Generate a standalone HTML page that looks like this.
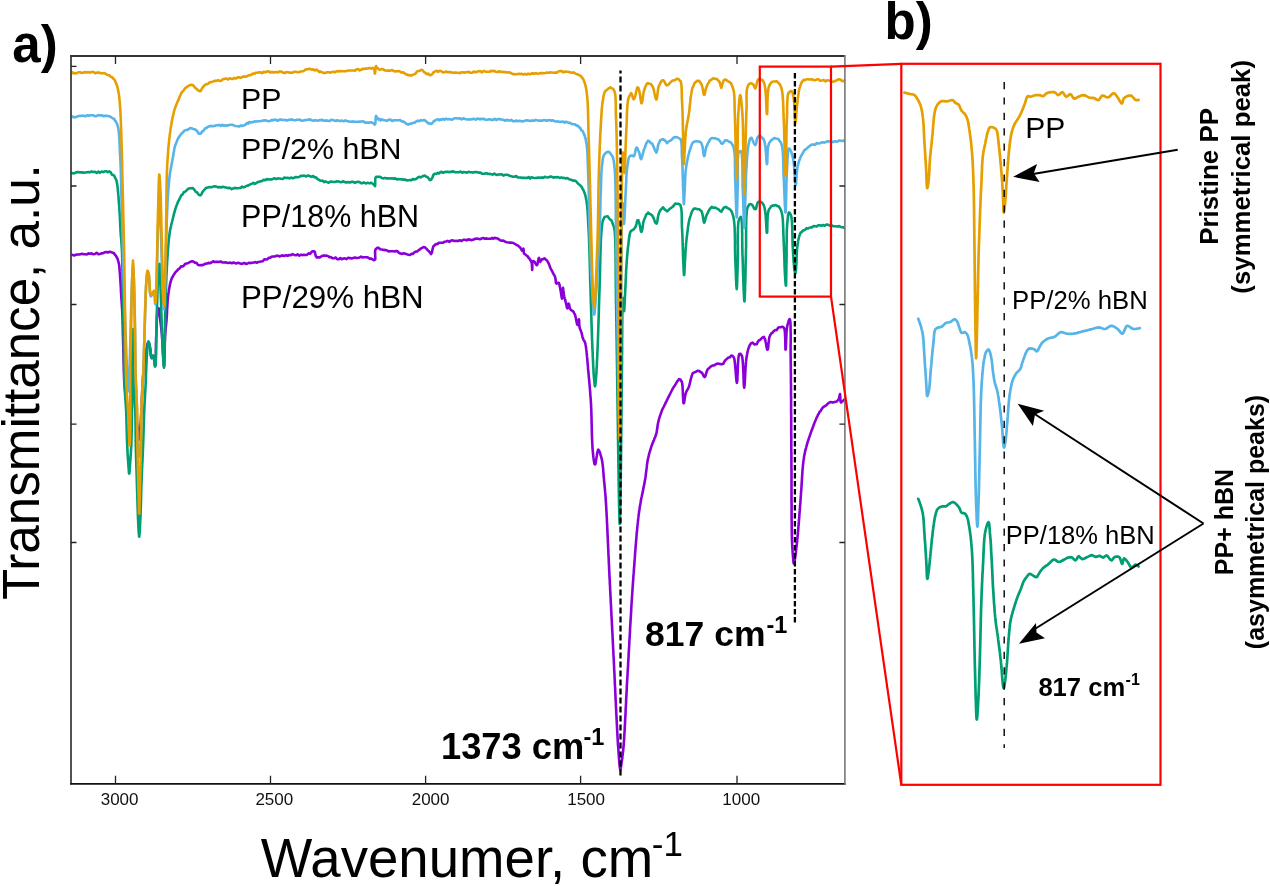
<!DOCTYPE html><html><head><meta charset="utf-8"><title>FTIR spectra</title><style>html,body{margin:0;padding:0;background:#fff;overflow:hidden}svg{display:block}</style></head><body><svg width="1270" height="886" viewBox="0 0 1270 886">
<rect width="1270" height="886" fill="#fff"/>
<defs><clipPath id="ca"><rect x="71.0" y="56.1" width="773.9" height="727.6"/></clipPath></defs>
<g clip-path="url(#ca)" fill="none" stroke-width="2.6" stroke-linejoin="round" stroke-linecap="round">
<path stroke="#8B00D9" d="M72.5 254.9L73.0 255.0 74.3 255.5 76.1 254.6 78.2 254.5 80.2 254.4 82.0 253.7 83.6 254.2 85.2 254.3 86.8 254.5 88.4 253.4 90.0 253.7 91.6 253.3 93.2 254.3 94.9 254.0 96.6 252.8 98.3 254.1 100.0 254.0 101.5 253.4 103.1 253.2 104.7 252.3 106.4 251.9 108.0 252.5 109.5 251.8 110.8 252.1 112.0 252.4 113.6 252.9 114.9 254.6 116.0 255.9 116.8 257.5 117.5 258.7 118.0 260.3 118.5 262.0 118.8 263.4 119.1 264.8 119.3 266.4 119.4 268.0 119.6 269.7 119.7 271.4 119.9 273.2 120.0 275.0 120.1 276.4 120.2 277.8 120.3 279.3 120.4 280.9 120.5 282.4 120.6 284.0 120.7 285.6 120.8 287.2 120.9 288.8 120.9 290.4 121.0 291.9 121.1 293.5 121.2 295.0 121.3 296.5 121.4 298.1 121.5 299.6 121.6 301.1 121.7 302.6 121.8 304.1 121.9 305.6 122.0 307.1 122.1 308.6 122.2 310.0 122.2 311.5 122.3 313.0 122.4 314.5 122.4 316.1 122.5 317.5 122.5 319.0 122.6 320.5 122.6 322.0 122.6 323.5 122.7 325.0 122.7 326.6 122.8 328.3 122.8 330.0 122.8 331.3 122.9 332.7 122.9 334.1 122.9 335.5 123.0 337.0 123.0 338.5 123.1 340.0 123.1 341.5 123.1 343.1 123.2 344.6 123.2 346.2 123.3 347.8 123.3 349.4 123.3 350.9 123.4 352.5 123.4 354.0 123.5 355.6 123.5 357.1 123.6 358.6 123.6 360.0 123.6 361.6 123.7 363.3 123.7 364.9 123.8 366.6 123.8 368.2 123.8 369.8 123.9 371.4 123.9 373.0 124.0 374.6 124.0 376.2 124.1 377.7 124.1 379.3 124.2 380.7 124.3 382.2 124.4 383.6 124.5 385.0 124.7 386.7 124.8 388.3 125.0 389.9 125.2 391.4 125.4 392.9 125.6 394.4 125.8 395.8 126.1 397.3 126.3 398.6 126.5 400.0 126.8 401.9 127.0 403.8 127.3 405.6 127.6 407.3 127.9 408.8 128.3 409.9 129.0 411.6 129.6 411.4 129.8 411.6 130.0 410.7 130.1 409.3 130.2 407.6 130.3 405.7 130.3 403.8 130.3 401.8 130.4 400.0 130.5 398.6 130.5 397.2 130.5 395.7 130.6 394.2 130.6 392.7 130.6 391.1 130.6 389.5 130.7 387.9 130.7 386.3 130.7 384.7 130.7 383.1 130.8 381.6 130.8 380.0 130.8 378.5 130.9 376.9 130.9 375.3 131.0 373.8 131.0 372.2 131.1 370.6 131.1 369.0 131.2 367.5 131.2 365.9 131.3 364.4 131.4 362.9 131.4 361.4 131.5 360.0 131.6 358.4 131.7 356.7 131.8 355.1 131.9 353.5 132.0 351.9 132.1 350.3 132.2 348.8 132.3 347.4 132.4 346.2 132.5 345.0 132.7 342.8 133.0 340.8 133.2 340.4 133.3 340.5 133.4 341.7 133.5 343.5 133.6 345.6 133.7 347.8 133.8 350.0 133.8 351.2 133.9 352.6 133.9 353.9 134.0 355.4 134.0 356.8 134.0 358.4 134.1 359.9 134.1 361.5 134.2 363.2 134.2 364.8 134.2 366.5 134.2 368.2 134.3 369.9 134.3 371.6 134.4 373.3 134.4 375.0 134.4 376.4 134.5 377.9 134.5 379.4 134.5 381.0 134.5 382.6 134.6 384.2 134.6 385.9 134.6 387.6 134.6 389.3 134.7 390.9 134.7 392.6 134.7 394.3 134.8 395.9 134.8 397.6 134.8 399.2 134.9 400.7 134.9 402.2 135.0 403.7 135.0 405.1 135.1 406.4 135.1 407.7 135.2 408.9 135.3 410.0 135.5 412.0 135.7 413.8 135.9 415.5 136.1 417.0 136.4 418.5 136.6 420.0 136.9 421.6 137.1 423.2 137.4 424.8 137.6 426.3 137.9 428.0 138.1 429.6 138.3 431.6 138.5 433.6 138.7 435.5 138.8 437.2 139.0 438.3 139.2 439.4 139.4 438.3 139.5 437.3 139.7 435.8 139.9 433.9 140.0 431.9 140.2 429.9 140.3 428.0 140.4 426.7 140.5 425.3 140.6 424.0 140.7 422.6 140.8 421.1 140.9 419.7 140.9 418.2 141.0 416.6 141.1 415.0 141.2 413.4 141.3 411.7 141.4 410.0 141.5 408.7 141.5 407.3 141.6 405.9 141.7 404.5 141.7 403.0 141.8 401.4 141.9 399.9 141.9 398.3 142.0 396.6 142.1 395.0 142.2 393.4 142.2 391.7 142.3 390.1 142.4 388.5 142.5 386.8 142.5 385.2 142.6 383.7 142.7 382.1 142.8 380.6 142.9 379.1 143.0 377.7 143.1 376.3 143.2 375.0 143.4 373.2 143.5 371.4 143.7 369.7 143.9 368.0 144.1 366.4 144.3 364.8 144.5 363.2 144.7 361.7 144.9 360.2 145.1 358.7 145.3 357.4 145.5 356.0 145.7 354.1 146.0 352.3 146.2 350.5 146.4 348.9 146.7 347.4 147.0 346.0 147.7 343.4 148.4 342.7 148.9 342.8 149.3 344.6 149.8 346.9 150.2 349.0 150.4 350.6 150.6 352.5 150.8 354.5 151.0 356.2 151.3 357.5 151.6 358.1 152.4 357.3 153.2 356.0 153.6 356.8 154.0 358.7 154.3 361.1 154.6 363.5 154.9 365.3 155.1 365.8 155.2 365.9 155.3 365.4 155.4 364.6 155.5 363.7 155.6 362.5 155.7 361.1 155.7 359.5 155.8 357.8 155.8 356.0 155.9 354.1 155.9 352.1 155.9 350.0 156.0 348.0 156.0 345.9 156.0 343.9 156.1 341.9 156.1 340.0 156.2 338.2 156.2 336.5 156.3 335.0 156.4 333.3 156.4 331.6 156.5 329.9 156.5 328.1 156.6 326.4 156.7 324.6 156.7 322.9 156.8 321.3 156.8 319.7 156.9 318.1 157.0 316.7 157.1 315.3 157.2 314.1 157.4 313.0 157.5 312.0 158.1 309.3 158.7 308.4 159.0 308.5 159.2 309.8 159.4 311.6 159.6 313.7 159.8 316.0 160.0 318.0 160.2 319.4 160.3 320.8 160.5 322.3 160.7 323.8 160.9 325.3 161.1 326.9 161.3 328.5 161.4 330.1 161.6 331.7 161.8 333.4 161.9 335.0 162.0 336.4 162.1 337.9 162.2 339.5 162.3 341.1 162.4 342.6 162.5 344.2 162.6 345.8 162.7 347.4 162.8 349.0 162.9 350.5 162.9 352.0 163.0 353.4 163.1 354.7 163.2 356.0 163.3 358.1 163.5 360.3 163.6 362.5 163.7 364.3 163.9 365.5 164.0 365.9 164.1 365.8 164.1 365.4 164.2 364.6 164.2 363.6 164.3 362.4 164.4 360.9 164.4 359.3 164.5 357.6 164.5 355.7 164.6 353.7 164.6 351.7 164.7 349.6 164.7 347.6 164.8 345.5 164.8 343.5 164.9 341.5 165.0 339.7 165.0 338.0 165.1 336.4 165.2 335.0 165.3 333.2 165.5 331.5 165.6 329.9 165.7 328.4 165.9 326.9 166.0 325.4 166.2 323.9 166.3 322.3 166.5 320.7 166.6 319.0 166.7 317.5 166.8 316.0 166.9 314.5 167.0 312.9 167.0 311.3 167.1 309.7 167.2 308.0 167.3 306.4 167.4 304.7 167.5 303.1 167.6 301.5 167.7 299.9 167.9 298.3 168.0 296.8 168.2 295.4 168.4 293.7 168.7 291.9 168.9 290.2 169.2 288.6 169.5 286.9 169.8 285.3 170.1 283.8 170.5 282.3 170.9 280.9 171.4 279.5 172.0 277.8 172.7 276.9 173.4 275.3 174.2 274.3 175.1 272.6 176.1 271.6 177.2 270.5 178.4 269.2 179.7 268.4 181.0 266.4 182.4 266.5 183.7 265.8 185.0 264.0 186.7 263.4 188.4 263.0 190.1 261.9 191.9 261.3 193.4 261.6 194.9 262.8 196.5 262.9 198.1 265.0 199.9 265.3 201.2 265.1 202.5 265.1 203.9 264.5 205.3 263.7 206.8 263.6 208.3 262.9 209.9 263.2 211.5 262.5 213.1 261.3 214.8 262.1 216.2 261.8 217.6 261.9 219.1 262.0 220.6 261.5 222.2 262.4 223.7 262.5 225.3 262.4 227.0 262.7 228.6 263.0 230.2 262.6 231.8 263.3 233.4 262.5 235.0 263.1 236.6 263.4 238.1 262.8 239.6 263.3 241.2 263.7 242.8 263.6 244.4 263.0 246.1 263.9 247.6 263.4 249.2 262.8 250.8 263.1 252.3 262.8 253.8 262.5 255.3 262.1 256.7 262.8 258.1 262.0 259.5 261.8 261.2 261.5 262.8 261.3 264.3 259.3 265.8 259.6 267.2 259.2 268.7 257.9 270.3 257.6 271.9 256.6 273.4 256.5 274.9 256.5 276.4 255.8 278.0 255.7 279.6 256.5 281.2 255.7 282.8 255.4 284.5 255.9 286.1 255.2 287.7 255.7 289.3 255.0 290.9 255.2 292.6 254.1 294.3 254.9 296.0 255.3 297.6 254.3 299.3 255.7 301.0 254.7 302.5 255.1 304.0 254.7 305.4 255.0 306.7 255.0 308.5 253.4 310.2 253.7 311.7 251.8 313.0 251.2 314.1 251.2 314.9 252.1 315.3 254.1 315.8 256.1 316.6 257.4 318.0 257.2 319.8 257.4 321.9 256.1 324.0 255.4 325.3 255.8 326.6 255.6 328.0 256.1 329.4 257.3 330.9 257.1 332.4 258.2 334.0 258.3 335.6 257.5 337.2 259.2 338.9 259.3 340.3 258.0 341.8 259.2 343.3 258.5 344.9 258.4 346.6 259.1 348.2 257.8 349.9 258.1 351.6 258.5 353.3 258.0 354.9 257.5 356.6 258.1 358.1 257.8 359.7 257.4 361.1 256.6 362.4 257.4 363.7 257.2 365.7 257.2 367.7 257.4 369.6 258.6 371.2 258.5 372.6 259.4 373.7 260.1 374.5 260.0 375.0 259.7 375.3 259.2 375.3 257.7 375.2 255.7 375.1 253.5 375.1 251.4 375.4 249.7 376.1 248.9 377.1 247.8 378.5 247.7 380.1 249.2 381.9 249.5 383.7 249.9 385.5 250.1 387.2 250.5 388.6 251.4 390.3 251.3 391.8 251.2 393.3 251.2 395.0 251.5 396.2 250.9 397.6 251.3 399.0 252.9 400.6 253.4 402.1 253.9 403.7 253.2 405.3 253.7 406.9 254.3 408.4 254.7 409.9 255.0 411.3 253.9 412.7 254.0 414.2 252.5 415.7 251.6 417.1 251.4 418.6 250.2 420.0 249.4 421.3 248.2 422.5 247.7 423.7 247.0 424.8 247.2 426.3 248.6 427.7 250.2 428.9 251.2 430.0 252.6 431.0 254.1 431.7 253.1 432.1 251.7 432.4 250.0 432.8 248.1 433.5 246.1 434.7 245.3 435.5 244.2 436.4 244.1 437.5 244.2 438.7 242.8 439.9 242.8 441.3 242.8 442.8 242.8 444.3 241.8 445.9 241.5 447.6 240.9 449.3 241.9 451.1 240.5 452.8 240.4 454.6 241.0 456.4 240.8 458.2 241.0 459.9 240.3 461.6 240.9 463.3 239.7 465.0 239.8 466.6 240.4 468.1 239.4 469.5 239.6 471.2 240.1 472.9 239.8 474.7 239.0 476.4 238.6 478.1 238.8 479.9 239.2 481.6 238.5 483.3 238.0 484.9 238.7 486.5 238.4 488.0 238.8 489.4 238.8 490.8 238.7 492.1 238.0 493.2 238.6 494.3 237.9 496.5 238.2 498.2 238.8 500.0 240.2 501.7 240.8 503.4 240.6 505.1 241.6 506.7 242.2 508.5 242.5 510.2 242.6 512.0 242.8 513.4 243.0 515.0 244.0 516.5 245.0 517.9 245.4 519.1 246.6 520.3 247.7 521.2 249.1 522.0 250.7 522.8 250.2 523.4 248.7 523.7 250.1 523.7 252.1 524.1 253.7 525.4 254.5 526.8 255.7 527.8 256.4 528.7 258.0 529.5 258.6 530.6 260.5 531.5 262.1 531.9 263.9 532.0 266.3 532.1 268.4 532.2 269.9 532.3 268.5 532.3 266.5 532.3 264.2 532.5 262.1 532.9 261.3 533.8 261.1 534.9 262.2 536.0 264.5 536.9 265.2 537.4 264.4 537.8 262.5 538.2 260.3 538.6 258.5 539.0 257.9 539.6 259.7 540.3 261.9 541.0 260.8 542.0 259.3 543.2 259.1 544.4 258.3 545.8 259.6 547.1 260.7 547.8 261.9 548.5 263.1 549.1 264.6 549.8 266.3 550.4 268.0 551.1 269.4 551.8 270.7 552.6 272.2 553.3 273.6 554.0 274.7 554.7 276.0 555.2 277.4 555.6 279.4 555.8 281.5 556.0 283.2 556.5 283.6 557.5 283.0 558.6 282.7 559.4 284.3 559.9 286.9 560.2 288.4 560.5 290.1 560.8 291.8 561.1 293.5 561.3 295.0 561.7 297.6 562.0 298.6 562.1 298.4 562.3 296.9 562.4 294.7 562.6 292.5 562.7 290.3 562.8 288.8 563.0 287.8 563.2 288.9 563.4 290.7 563.7 292.9 564.0 295.0 564.3 296.6 564.7 298.3 565.2 299.9 565.6 301.6 566.0 303.1 566.5 305.4 566.9 307.5 567.4 308.5 567.8 307.1 568.3 304.5 568.7 303.7 569.1 304.2 569.5 306.5 570.1 308.7 571.0 310.0 572.1 310.8 573.1 311.2 574.1 313.1 574.9 314.4 575.5 316.6 575.9 318.3 576.3 320.5 576.7 322.6 577.1 324.2 577.5 325.0 578.0 323.4 578.5 320.7 578.9 319.3 579.1 319.9 579.2 321.5 579.2 323.6 579.4 325.7 579.6 327.5 580.2 329.3 580.9 331.1 581.6 332.9 582.0 334.7 582.4 336.6 582.9 338.3 583.6 340.1 584.3 340.8 585.0 342.4 585.4 343.7 585.6 345.0 585.9 346.5 586.1 348.1 586.3 349.9 586.5 351.1 586.6 352.4 586.8 353.8 586.9 355.2 587.0 356.7 587.2 358.2 587.3 359.8 587.5 361.5 587.6 363.1 587.8 364.8 587.9 366.5 588.0 368.3 588.2 370.0 588.3 371.4 588.4 372.8 588.6 374.2 588.7 375.6 588.8 377.1 589.0 378.5 589.1 380.0 589.3 381.5 589.4 383.0 589.5 384.6 589.7 386.1 589.8 387.7 589.9 389.3 590.1 390.9 590.2 392.5 590.3 394.1 590.4 395.8 590.6 397.4 590.7 399.1 590.8 400.8 590.9 402.5 591.0 403.9 591.1 405.3 591.1 406.8 591.2 408.3 591.3 409.9 591.3 411.5 591.4 413.1 591.4 414.7 591.5 416.4 591.5 418.0 591.6 419.7 591.6 421.4 591.6 423.1 591.7 424.8 591.7 426.5 591.8 428.2 591.8 429.9 591.8 431.5 591.9 433.2 591.9 434.8 592.0 436.4 592.0 438.0 592.1 439.5 592.2 441.0 592.2 442.5 592.3 443.9 592.4 445.3 592.4 446.6 592.5 447.9 592.6 449.1 592.7 450.2 592.8 451.3 593.0 453.3 593.2 455.4 593.4 457.4 593.7 459.4 593.9 461.1 594.2 462.6 594.4 463.8 594.7 464.3 595.0 464.2 595.3 464.4 595.6 463.3 595.9 461.6 596.2 459.6 596.5 457.4 596.9 455.3 597.2 453.2 597.6 451.6 597.9 450.4 598.3 449.7 598.9 450.3 599.5 451.3 600.1 453.2 600.7 455.3 601.3 457.4 601.8 459.4 602.1 460.7 602.3 462.1 602.5 463.6 602.7 465.1 602.9 466.8 603.1 468.4 603.2 470.1 603.3 471.8 603.5 473.4 603.6 475.1 603.7 476.8 603.9 478.4 604.0 480.0 604.2 481.6 604.3 483.1 604.5 484.5 604.6 485.9 604.7 487.3 604.9 488.7 605.0 490.2 605.1 491.7 605.3 493.3 605.4 495.1 605.6 497.0 605.7 499.0 605.8 500.0 605.8 501.1 605.9 502.2 606.0 503.3 606.1 504.5 606.1 505.7 606.2 506.9 606.3 508.2 606.3 509.5 606.4 510.8 606.5 512.2 606.6 513.6 606.6 515.0 606.7 516.4 606.8 517.9 606.9 519.4 606.9 520.9 607.0 522.4 607.1 524.0 607.2 525.5 607.2 527.1 607.3 528.7 607.4 530.3 607.5 531.9 607.5 533.6 607.6 535.2 607.7 536.9 607.8 538.5 607.8 540.2 607.9 541.9 608.0 543.6 608.1 545.3 608.1 547.0 608.2 548.7 608.3 550.4 608.4 552.1 608.4 553.8 608.5 555.5 608.6 557.1 608.7 558.8 608.8 560.5 608.8 562.2 608.9 563.8 609.0 565.5 609.1 567.1 609.1 568.8 609.2 570.4 609.3 572.0 609.4 573.6 609.4 575.1 609.5 576.7 609.6 578.2 609.7 579.7 609.8 581.2 609.8 582.8 609.9 584.3 610.0 585.8 610.1 587.3 610.1 588.8 610.2 590.3 610.3 591.8 610.4 593.4 610.4 594.9 610.5 596.4 610.6 597.9 610.7 599.4 610.7 600.9 610.8 602.5 610.9 604.0 611.0 605.5 611.1 607.0 611.1 608.5 611.2 610.0 611.3 611.5 611.4 613.1 611.4 614.6 611.5 616.1 611.6 617.6 611.7 619.1 611.8 620.6 611.8 622.2 611.9 623.7 612.0 625.2 612.1 626.7 612.1 628.2 612.2 629.7 612.3 631.2 612.4 632.8 612.5 634.3 612.5 635.8 612.6 637.3 612.7 638.8 612.8 640.3 612.8 641.8 612.9 643.4 613.0 644.9 613.1 646.4 613.1 647.9 613.2 649.4 613.3 650.9 613.4 652.5 613.4 654.0 613.5 655.5 613.6 657.0 613.7 658.5 613.8 660.1 613.8 661.6 613.9 663.2 614.0 664.8 614.1 666.4 614.1 668.0 614.2 669.6 614.3 671.2 614.4 672.8 614.5 674.5 614.5 676.1 614.6 677.8 614.7 679.4 614.8 681.1 614.8 682.8 614.9 684.4 615.0 686.1 615.1 687.7 615.2 689.4 615.2 691.0 615.3 692.7 615.4 694.3 615.5 696.0 615.5 697.6 615.6 699.3 615.7 700.9 615.8 702.5 615.9 704.1 615.9 705.7 616.0 707.3 616.1 708.8 616.2 710.4 616.2 711.9 616.3 713.4 616.4 715.0 616.5 716.4 616.5 717.9 616.6 719.4 616.7 720.8 616.8 722.2 616.8 723.6 616.9 724.9 617.0 726.3 617.0 727.6 617.1 728.9 617.2 730.1 617.2 731.4 617.3 732.6 617.4 733.7 617.4 734.9 617.5 736.0 617.6 738.0 617.7 739.9 617.8 741.7 617.9 743.5 618.0 745.3 618.2 747.0 618.3 748.6 618.4 750.2 618.5 751.7 618.6 753.2 618.7 754.6 618.8 756.0 618.9 757.3 619.0 758.6 619.1 759.8 619.2 761.0 619.4 763.3 619.6 765.5 619.8 767.5 620.1 769.0 620.3 769.8 620.6 768.9 620.9 767.2 621.2 765.1 621.5 763.0 621.7 761.8 621.9 760.6 622.1 759.3 622.3 758.0 622.4 756.6 622.6 755.1 622.8 753.5 623.0 751.8 623.2 750.0 623.4 748.0 623.5 747.0 623.6 746.0 623.7 745.0 623.7 743.9 623.8 742.7 623.9 741.6 624.0 740.4 624.1 739.1 624.2 737.9 624.2 736.6 624.3 735.2 624.4 733.9 624.5 732.5 624.6 731.1 624.7 729.6 624.7 728.1 624.8 726.7 624.9 725.1 625.0 723.6 625.1 722.1 625.1 720.5 625.2 718.9 625.3 717.3 625.4 715.7 625.5 714.0 625.6 712.4 625.6 710.7 625.7 709.0 625.8 707.4 625.9 705.7 626.0 704.0 626.1 702.3 626.1 700.6 626.2 698.9 626.3 697.2 626.4 695.4 626.5 693.7 626.6 692.0 626.7 690.3 626.8 688.6 626.8 686.9 626.9 685.2 627.0 683.5 627.1 681.9 627.2 680.2 627.3 678.5 627.4 676.9 627.5 675.5 627.6 674.1 627.6 672.7 627.7 671.2 627.8 669.8 627.9 668.3 628.0 666.9 628.1 665.4 628.1 663.9 628.2 662.4 628.3 660.9 628.4 659.4 628.5 657.9 628.6 656.4 628.6 654.8 628.7 653.3 628.8 651.8 628.9 650.2 629.0 648.7 629.1 647.1 629.2 645.5 629.3 644.0 629.3 642.4 629.4 640.8 629.5 639.2 629.6 637.7 629.7 636.1 629.8 634.5 629.9 632.9 630.0 631.3 630.0 629.8 630.1 628.2 630.2 626.6 630.3 625.0 630.4 623.4 630.5 621.8 630.6 620.2 630.7 618.7 630.8 617.1 630.9 615.5 631.0 613.9 631.1 612.4 631.2 610.8 631.2 609.3 631.3 607.7 631.4 606.1 631.5 604.6 631.6 603.1 631.7 601.5 631.8 600.0 631.9 598.5 632.0 597.0 632.1 595.5 632.2 594.0 632.3 592.5 632.4 591.0 632.5 589.6 632.6 588.1 632.7 586.7 632.8 585.2 632.9 583.8 633.0 582.4 633.1 581.0 633.2 579.6 633.3 578.2 633.4 576.5 633.5 574.9 633.7 573.2 633.8 571.5 633.9 569.8 634.0 568.2 634.2 566.5 634.3 564.8 634.4 563.2 634.5 561.5 634.6 559.9 634.8 558.2 634.9 556.6 635.0 555.0 635.1 553.4 635.2 551.7 635.4 550.1 635.5 548.5 635.6 546.9 635.7 545.3 635.9 543.8 636.0 542.2 636.1 540.6 636.3 539.1 636.4 537.6 636.5 536.0 636.6 534.5 636.8 533.0 636.9 531.5 637.1 530.1 637.2 528.6 637.3 527.1 637.5 525.7 637.6 524.3 637.8 522.9 637.9 521.5 638.1 520.1 638.2 518.8 638.4 517.4 638.5 516.1 638.7 514.8 638.9 513.5 639.0 512.2 639.2 511.0 639.5 509.2 639.7 507.5 640.0 505.8 640.3 504.2 640.6 502.5 640.8 500.9 641.1 499.4 641.4 497.8 641.8 496.3 642.1 494.8 642.4 493.4 642.7 491.9 643.0 490.5 643.3 489.1 643.5 487.7 643.8 486.3 644.1 484.9 644.4 483.6 644.6 482.2 644.9 480.9 645.1 479.5 645.4 477.9 645.6 476.2 645.8 474.6 646.0 473.0 646.2 471.5 646.4 469.9 646.6 468.4 646.8 466.9 646.9 465.4 647.1 464.0 647.3 462.6 647.6 461.1 647.8 459.8 648.1 458.4 648.5 456.7 648.9 455.0 649.3 453.3 649.8 451.7 650.3 450.2 650.7 448.6 651.2 447.1 651.7 445.6 652.2 444.2 652.8 442.7 653.4 441.4 654.0 439.9 654.6 438.2 655.2 437.0 655.7 435.5 656.2 434.0 656.6 432.6 656.8 431.1 657.1 429.6 657.3 428.0 657.5 426.5 657.7 424.9 658.0 423.4 658.3 421.9 658.7 420.3 659.1 418.8 659.6 417.2 660.1 415.6 660.7 414.0 661.2 412.5 661.7 411.1 662.3 409.6 662.9 408.3 663.6 407.0 664.3 405.6 664.9 404.4 665.7 402.6 666.4 401.4 667.0 400.2 667.6 398.7 668.3 397.5 669.0 395.9 669.6 394.8 670.3 393.5 671.0 392.0 671.8 390.5 672.5 389.2 673.4 387.5 674.3 386.2 675.2 385.0 676.2 383.1 677.2 381.3 678.1 380.6 678.9 379.1 679.6 379.2 680.7 379.9 681.6 381.5 681.9 382.1 682.2 383.5 682.4 385.2 682.6 387.1 682.7 389.2 682.8 391.4 682.9 393.6 683.0 395.8 683.1 397.9 683.2 399.7 683.3 401.3 683.4 402.5 683.5 403.3 683.7 402.9 684.0 403.1 684.3 401.6 684.6 399.6 684.9 397.3 685.3 395.2 685.7 393.4 686.4 391.6 687.1 390.2 687.9 389.1 688.7 387.2 689.2 386.0 689.6 384.4 690.0 382.7 690.4 380.9 690.8 379.0 691.3 377.3 691.8 375.6 692.3 374.2 693.0 373.0 693.8 372.6 695.4 372.0 697.4 370.8 699.3 371.0 700.9 372.3 702.0 372.7 703.0 374.8 703.8 376.4 704.6 377.1 705.3 376.5 705.8 374.6 706.4 372.6 707.0 370.7 708.0 369.0 709.2 368.0 710.7 366.6 712.4 365.5 714.1 365.4 715.7 364.4 717.2 363.6 719.1 363.7 720.8 364.3 722.3 364.1 723.4 363.7 724.2 361.9 725.3 360.3 726.6 359.1 728.1 357.7 729.8 357.3 731.3 355.5 732.4 355.7 733.3 356.8 734.0 357.9 734.3 358.8 734.5 360.0 734.7 361.5 734.9 363.2 735.1 365.2 735.3 367.2 735.5 369.3 735.7 371.5 735.8 373.5 736.0 375.5 736.1 377.4 736.3 379.0 736.4 380.4 736.6 381.4 736.7 382.1 736.9 382.8 737.0 382.1 737.2 381.4 737.3 380.5 737.4 379.2 737.4 377.6 737.5 375.8 737.6 373.8 737.7 371.7 737.7 369.6 737.8 367.4 737.9 365.2 738.0 363.1 738.2 361.0 738.3 359.2 738.5 357.5 738.7 356.1 738.9 355.0 739.2 354.1 739.5 354.0 740.5 353.7 741.5 355.3 741.8 355.5 742.1 356.4 742.3 357.6 742.5 359.1 742.7 360.8 742.8 362.7 743.0 364.7 743.1 366.8 743.2 369.0 743.3 371.2 743.4 373.4 743.5 375.5 743.5 377.6 743.6 379.6 743.7 381.4 743.7 383.1 743.8 384.5 743.9 385.7 744.0 386.6 744.1 387.1 744.2 387.7 744.3 387.2 744.4 386.7 744.5 385.9 744.6 384.9 744.7 383.6 744.8 382.2 744.9 380.6 745.0 378.8 745.1 376.9 745.2 375.0 745.3 372.9 745.4 370.9 745.5 368.8 745.6 366.8 745.8 364.9 745.9 363.0 746.1 361.2 746.2 359.6 746.4 358.2 746.6 356.9 747.0 354.9 747.3 353.1 747.7 351.3 748.1 349.7 748.6 348.2 749.1 346.8 749.7 345.3 751.1 343.2 752.7 342.6 754.3 344.4 755.8 344.3 756.8 344.2 757.7 342.1 758.8 340.5 760.4 339.6 762.3 337.7 763.9 336.9 764.6 338.4 765.2 339.8 765.6 341.8 766.1 344.0 766.4 346.2 766.8 348.0 767.1 349.5 767.5 349.7 767.8 349.5 768.1 348.3 768.3 346.8 768.4 344.8 768.6 342.7 768.9 340.6 769.1 338.6 769.5 336.8 770.0 335.7 771.1 333.6 772.5 332.7 774.0 330.8 775.2 330.1 776.7 330.1 778.3 327.5 779.8 327.3 781.1 327.1 782.2 326.8 783.4 327.3 784.2 328.3 784.5 329.3 784.7 330.6 784.9 332.2 785.0 334.1 785.1 336.1 785.2 338.2 785.3 340.3 785.3 342.4 785.3 344.4 785.4 346.1 785.4 347.6 785.4 348.8 785.5 349.5 785.6 349.6 785.7 349.6 785.8 348.9 785.9 347.9 785.9 346.6 786.0 345.0 786.1 343.1 786.1 341.2 786.2 339.1 786.3 337.0 786.4 334.9 786.5 332.9 786.6 330.9 786.8 329.2 787.0 327.7 787.2 326.4 787.6 324.5 788.2 322.5 788.7 320.8 789.3 319.4 789.7 319.1 789.9 319.4 790.0 319.7 790.1 320.2 790.2 320.9 790.3 321.7 790.4 322.7 790.5 323.8 790.5 325.1 790.6 326.4 790.6 327.9 790.6 329.5 790.6 331.2 790.7 333.0 790.7 334.8 790.7 336.7 790.7 338.7 790.7 340.7 790.7 342.7 790.6 344.7 790.6 346.8 790.6 348.9 790.6 351.0 790.6 353.0 790.6 355.0 790.7 357.0 790.7 359.0 790.7 360.9 790.7 362.1 790.7 363.3 790.8 364.5 790.8 365.8 790.8 367.1 790.8 368.4 790.8 369.7 790.8 371.0 790.8 372.3 790.9 373.7 790.9 375.1 790.9 376.5 790.9 377.9 790.9 379.3 790.9 380.7 790.9 382.2 791.0 383.7 791.0 385.1 791.0 386.6 791.0 388.1 791.0 389.6 791.0 391.2 791.0 392.7 791.0 394.2 791.0 395.8 791.1 397.3 791.1 398.9 791.1 400.5 791.1 402.1 791.1 403.6 791.1 405.2 791.1 406.8 791.1 408.4 791.1 410.0 791.1 411.6 791.1 413.2 791.2 414.9 791.2 416.5 791.2 418.1 791.2 419.7 791.2 421.3 791.2 422.9 791.2 424.5 791.2 426.1 791.2 427.7 791.2 429.3 791.2 431.0 791.2 432.5 791.2 434.1 791.3 435.7 791.3 437.3 791.3 438.9 791.3 440.5 791.3 442.0 791.3 443.6 791.3 445.1 791.3 446.7 791.3 448.2 791.3 449.7 791.3 451.2 791.4 452.7 791.4 454.2 791.4 455.7 791.4 457.1 791.4 458.6 791.4 460.0 791.4 461.6 791.4 463.2 791.4 464.8 791.4 466.4 791.4 468.1 791.5 469.7 791.5 471.4 791.5 473.0 791.5 474.7 791.5 476.4 791.5 478.1 791.5 479.7 791.5 481.4 791.5 483.1 791.5 484.8 791.5 486.5 791.5 488.2 791.5 489.9 791.5 491.6 791.5 493.3 791.5 495.0 791.5 496.6 791.5 498.3 791.5 500.0 791.5 501.6 791.6 503.3 791.6 504.9 791.6 506.5 791.6 508.1 791.6 509.7 791.6 511.3 791.6 512.9 791.6 514.4 791.6 515.9 791.6 517.4 791.6 518.9 791.6 520.4 791.7 521.8 791.7 523.2 791.7 524.6 791.7 526.0 791.7 527.3 791.7 528.7 791.7 529.9 791.8 531.2 791.8 532.4 791.8 533.6 791.8 534.8 791.9 535.9 791.9 537.0 791.9 538.1 791.9 539.1 792.0 540.1 792.0 541.0 792.1 543.1 792.2 545.1 792.3 546.9 792.4 548.6 792.5 550.2 792.6 551.7 792.7 553.1 792.8 554.4 792.9 555.7 793.0 557.0 793.2 559.2 793.4 561.4 793.6 563.0 793.8 563.5 794.3 562.4 794.8 559.7 795.0 558.7 795.1 557.7 795.3 556.5 795.5 555.2 795.7 553.8 795.9 552.3 796.0 550.8 796.2 549.2 796.4 547.5 796.6 545.9 796.8 544.1 797.0 542.4 797.2 540.7 797.3 539.0 797.5 537.3 797.6 535.9 797.8 534.6 797.9 533.2 798.0 531.7 798.2 530.3 798.3 528.8 798.4 527.3 798.5 525.8 798.7 524.3 798.8 522.8 798.9 521.2 799.0 519.7 799.2 518.1 799.3 516.5 799.4 515.0 799.5 513.4 799.6 511.8 799.8 510.2 799.9 508.6 800.0 507.0 800.1 505.4 800.3 503.8 800.4 502.3 800.5 500.7 800.6 499.2 800.7 497.7 800.8 496.2 800.9 494.6 801.0 493.0 801.1 491.4 801.3 489.8 801.4 488.1 801.5 486.5 801.6 484.8 801.7 483.2 801.8 481.6 801.9 479.9 802.0 478.3 802.1 476.7 802.2 475.1 802.3 473.6 802.4 472.0 802.5 470.5 802.6 469.1 802.8 467.6 802.9 466.2 803.0 464.9 803.2 463.6 803.3 462.3 803.4 461.1 803.6 460.0 803.9 458.1 804.1 456.5 804.4 454.9 804.7 453.4 805.0 452.0 805.3 450.6 805.7 449.2 806.1 447.8 806.5 446.2 806.9 444.7 807.3 443.3 807.8 441.7 808.3 440.2 808.8 438.6 809.3 437.0 809.9 435.5 810.4 433.9 811.0 432.3 811.5 430.8 812.1 429.3 812.6 428.0 813.2 426.3 813.8 424.8 814.3 423.2 814.9 421.8 815.5 420.4 816.1 419.0 816.7 417.5 817.4 416.4 818.0 414.6 818.7 414.0 819.6 411.8 820.6 411.1 821.6 409.2 822.6 407.7 823.7 406.8 824.8 406.1 826.2 405.3 827.7 403.7 829.3 402.5 830.9 402.1 832.7 402.6 834.7 402.1 836.6 401.6 838.0 400.0 838.8 399.0 839.3 396.9 839.7 395.1 840.0 394.1 840.2 395.2 840.3 397.2 840.4 399.6 840.6 401.6 841.1 402.5 842.3 401.4 843.9 400.1 845.4 398.3 846.0 398.5"/>
<path stroke="#009E73" d="M72.5 173.2L73.0 173.4 74.3 173.3 76.1 172.4 78.2 172.0 80.2 172.4 82.0 172.2 83.6 172.8 85.2 172.5 86.8 172.3 88.4 172.1 90.0 172.2 91.6 171.5 93.3 172.0 95.0 171.7 96.7 172.9 98.4 171.6 100.0 172.8 101.7 171.5 103.3 172.1 104.9 171.3 106.5 171.3 107.9 172.1 109.3 171.4 110.7 172.3 111.9 174.6 113.0 175.0 114.2 175.6 115.1 177.9 116.0 179.4 116.3 180.1 116.6 181.2 116.9 182.4 117.1 183.7 117.3 185.1 117.5 186.6 117.7 188.2 117.9 189.8 118.0 191.5 118.2 193.2 118.3 194.9 118.5 196.7 118.6 198.4 118.7 200.1 118.8 201.8 119.0 203.4 119.1 205.0 119.2 206.5 119.3 208.0 119.4 209.5 119.5 211.1 119.6 212.6 119.7 214.2 119.8 215.7 119.9 217.3 119.9 218.8 120.0 220.3 120.1 221.9 120.2 223.4 120.2 224.9 120.3 226.4 120.4 227.8 120.4 229.2 120.5 230.6 120.6 232.0 120.7 233.6 120.8 235.1 120.9 236.6 121.1 238.0 121.2 239.4 121.3 240.8 121.4 242.2 121.5 243.6 121.6 245.1 121.7 246.6 121.8 248.3 121.9 250.0 122.0 251.3 122.0 252.6 122.1 253.9 122.1 255.3 122.1 256.7 122.2 258.2 122.2 259.6 122.2 261.1 122.3 262.7 122.3 264.2 122.3 265.8 122.4 267.4 122.4 269.0 122.4 270.6 122.4 272.3 122.5 273.9 122.5 275.5 122.5 277.2 122.5 278.8 122.5 280.4 122.6 282.1 122.6 283.7 122.6 285.3 122.6 286.9 122.7 288.5 122.7 290.0 122.7 291.5 122.8 293.1 122.8 294.6 122.8 296.1 122.9 297.6 122.9 299.1 122.9 300.7 122.9 302.2 123.0 303.7 123.0 305.2 123.0 306.7 123.1 308.2 123.1 309.7 123.1 311.2 123.2 312.8 123.2 314.3 123.2 315.8 123.3 317.4 123.3 318.9 123.3 320.5 123.3 322.0 123.4 323.6 123.4 325.2 123.4 326.8 123.5 328.4 123.5 330.0 123.5 331.4 123.6 332.9 123.6 334.4 123.6 336.0 123.6 337.6 123.7 339.1 123.7 340.8 123.7 342.4 123.7 344.0 123.8 345.7 123.8 347.3 123.8 349.0 123.8 350.7 123.9 352.3 123.9 354.0 123.9 355.7 123.9 357.3 124.0 358.9 124.0 360.6 124.0 362.2 124.0 363.7 124.1 365.3 124.1 366.8 124.1 368.3 124.1 369.8 124.2 371.2 124.2 372.6 124.2 374.0 124.3 375.3 124.3 376.5 124.3 377.7 124.4 378.9 124.4 380.0 124.5 381.9 124.5 383.6 124.6 385.1 124.7 386.6 124.7 388.0 124.8 389.4 124.9 390.8 124.9 392.1 125.0 393.5 125.1 395.0 125.2 396.5 125.3 397.9 125.4 399.3 125.5 400.7 125.6 402.1 125.7 403.5 125.8 405.0 125.9 406.6 126.0 408.2 126.1 410.0 126.2 411.2 126.2 412.5 126.3 413.9 126.3 415.3 126.4 416.8 126.4 418.3 126.5 419.9 126.5 421.5 126.5 423.1 126.6 424.7 126.6 426.4 126.7 428.0 126.7 429.7 126.8 431.3 126.8 433.0 126.8 434.6 126.9 436.2 126.9 437.8 127.0 439.3 127.0 440.8 127.1 442.3 127.1 443.7 127.2 445.0 127.3 446.7 127.4 448.5 127.5 450.2 127.5 451.8 127.6 453.5 127.7 455.1 127.8 456.6 127.9 458.1 128.0 459.6 128.1 461.0 128.2 462.4 128.3 463.7 128.4 465.0 128.5 466.9 128.7 468.9 128.8 470.8 128.9 472.5 129.1 473.6 129.2 473.3 129.3 473.6 129.5 472.5 129.6 470.8 129.7 468.9 129.9 466.9 130.0 465.0 130.1 463.7 130.2 462.4 130.3 461.0 130.4 459.6 130.5 458.1 130.6 456.6 130.7 455.1 130.8 453.5 130.9 451.8 131.0 450.2 131.1 448.5 131.2 446.7 131.3 445.0 131.4 443.7 131.4 442.3 131.4 440.9 131.5 439.5 131.5 438.0 131.6 436.5 131.6 435.0 131.6 433.4 131.7 431.9 131.7 430.3 131.7 428.7 131.7 427.1 131.8 425.6 131.8 424.0 131.8 422.4 131.8 420.8 131.9 419.2 131.9 417.6 131.9 416.0 131.9 414.5 131.9 413.0 132.0 411.5 132.0 410.0 132.0 408.5 132.1 406.9 132.1 405.4 132.1 403.9 132.2 402.4 132.2 400.9 132.2 399.4 132.3 397.9 132.3 396.5 132.3 395.0 132.3 393.5 132.4 392.1 132.4 390.6 132.4 389.1 132.5 387.6 132.5 386.1 132.5 384.6 132.5 383.1 132.6 381.5 132.6 380.0 132.6 378.5 132.6 377.0 132.7 375.5 132.7 373.9 132.7 372.3 132.7 370.7 132.7 369.1 132.8 367.5 132.8 365.9 132.8 364.2 132.8 362.6 132.8 361.0 132.8 359.4 132.9 357.8 132.9 356.3 132.9 354.7 132.9 353.2 132.9 351.8 132.9 350.3 133.0 348.9 133.0 347.6 133.0 346.3 133.0 345.0 133.0 343.0 133.0 340.9 133.1 338.7 133.1 336.6 133.1 334.6 133.1 332.8 133.1 331.3 133.2 330.1 133.2 329.3 133.2 329.0 133.2 329.3 133.3 330.1 133.3 331.3 133.3 332.9 133.3 334.7 133.4 336.7 133.4 338.8 133.4 341.0 133.5 343.1 133.5 345.0 133.5 346.3 133.5 347.6 133.6 349.1 133.6 350.5 133.6 352.0 133.6 353.5 133.7 355.0 133.7 356.6 133.7 358.2 133.7 359.8 133.8 361.4 133.8 363.0 133.8 364.6 133.8 366.2 133.9 367.7 133.9 369.2 133.9 370.7 133.9 372.2 134.0 373.6 134.0 375.0 134.0 376.7 134.1 378.3 134.1 380.0 134.2 381.5 134.2 383.1 134.3 384.7 134.3 386.2 134.3 387.7 134.4 389.2 134.4 390.7 134.5 392.1 134.5 393.6 134.6 395.0 134.7 396.6 134.7 398.0 134.8 399.5 134.9 400.9 135.0 402.2 135.0 403.7 135.1 405.1 135.2 406.6 135.2 408.3 135.3 410.0 135.3 411.2 135.4 412.5 135.4 413.8 135.4 415.2 135.4 416.6 135.5 418.1 135.5 419.6 135.5 421.1 135.5 422.6 135.5 424.2 135.6 425.8 135.6 427.4 135.6 429.0 135.6 430.6 135.6 432.2 135.6 433.9 135.7 435.5 135.7 437.1 135.7 438.7 135.7 440.3 135.7 441.9 135.8 443.5 135.8 445.0 135.8 446.5 135.9 448.0 135.9 449.5 135.9 451.1 136.0 452.6 136.0 454.1 136.1 455.6 136.1 457.1 136.1 458.6 136.2 460.1 136.2 461.6 136.3 463.1 136.3 464.6 136.4 466.1 136.4 467.7 136.5 469.2 136.5 470.7 136.6 472.2 136.6 473.8 136.7 475.3 136.7 476.9 136.8 478.4 136.8 480.0 136.8 481.5 136.9 483.0 136.9 484.6 137.0 486.2 137.0 487.8 137.1 489.4 137.1 491.0 137.2 492.7 137.2 494.3 137.3 496.0 137.3 497.6 137.4 499.3 137.4 500.9 137.5 502.6 137.5 504.2 137.6 505.8 137.6 507.3 137.7 508.9 137.7 510.4 137.8 511.9 137.8 513.4 137.9 514.8 137.9 516.2 138.0 517.5 138.0 518.8 138.1 520.0 138.2 522.1 138.3 524.3 138.4 526.5 138.5 528.7 138.6 530.7 138.7 532.5 138.9 534.1 139.0 535.3 139.1 536.1 139.2 536.8 139.3 536.1 139.4 535.3 139.5 534.1 139.7 532.5 139.8 530.7 139.9 528.7 140.0 526.5 140.1 524.3 140.2 522.1 140.3 520.0 140.4 518.8 140.4 517.5 140.5 516.2 140.5 514.8 140.6 513.4 140.6 511.9 140.7 510.4 140.7 508.9 140.8 507.3 140.8 505.8 140.9 504.2 140.9 502.6 141.0 500.9 141.0 499.3 141.1 497.6 141.1 496.0 141.1 494.3 141.2 492.7 141.2 491.0 141.3 489.4 141.3 487.8 141.4 486.2 141.4 484.6 141.5 483.0 141.5 481.5 141.6 480.0 141.7 478.4 141.7 476.9 141.8 475.3 141.8 473.8 141.9 472.2 142.0 470.7 142.0 469.2 142.1 467.7 142.2 466.1 142.2 464.6 142.3 463.1 142.4 461.6 142.5 460.1 142.5 458.6 142.6 457.1 142.7 455.6 142.7 454.1 142.8 452.6 142.9 451.1 142.9 449.5 143.0 448.0 143.0 446.5 143.1 445.0 143.2 443.5 143.2 441.9 143.3 440.4 143.3 438.8 143.4 437.3 143.4 435.7 143.5 434.2 143.5 432.6 143.6 431.0 143.6 429.5 143.7 427.9 143.7 426.4 143.8 424.8 143.8 423.3 143.9 421.7 143.9 420.2 144.0 418.7 144.0 417.2 144.1 415.7 144.1 414.3 144.2 412.8 144.2 411.4 144.3 410.0 144.4 408.3 144.5 406.7 144.5 405.0 144.6 403.4 144.7 401.8 144.8 400.2 144.9 398.6 145.0 397.1 145.0 395.5 145.1 394.0 145.2 392.5 145.3 391.0 145.4 389.5 145.5 388.0 145.5 386.5 145.6 385.0 145.7 383.4 145.7 381.8 145.8 380.2 145.9 378.6 145.9 377.0 146.0 375.5 146.0 373.9 146.1 372.4 146.1 370.9 146.2 369.4 146.3 367.9 146.3 366.4 146.4 365.0 146.5 363.4 146.6 361.8 146.6 360.2 146.7 358.6 146.8 357.1 146.9 355.6 147.0 354.1 147.1 352.7 147.2 351.3 147.3 350.0 147.5 347.8 147.7 345.5 147.9 343.4 148.1 341.9 148.4 341.3 148.8 342.0 149.3 343.7 149.8 345.9 150.2 348.0 150.5 349.7 150.7 351.8 150.8 354.0 151.0 355.9 151.3 357.3 151.6 357.9 152.4 356.6 153.2 355.3 153.6 356.2 153.9 357.8 154.2 360.0 154.4 362.3 154.7 364.4 154.9 366.0 155.1 366.6 155.2 366.3 155.3 366.2 155.4 365.8 155.4 365.1 155.5 364.4 155.6 363.4 155.7 362.4 155.7 361.2 155.8 359.9 155.8 358.5 155.9 357.0 155.9 355.3 156.0 353.6 156.0 351.9 156.0 350.0 156.1 348.1 156.1 346.2 156.1 344.2 156.2 342.2 156.2 340.2 156.2 338.1 156.3 336.1 156.3 334.0 156.3 332.0 156.4 330.0 156.4 328.0 156.4 326.1 156.5 324.2 156.5 322.3 156.6 320.6 156.6 318.9 156.7 317.3 156.7 315.8 156.8 314.2 156.8 312.6 156.9 310.9 156.9 309.3 157.0 307.6 157.0 305.9 157.1 304.3 157.1 302.6 157.2 300.9 157.2 299.3 157.3 297.6 157.4 296.0 157.4 294.3 157.5 292.7 157.5 291.1 157.6 289.6 157.6 288.1 157.7 286.6 157.8 285.1 157.8 283.7 157.9 282.3 157.9 280.9 158.0 279.6 158.1 278.4 158.2 277.2 158.2 276.1 158.3 275.0 158.5 272.8 158.6 270.6 158.8 268.5 159.0 266.6 159.2 265.1 159.3 264.1 159.5 263.8 159.6 263.9 159.7 264.4 159.7 265.1 159.8 266.1 159.9 267.4 160.0 268.9 160.0 270.5 160.1 272.2 160.1 274.1 160.2 276.1 160.2 278.1 160.3 280.2 160.4 282.2 160.4 284.2 160.5 286.2 160.5 288.0 160.6 289.8 160.7 291.2 160.7 292.7 160.8 294.1 160.8 295.6 160.9 297.2 160.9 298.7 161.0 300.3 161.0 301.9 161.1 303.5 161.1 305.1 161.2 306.7 161.2 308.3 161.3 309.9 161.3 311.5 161.4 313.2 161.4 314.8 161.5 316.4 161.5 318.0 161.6 319.6 161.6 321.1 161.7 322.7 161.7 324.2 161.8 325.8 161.8 327.2 161.9 328.7 162.0 330.4 162.0 332.0 162.1 333.7 162.2 335.4 162.2 337.1 162.3 338.8 162.4 340.5 162.4 342.2 162.5 343.8 162.6 345.4 162.6 347.0 162.7 348.6 162.8 350.1 162.8 351.6 162.9 353.0 163.0 354.3 163.1 355.6 163.1 356.8 163.2 358.0 163.3 360.1 163.5 362.2 163.6 364.2 163.7 365.9 163.9 367.0 164.0 367.8 164.0 367.3 164.1 367.0 164.1 366.6 164.2 366.0 164.2 365.2 164.3 364.3 164.3 363.3 164.3 362.2 164.4 360.9 164.4 359.5 164.5 358.0 164.5 356.4 164.5 354.8 164.6 353.0 164.6 351.2 164.6 349.4 164.7 347.5 164.7 345.5 164.7 343.5 164.7 341.5 164.8 339.5 164.8 337.5 164.8 335.4 164.9 333.4 164.9 331.4 164.9 329.5 165.0 327.5 165.0 325.7 165.0 323.8 165.1 322.1 165.1 320.4 165.1 318.8 165.2 317.2 165.2 315.8 165.2 314.1 165.3 312.4 165.3 310.7 165.4 309.1 165.4 307.4 165.5 305.7 165.5 304.1 165.6 302.5 165.6 300.8 165.7 299.2 165.7 297.6 165.8 296.1 165.8 294.5 165.8 293.0 165.9 291.4 165.9 289.9 166.0 288.4 166.0 287.0 166.1 285.5 166.1 284.1 166.2 282.7 166.2 281.3 166.3 280.0 166.4 278.3 166.4 276.5 166.5 274.9 166.6 273.2 166.7 271.6 166.8 270.0 166.8 268.5 166.9 267.0 167.0 265.5 167.1 264.1 167.1 262.7 167.2 261.3 167.3 260.0 167.4 258.3 167.5 256.8 167.6 255.4 167.7 253.9 167.8 252.5 167.9 251.0 168.0 249.4 168.1 248.0 168.2 246.4 168.4 244.9 168.5 243.2 168.7 241.6 168.8 239.9 169.0 238.2 169.2 236.6 169.4 235.0 169.6 233.4 169.8 232.0 170.1 230.3 170.4 228.6 170.8 227.1 171.1 225.5 171.5 224.0 171.9 222.4 172.3 220.8 172.7 219.3 173.0 217.8 173.4 216.2 173.8 214.6 174.2 213.0 174.7 211.5 175.1 209.9 175.5 208.5 176.0 207.1 176.6 205.5 177.2 204.0 177.8 202.2 178.4 201.0 179.1 199.9 179.8 198.3 180.7 196.5 181.6 194.9 182.6 194.5 183.8 192.2 185.0 191.7 186.5 190.5 188.0 188.8 189.4 188.4 190.8 188.3 192.6 188.1 194.2 189.5 195.8 191.9 197.2 192.5 198.6 194.6 199.9 195.2 200.8 195.1 201.7 193.7 202.5 192.1 203.5 190.7 204.8 189.4 206.1 187.7 207.7 187.6 209.4 187.0 211.3 187.3 213.2 186.6 215.0 186.2 216.6 186.7 218.0 187.4 219.8 187.1 221.1 187.5 222.7 186.8 224.4 187.2 226.1 187.6 228.0 188.1 229.8 187.8 231.6 189.2 233.2 188.4 234.7 187.9 236.3 188.1 237.8 188.2 239.2 188.0 240.6 188.0 242.1 186.5 243.6 187.4 245.2 186.8 246.8 185.7 248.5 185.4 250.2 184.4 252.0 183.6 253.4 182.9 254.7 183.9 256.1 183.3 257.6 182.1 259.0 181.9 260.5 181.2 262.1 181.1 263.7 179.7 265.3 180.3 266.9 179.1 268.3 179.5 269.8 179.3 271.4 179.5 272.9 179.0 274.5 178.2 276.2 179.1 277.8 178.3 279.4 178.5 281.1 178.8 282.8 179.0 284.4 177.6 286.1 178.0 287.7 177.7 289.3 178.4 290.9 177.6 292.6 178.2 294.2 177.8 295.9 177.0 297.6 177.3 299.2 176.9 300.9 175.9 302.5 175.9 304.2 175.5 305.8 176.5 307.3 175.8 308.8 175.6 310.2 176.3 311.6 176.9 313.2 176.0 314.6 177.4 316.0 177.4 317.3 178.9 318.6 179.6 319.9 180.4 321.2 180.8 322.6 180.6 324.0 182.1 325.6 181.3 327.1 182.1 328.7 182.7 330.3 181.6 331.9 181.8 333.6 182.0 335.3 181.9 337.1 181.3 338.9 181.5 340.3 182.2 341.8 182.0 343.3 181.3 344.9 182.1 346.6 182.4 348.2 182.1 349.9 182.6 351.6 181.8 353.3 181.9 354.9 182.8 356.6 182.0 358.1 181.9 359.6 182.1 361.1 183.3 362.4 183.3 363.7 182.4 365.7 183.4 367.7 182.7 369.6 183.4 371.3 182.7 372.7 183.8 373.7 184.5 374.5 185.3 375.0 186.2 375.2 185.3 375.2 183.8 375.2 181.7 375.2 179.6 375.5 177.8 376.1 176.8 377.2 176.8 378.5 176.9 380.1 176.7 381.8 178.0 383.6 178.4 385.0 177.9 386.5 178.5 388.2 178.2 389.9 178.5 391.7 178.3 393.4 178.6 395.2 178.4 396.9 179.4 398.5 179.1 400.0 179.3 401.8 179.4 403.4 179.6 405.0 179.5 406.6 180.4 408.2 180.3 409.9 180.1 411.3 180.1 412.8 179.1 414.4 179.4 416.0 179.0 417.6 177.7 419.2 176.8 420.7 177.4 422.2 176.5 423.6 175.8 424.8 175.5 426.6 176.9 428.2 177.7 429.7 179.9 431.0 179.9 431.9 178.5 432.6 177.2 433.3 175.0 434.7 173.7 435.5 173.8 436.5 173.9 437.6 172.9 438.8 173.5 440.2 172.2 441.6 171.8 443.1 172.8 444.7 172.0 446.4 171.8 448.1 171.9 449.8 172.2 451.6 171.6 453.4 171.4 455.2 172.2 457.0 172.3 458.8 172.2 460.5 171.6 462.2 172.7 463.9 172.1 465.5 172.2 467.0 172.8 468.6 171.7 470.1 172.2 471.6 172.2 473.1 172.6 474.6 172.0 476.1 172.1 477.6 172.2 479.1 172.8 480.5 172.6 482.0 173.6 483.5 173.7 485.0 173.6 486.5 173.2 488.0 174.0 489.5 173.8 491.1 174.2 492.7 174.6 494.3 173.5 495.7 174.6 497.2 175.0 498.7 174.4 500.3 174.5 501.8 174.2 503.4 175.6 505.0 174.8 506.6 174.7 508.2 175.0 509.8 175.9 511.4 176.3 513.0 176.8 514.6 176.7 516.2 176.0 517.8 177.4 519.4 177.5 521.0 177.6 522.6 177.9 524.1 177.9 525.7 177.8 527.2 178.1 528.6 177.0 530.1 178.6 531.5 177.2 533.2 177.8 534.9 178.0 536.6 177.9 538.2 177.6 539.9 177.8 541.5 177.4 543.1 177.8 544.7 176.8 546.2 177.2 547.8 177.5 549.3 177.1 550.7 176.4 552.2 177.0 553.6 177.7 555.0 177.1 556.3 177.4 558.0 177.0 559.7 178.0 561.3 177.4 562.9 178.0 564.4 177.9 565.9 178.4 567.3 178.0 568.7 179.1 570.0 179.5 571.8 180.0 573.4 180.7 574.9 180.6 576.3 181.4 577.7 183.3 578.8 184.2 579.9 185.0 580.9 186.2 581.8 187.0 582.6 188.9 583.4 190.0 584.1 191.7 584.6 193.1 585.1 194.6 585.5 196.2 585.9 198.0 586.3 199.9 586.5 201.1 586.7 202.3 586.9 203.6 587.0 204.9 587.2 206.3 587.3 207.7 587.4 209.2 587.6 210.8 587.7 212.3 587.8 214.0 587.9 215.6 588.0 217.3 588.0 219.0 588.1 220.8 588.2 222.5 588.3 224.3 588.4 226.1 588.5 228.0 588.6 229.8 588.7 231.1 588.7 232.3 588.8 233.6 588.9 235.0 588.9 236.3 589.0 237.7 589.0 239.1 589.1 240.5 589.1 241.9 589.2 243.4 589.2 244.8 589.3 246.3 589.3 247.8 589.4 249.3 589.4 250.8 589.5 252.4 589.5 253.9 589.6 255.5 589.6 257.0 589.6 258.6 589.7 260.2 589.7 261.8 589.8 263.3 589.8 264.9 589.8 266.5 589.9 268.1 589.9 269.7 590.0 271.3 590.0 272.9 590.1 274.5 590.1 276.1 590.1 277.6 590.2 279.2 590.2 280.8 590.3 282.3 590.3 283.9 590.4 285.4 590.4 287.0 590.5 288.5 590.5 290.0 590.5 291.5 590.6 293.0 590.6 294.6 590.7 296.1 590.7 297.7 590.8 299.2 590.8 300.8 590.9 302.4 590.9 304.0 591.0 305.5 591.0 307.1 591.1 308.7 591.1 310.3 591.2 311.9 591.2 313.5 591.3 315.1 591.3 316.7 591.4 318.3 591.4 319.8 591.5 321.4 591.5 323.0 591.6 324.5 591.6 326.1 591.7 327.6 591.7 329.2 591.8 330.7 591.8 332.2 591.9 333.7 591.9 335.1 592.0 336.6 592.0 338.0 592.1 339.4 592.1 340.8 592.2 342.2 592.2 343.6 592.3 344.9 592.3 346.2 592.4 347.5 592.4 348.8 592.5 350.0 592.6 351.8 592.7 353.7 592.7 355.5 592.8 357.2 592.9 359.0 593.0 360.7 593.1 362.4 593.1 364.1 593.2 365.7 593.3 367.3 593.4 368.8 593.5 370.3 593.5 371.7 593.6 373.1 593.7 374.4 593.8 375.7 593.9 376.9 594.0 378.0 594.2 380.2 594.4 382.5 594.6 384.4 594.8 385.8 595.0 386.3 595.2 385.8 595.4 384.4 595.6 382.5 595.8 380.2 596.0 378.0 596.1 376.9 596.2 375.7 596.3 374.4 596.4 373.1 596.5 371.7 596.5 370.3 596.6 368.8 596.7 367.3 596.8 365.7 596.9 364.1 596.9 362.4 597.0 360.7 597.1 359.0 597.2 357.2 597.3 355.5 597.3 353.7 597.4 351.8 597.5 350.0 597.6 348.8 597.6 347.5 597.7 346.2 597.7 344.9 597.8 343.6 597.8 342.2 597.9 340.8 597.9 339.4 598.0 338.0 598.0 336.6 598.1 335.1 598.1 333.7 598.2 332.2 598.2 330.7 598.3 329.2 598.3 327.6 598.4 326.1 598.4 324.5 598.5 323.0 598.5 321.4 598.6 319.8 598.6 318.3 598.7 316.7 598.7 315.1 598.8 313.5 598.8 311.9 598.9 310.3 598.9 308.7 598.9 307.1 599.0 305.5 599.0 304.0 599.1 302.4 599.1 300.8 599.2 299.2 599.2 297.7 599.3 296.1 599.3 294.6 599.4 293.0 599.4 291.5 599.5 290.0 599.6 288.5 599.6 286.9 599.6 285.4 599.7 283.8 599.7 282.1 599.8 280.5 599.8 278.9 599.9 277.2 599.9 275.5 599.9 273.8 600.0 272.1 600.0 270.4 600.1 268.7 600.1 267.0 600.1 265.3 600.2 263.6 600.2 261.9 600.3 260.2 600.3 258.5 600.3 256.8 600.4 255.2 600.4 253.6 600.5 251.9 600.5 250.3 600.6 248.8 600.6 247.2 600.7 245.7 600.7 244.3 600.8 242.8 600.8 241.4 600.9 240.0 601.0 238.7 601.0 237.4 601.1 236.2 601.2 235.0 601.3 233.8 601.3 232.7 601.4 231.7 601.5 230.7 601.6 229.8 601.8 227.7 602.0 225.9 602.2 224.2 602.4 222.7 602.7 221.4 603.0 220.2 603.5 219.1 604.8 216.7 606.4 216.5 607.7 216.2 609.1 218.4 610.3 219.7 611.2 220.2 611.9 221.5 612.5 223.2 613.1 224.8 613.7 226.2 614.1 227.7 614.5 229.8 614.6 230.5 614.7 231.2 614.8 232.0 614.8 232.9 614.9 233.8 615.0 234.8 615.0 235.9 615.1 237.0 615.2 238.2 615.2 239.4 615.3 240.7 615.3 242.0 615.3 243.4 615.4 244.8 615.4 246.2 615.5 247.7 615.5 249.2 615.5 250.8 615.5 252.4 615.6 254.0 615.6 255.7 615.6 257.3 615.6 259.0 615.6 260.8 615.7 262.5 615.7 264.3 615.7 266.0 615.7 267.8 615.7 269.6 615.7 271.5 615.7 273.3 615.7 275.1 615.8 276.9 615.8 278.8 615.8 280.6 615.8 282.4 615.8 284.2 615.8 286.0 615.8 287.8 615.9 289.6 615.9 291.4 615.9 293.2 615.9 294.9 615.9 296.6 616.0 298.3 616.0 300.0 616.0 301.4 616.0 302.8 616.1 304.2 616.1 305.6 616.1 307.0 616.1 308.4 616.2 309.9 616.2 311.3 616.2 312.7 616.2 314.2 616.3 315.6 616.3 317.1 616.3 318.6 616.3 320.1 616.4 321.5 616.4 323.0 616.4 324.5 616.4 326.0 616.5 327.5 616.5 329.0 616.5 330.5 616.5 332.0 616.5 333.5 616.6 335.1 616.6 336.6 616.6 338.1 616.6 339.6 616.7 341.2 616.7 342.7 616.7 344.3 616.7 345.8 616.7 347.3 616.8 348.9 616.8 350.4 616.8 352.0 616.8 353.6 616.9 355.1 616.9 356.7 616.9 358.2 616.9 359.8 616.9 361.3 617.0 362.9 617.0 364.5 617.0 366.0 617.0 367.6 617.1 369.1 617.1 370.7 617.1 372.2 617.1 373.8 617.1 375.4 617.2 376.9 617.2 378.5 617.2 380.0 617.2 381.6 617.3 383.1 617.3 384.7 617.3 386.2 617.3 387.8 617.3 389.3 617.4 390.8 617.4 392.4 617.4 393.9 617.4 395.4 617.5 397.0 617.5 398.5 617.5 400.0 617.5 401.5 617.5 403.1 617.6 404.6 617.6 406.2 617.6 407.8 617.6 409.3 617.7 411.0 617.7 412.6 617.7 414.2 617.7 415.8 617.8 417.5 617.8 419.1 617.8 420.8 617.8 422.4 617.8 424.1 617.9 425.8 617.9 427.4 617.9 429.1 617.9 430.8 618.0 432.5 618.0 434.2 618.0 435.9 618.0 437.6 618.0 439.2 618.1 440.9 618.1 442.6 618.1 444.3 618.1 446.0 618.2 447.6 618.2 449.3 618.2 451.0 618.2 452.6 618.3 454.3 618.3 455.9 618.3 457.6 618.3 459.2 618.3 460.8 618.4 462.4 618.4 464.0 618.4 465.6 618.4 467.1 618.5 468.7 618.5 470.2 618.5 471.7 618.5 473.2 618.6 474.7 618.6 476.2 618.6 477.7 618.6 479.1 618.6 480.5 618.7 481.9 618.7 483.3 618.7 484.7 618.7 486.0 618.8 487.3 618.8 488.6 618.8 489.8 618.8 491.1 618.8 492.3 618.9 493.5 618.9 494.6 618.9 495.8 618.9 496.9 619.0 497.9 619.0 499.0 619.0 500.0 619.0 502.0 619.1 504.1 619.1 506.2 619.2 508.3 619.2 510.3 619.3 512.3 619.3 514.2 619.4 516.0 619.4 517.7 619.4 519.2 619.5 520.6 619.5 521.8 619.6 522.7 619.6 523.4 619.7 523.8 619.7 523.9 619.7 523.8 619.8 523.4 619.8 522.6 619.9 521.6 619.9 520.4 620.0 519.0 620.0 517.4 620.1 515.7 620.1 513.8 620.1 511.9 620.2 509.9 620.2 507.9 620.3 505.9 620.3 503.8 620.4 501.9 620.4 500.0 620.4 498.8 620.4 497.6 620.5 496.4 620.5 495.1 620.5 493.9 620.5 492.5 620.6 491.2 620.6 489.9 620.6 488.5 620.6 487.1 620.6 485.7 620.7 484.3 620.7 482.8 620.7 481.3 620.7 479.9 620.8 478.4 620.8 476.8 620.8 475.3 620.8 473.8 620.8 472.2 620.8 470.7 620.9 469.1 620.9 467.5 620.9 465.9 620.9 464.3 620.9 462.7 621.0 461.1 621.0 459.5 621.0 457.9 621.0 456.2 621.0 454.6 621.1 453.0 621.1 451.4 621.1 449.7 621.1 448.1 621.1 446.5 621.1 444.8 621.2 443.2 621.2 441.6 621.2 440.0 621.2 438.6 621.2 437.2 621.2 435.7 621.3 434.3 621.3 432.8 621.3 431.4 621.3 429.9 621.3 428.4 621.3 426.9 621.4 425.4 621.4 423.9 621.4 422.4 621.4 420.8 621.4 419.3 621.4 417.8 621.5 416.2 621.5 414.7 621.5 413.1 621.5 411.6 621.5 410.0 621.5 408.4 621.5 406.9 621.6 405.3 621.6 403.7 621.6 402.1 621.6 400.6 621.6 399.0 621.6 397.4 621.7 395.9 621.7 394.3 621.7 392.7 621.7 391.2 621.7 389.6 621.7 388.1 621.7 386.5 621.8 385.0 621.8 383.4 621.8 381.9 621.8 380.4 621.8 378.8 621.8 377.3 621.8 375.8 621.9 374.3 621.9 372.8 621.9 371.4 621.9 369.9 621.9 368.5 621.9 367.0 621.9 365.6 622.0 364.2 622.0 362.8 622.0 361.4 622.0 360.0 622.0 358.3 622.0 356.6 622.0 354.9 622.1 353.2 622.1 351.4 622.1 349.6 622.1 347.9 622.1 346.1 622.1 344.3 622.1 342.5 622.1 340.7 622.1 339.0 622.2 337.2 622.2 335.5 622.2 333.7 622.2 332.0 622.2 330.3 622.2 328.6 622.2 326.9 622.2 325.3 622.2 323.7 622.3 322.1 622.3 320.6 622.3 319.1 622.3 317.6 622.3 316.2 622.3 314.8 622.4 313.5 622.4 312.2 622.4 311.0 622.4 309.9 622.5 308.8 622.5 307.7 622.5 306.7 622.6 305.8 622.6 305.0 622.7 302.5 622.9 300.2 623.1 298.6 623.2 298.0 623.3 298.9 623.5 300.9 623.6 303.0 623.7 304.8 623.8 307.1 623.9 309.2 624.0 310.9 624.1 311.0 624.2 311.1 624.3 310.0 624.4 308.3 624.5 306.3 624.6 304.1 624.7 302.0 624.8 300.0 624.9 298.6 624.9 297.1 625.0 295.6 625.1 294.1 625.2 292.5 625.2 290.9 625.3 289.4 625.4 287.8 625.5 286.2 625.5 284.6 625.6 283.0 625.7 281.5 625.7 280.0 625.8 278.6 625.9 277.1 625.9 275.6 626.0 274.1 626.1 272.6 626.1 271.1 626.2 269.6 626.3 268.1 626.4 266.5 626.5 265.0 626.6 263.4 626.7 261.8 626.8 260.2 627.0 258.6 627.1 256.9 627.2 255.2 627.4 253.6 627.5 251.9 627.7 250.3 627.8 248.7 628.0 247.2 628.2 245.7 628.4 244.2 628.6 242.5 628.8 240.7 629.0 239.0 629.2 237.3 629.5 235.6 629.8 234.1 630.1 232.7 630.6 231.5 631.1 231.0 632.4 230.1 633.8 229.3 635.1 227.6 635.8 226.2 636.4 224.1 636.9 221.9 637.3 220.2 637.8 220.2 638.4 220.3 639.0 222.1 639.5 224.0 639.9 225.7 640.3 227.8 640.6 229.8 641.0 231.4 641.4 231.9 641.7 231.8 642.0 230.6 642.3 229.0 642.6 227.2 642.9 225.1 643.2 223.1 643.6 221.3 644.1 219.9 644.8 218.1 645.5 216.5 646.3 214.4 647.2 213.9 648.1 212.6 649.4 213.8 650.9 214.4 652.2 215.5 653.0 216.9 653.8 218.6 654.5 220.6 655.1 222.2 655.7 223.1 656.3 223.6 656.8 223.3 657.1 222.2 657.4 220.5 657.7 218.5 658.1 216.4 658.5 214.5 659.0 213.1 659.9 211.0 660.9 209.5 661.9 208.6 663.0 207.3 664.3 209.1 665.7 210.1 667.1 211.4 668.4 210.2 669.7 208.8 671.1 207.9 672.4 207.0 673.8 205.5 675.3 203.6 676.6 203.7 678.5 203.9 680.1 204.6 680.5 205.4 680.8 206.5 681.1 207.6 681.3 208.9 681.5 210.3 681.6 211.9 681.7 213.5 681.7 215.2 681.8 217.0 681.8 218.9 681.8 220.7 681.8 222.6 681.9 224.4 681.9 226.2 682.0 227.9 682.1 229.3 682.2 230.8 682.2 232.3 682.3 233.9 682.4 235.5 682.4 237.1 682.5 238.8 682.6 240.5 682.6 242.1 682.7 243.8 682.7 245.5 682.8 247.2 682.8 248.8 682.9 250.5 682.9 252.1 683.0 253.7 683.0 255.2 683.1 256.7 683.1 258.1 683.2 259.5 683.2 260.8 683.3 262.0 683.4 264.1 683.5 266.4 683.6 268.6 683.7 270.7 683.8 272.5 683.9 274.0 684.0 275.0 684.1 275.1 684.2 274.9 684.3 273.9 684.4 272.4 684.5 270.5 684.6 268.4 684.7 266.2 684.8 264.0 684.9 262.0 685.0 260.6 685.1 259.2 685.2 257.8 685.3 256.2 685.3 254.7 685.4 253.1 685.5 251.5 685.6 249.9 685.7 248.3 685.9 246.7 686.0 245.1 686.1 243.5 686.3 241.9 686.4 240.3 686.6 238.8 686.8 237.2 687.0 235.6 687.2 233.9 687.4 232.2 687.6 230.5 687.8 228.9 688.0 227.2 688.3 225.6 688.5 224.0 688.8 222.5 689.1 221.0 689.4 219.6 689.7 218.3 690.1 217.1 690.7 215.4 691.2 213.7 691.8 211.9 692.5 210.7 693.3 209.3 694.2 208.6 695.8 208.6 697.6 209.3 699.4 209.3 700.9 210.8 701.6 211.3 702.2 213.1 702.6 215.1 703.0 217.2 703.3 219.2 703.6 220.9 703.9 222.2 704.2 222.6 704.7 221.8 705.2 220.0 705.7 217.7 706.4 215.7 707.1 214.1 707.9 212.6 708.7 210.7 709.7 209.2 710.7 208.0 711.8 206.9 713.4 207.8 715.2 207.5 717.0 208.6 718.5 209.3 720.0 210.9 721.3 211.7 722.1 210.4 722.9 209.0 724.0 207.4 725.7 206.9 727.7 208.1 729.4 209.0 730.3 209.7 731.1 210.7 731.7 211.8 732.3 213.3 732.9 215.1 733.4 217.1 733.6 218.1 733.8 219.2 734.0 220.3 734.1 221.6 734.3 222.9 734.4 224.3 734.5 225.7 734.6 227.2 734.7 228.7 734.7 230.3 734.8 232.0 734.8 233.6 734.9 235.3 734.9 237.0 734.9 238.7 735.0 240.5 735.0 242.2 735.0 244.0 735.0 245.7 735.0 247.4 735.0 249.1 735.1 250.8 735.1 252.4 735.1 254.0 735.2 255.6 735.2 257.1 735.2 258.6 735.3 260.0 735.4 261.8 735.5 263.7 735.5 265.7 735.6 267.8 735.7 269.9 735.8 272.0 735.9 274.1 735.9 276.1 736.0 278.1 736.1 280.0 736.2 281.8 736.3 283.4 736.3 284.8 736.4 286.0 736.5 287.0 736.6 287.8 736.6 288.2 736.7 289.1 736.8 288.2 736.8 287.8 736.9 287.0 737.0 286.0 737.0 284.8 737.1 283.3 737.2 281.7 737.2 279.9 737.3 278.1 737.3 276.1 737.4 274.0 737.5 271.9 737.5 269.8 737.6 267.7 737.6 265.7 737.7 263.7 737.7 261.8 737.8 260.0 737.8 258.5 737.9 257.0 737.9 255.4 737.9 253.7 737.9 252.0 737.9 250.2 737.9 248.4 737.9 246.6 737.9 244.7 737.8 242.9 737.8 241.0 737.8 239.2 737.8 237.3 737.8 235.6 737.8 233.8 737.9 232.1 737.9 230.4 737.9 228.9 738.0 227.4 738.1 226.0 738.2 224.6 738.3 223.4 738.4 222.3 738.5 221.3 738.7 220.5 738.9 219.8 739.8 218.1 740.8 216.8 741.0 217.0 741.2 217.7 741.3 218.3 741.5 219.1 741.6 220.1 741.7 221.2 741.8 222.5 741.9 223.9 742.0 225.4 742.0 227.1 742.1 228.8 742.1 230.7 742.2 232.6 742.2 234.5 742.2 236.5 742.2 238.5 742.2 240.5 742.3 242.4 742.3 244.4 742.3 246.4 742.3 248.2 742.4 250.1 742.4 251.8 742.4 253.5 742.5 255.0 742.6 256.6 742.6 258.2 742.7 259.8 742.7 261.4 742.8 263.1 742.8 264.7 742.9 266.4 742.9 268.0 743.0 269.7 743.0 271.3 743.1 273.0 743.1 274.6 743.2 276.2 743.2 277.7 743.3 279.3 743.3 280.8 743.4 282.3 743.4 283.7 743.5 285.1 743.5 286.4 743.6 287.7 743.6 288.9 743.7 290.0 743.8 292.2 743.9 294.4 744.0 296.6 744.1 298.5 744.2 300.1 744.3 301.1 744.4 301.4 744.5 301.3 744.6 300.6 744.6 299.5 744.7 298.2 744.8 296.6 744.9 294.8 744.9 292.8 745.0 290.8 745.1 288.8 745.1 286.9 745.2 285.0 745.2 283.7 745.3 282.4 745.3 281.1 745.4 279.7 745.4 278.3 745.4 276.9 745.4 275.4 745.5 273.9 745.5 272.4 745.5 270.9 745.6 269.3 745.6 267.8 745.6 266.2 745.6 264.6 745.7 263.0 745.7 261.3 745.7 259.7 745.8 258.1 745.8 256.5 745.9 254.8 745.9 253.2 745.9 251.6 746.0 250.0 746.0 248.5 746.1 246.9 746.1 245.3 746.1 243.6 746.1 241.8 746.1 240.1 746.1 238.3 746.1 236.4 746.1 234.6 746.1 232.7 746.1 230.9 746.1 229.0 746.1 227.2 746.1 225.3 746.2 223.6 746.2 221.8 746.2 220.1 746.3 218.5 746.4 216.9 746.5 215.3 746.6 213.9 746.7 212.5 746.8 211.3 747.0 210.1 747.2 209.1 747.4 208.1 747.6 207.3 747.9 206.7 749.3 204.5 750.9 204.1 752.0 204.6 753.2 206.7 754.3 208.8 755.3 209.1 755.9 209.0 756.4 207.1 756.9 205.1 757.4 203.3 758.2 202.0 759.6 201.6 761.2 202.0 762.6 203.4 763.4 204.6 764.0 206.1 764.5 207.7 764.9 209.6 765.1 210.8 765.3 212.3 765.5 214.0 765.7 215.9 765.8 218.0 766.0 220.1 766.1 222.2 766.2 224.3 766.3 226.2 766.4 228.1 766.5 229.7 766.6 231.1 766.7 232.1 766.9 232.8 767.0 232.8 767.1 232.8 767.2 232.1 767.2 231.0 767.3 229.6 767.3 227.9 767.3 226.1 767.4 224.0 767.4 221.9 767.5 219.8 767.6 217.7 767.7 215.6 768.0 213.8 768.2 212.1 768.6 210.7 769.0 209.3 770.1 208.0 771.5 206.0 772.9 205.6 774.3 205.4 775.8 205.0 777.4 206.1 778.7 206.2 779.7 207.9 780.4 209.1 781.1 210.5 781.7 212.5 781.9 213.5 782.2 214.6 782.4 215.8 782.5 217.1 782.7 218.5 782.8 220.0 782.9 221.5 783.0 223.1 783.1 224.8 783.1 226.4 783.2 228.2 783.3 229.9 783.3 231.6 783.4 233.4 783.4 235.1 783.5 236.8 783.6 238.5 783.6 240.2 783.7 241.8 783.8 243.3 783.8 244.8 783.9 246.4 784.0 248.0 784.0 249.6 784.1 251.2 784.2 252.8 784.2 254.5 784.3 256.1 784.3 257.8 784.4 259.4 784.4 261.0 784.5 262.6 784.5 264.2 784.6 265.7 784.6 267.2 784.7 268.7 784.8 270.1 784.8 271.4 784.9 272.7 784.9 273.9 785.0 275.0 785.1 277.0 785.3 279.1 785.4 281.1 785.5 282.9 785.7 284.4 785.8 285.3 785.9 285.6 786.0 285.5 786.0 285.1 786.1 284.3 786.1 283.3 786.1 282.0 786.2 280.6 786.2 279.0 786.2 277.2 786.3 275.4 786.3 273.4 786.3 271.5 786.4 269.4 786.4 267.4 786.4 265.4 786.4 263.5 786.5 261.7 786.5 260.0 786.5 258.5 786.6 257.0 786.6 255.5 786.6 253.9 786.6 252.2 786.6 250.6 786.6 248.9 786.6 247.2 786.6 245.5 786.6 243.8 786.7 242.1 786.7 240.4 786.7 238.7 786.7 237.1 786.7 235.4 786.8 233.8 786.8 232.3 786.8 230.8 786.9 229.3 787.0 227.9 787.0 226.6 787.1 225.4 787.2 224.2 787.4 222.0 787.6 219.7 787.8 217.6 788.0 215.6 788.3 214.0 788.6 213.0 789.0 212.4 790.0 213.2 791.0 215.6 791.2 216.2 791.4 217.1 791.6 218.2 791.7 219.4 791.9 220.8 792.0 222.2 792.1 223.8 792.1 225.4 792.2 227.1 792.3 228.8 792.3 230.6 792.3 232.4 792.4 234.2 792.4 236.1 792.5 237.9 792.5 239.7 792.5 241.4 792.6 243.1 792.6 244.7 792.7 246.3 792.8 247.7 792.9 249.5 793.0 251.3 793.1 253.1 793.2 254.9 793.4 256.8 793.5 258.6 793.6 260.3 793.7 262.0 793.8 263.6 794.0 265.2 794.1 266.6 794.2 267.9 794.4 269.0 794.5 270.0 795.0 272.4 795.4 273.3 795.6 272.9 795.8 271.5 796.0 269.4 796.1 267.2 796.3 265.0 796.4 263.7 796.5 262.2 796.5 260.7 796.5 259.1 796.6 257.5 796.6 255.8 796.7 254.1 796.8 252.5 796.9 250.8 797.0 249.2 797.2 247.7 797.4 246.1 797.6 244.5 797.9 242.9 798.1 241.2 798.4 239.6 798.8 238.1 799.1 236.6 799.6 235.3 800.1 233.8 800.7 232.6 801.9 231.8 803.3 230.3 804.9 229.9 806.6 228.1 807.8 228.6 809.2 227.9 810.6 227.4 812.1 227.4 813.6 226.0 815.2 226.3 816.7 226.6 818.3 225.2 819.9 225.2 821.5 225.8 823.1 225.0 824.8 225.7 826.4 224.6 828.1 224.8 829.8 225.6 831.4 225.2 833.0 226.1 834.8 226.2 836.9 226.5 839.1 226.1 841.2 227.2 843.1 227.2 844.6 228.1 845.6 228.2 846.0 228.2"/>
<path stroke="#56B4E9" d="M72.5 116.5L73.0 117.1 74.3 117.0 76.1 117.2 78.1 116.0 80.2 115.9 82.0 115.7 83.7 115.7 85.4 116.3 87.1 115.3 88.7 115.8 90.4 115.2 92.0 115.3 93.7 115.5 95.3 116.2 96.8 115.9 98.4 115.1 100.0 115.5 101.6 115.2 103.3 116.1 104.9 115.9 106.5 115.8 107.9 116.0 109.8 116.4 111.5 117.5 113.0 118.4 114.0 118.7 115.0 120.6 115.9 121.5 116.7 123.3 117.4 125.0 117.7 126.0 118.0 127.2 118.3 128.4 118.5 129.7 118.7 131.1 118.8 132.6 119.0 134.1 119.1 135.7 119.2 137.3 119.4 139.0 119.4 140.7 119.5 142.4 119.6 144.2 119.7 146.0 119.8 147.7 119.8 149.5 119.9 151.3 120.0 153.1 120.1 154.8 120.2 156.2 120.3 157.5 120.3 158.9 120.4 160.4 120.5 161.8 120.5 163.2 120.6 164.7 120.6 166.2 120.7 167.7 120.7 169.2 120.8 170.7 120.8 172.2 120.9 173.7 120.9 175.3 120.9 176.8 121.0 178.4 121.0 179.9 121.0 181.5 121.1 183.0 121.1 184.6 121.2 186.1 121.2 187.7 121.2 189.3 121.3 190.8 121.3 192.4 121.3 193.9 121.4 195.4 121.4 197.0 121.5 198.5 121.5 200.0 121.5 201.5 121.6 203.0 121.6 204.5 121.7 206.0 121.7 207.5 121.8 209.0 121.8 210.5 121.9 212.0 121.9 213.5 121.9 215.0 122.0 216.5 122.0 218.0 122.1 219.5 122.1 221.0 122.2 222.5 122.2 224.0 122.2 225.5 122.3 227.0 122.3 228.5 122.4 230.0 122.4 231.5 122.5 233.0 122.5 234.5 122.5 236.0 122.6 237.5 122.6 239.0 122.7 240.5 122.7 242.0 122.8 243.5 122.8 245.0 122.8 246.5 122.9 248.0 122.9 249.5 123.0 251.0 123.0 252.5 123.0 254.0 123.1 255.6 123.1 257.1 123.2 258.6 123.2 260.1 123.2 261.6 123.3 263.1 123.3 264.6 123.3 266.2 123.4 267.7 123.4 269.2 123.5 270.7 123.5 272.2 123.5 273.7 123.6 275.2 123.6 276.7 123.7 278.2 123.7 279.7 123.7 281.2 123.8 282.7 123.8 284.1 123.9 285.6 123.9 287.1 124.0 288.5 124.0 290.0 124.1 291.6 124.1 293.2 124.2 294.8 124.2 296.3 124.3 297.9 124.3 299.5 124.4 301.1 124.4 302.7 124.5 304.2 124.6 305.8 124.6 307.4 124.7 308.9 124.7 310.5 124.8 312.1 124.9 313.6 124.9 315.1 125.0 316.7 125.0 318.2 125.1 319.7 125.2 321.2 125.2 322.7 125.3 324.2 125.3 325.7 125.4 327.1 125.4 328.6 125.5 330.0 125.6 331.6 125.6 333.2 125.7 334.8 125.7 336.4 125.8 337.9 125.8 339.5 125.9 341.1 126.0 342.6 126.0 344.1 126.1 345.6 126.1 347.2 126.2 348.6 126.2 350.1 126.3 351.6 126.3 353.0 126.4 354.5 126.4 355.9 126.5 357.3 126.5 358.6 126.6 360.0 126.7 361.7 126.7 363.4 126.8 365.0 126.9 366.6 126.9 368.3 127.0 369.8 127.1 371.4 127.1 372.9 127.2 374.4 127.3 375.9 127.4 377.3 127.4 378.7 127.5 380.0 127.6 381.9 127.7 384.0 127.8 386.1 128.0 388.0 128.1 389.6 128.2 390.6 128.3 391.2 128.4 390.6 128.5 389.6 128.7 388.0 128.8 386.1 128.9 384.0 129.0 381.9 129.1 380.0 129.2 378.7 129.2 377.3 129.3 375.9 129.3 374.4 129.4 372.9 129.5 371.4 129.5 369.8 129.6 368.3 129.6 366.6 129.7 365.0 129.7 363.4 129.7 361.7 129.8 360.0 129.8 358.6 129.9 357.2 129.9 355.8 130.0 354.4 130.0 352.9 130.0 351.4 130.1 349.9 130.1 348.4 130.2 346.9 130.2 345.4 130.2 343.8 130.3 342.3 130.3 340.7 130.4 339.2 130.4 337.6 130.4 336.1 130.5 334.6 130.5 333.0 130.6 331.5 130.6 330.0 130.6 328.5 130.7 327.0 130.7 325.5 130.8 323.9 130.8 322.4 130.8 320.9 130.9 319.3 130.9 317.8 131.0 316.2 131.0 314.7 131.0 313.2 131.1 311.7 131.1 310.2 131.1 308.7 131.2 307.2 131.2 305.7 131.3 304.2 131.3 302.8 131.4 301.4 131.4 300.0 131.5 298.3 131.5 296.6 131.6 294.9 131.6 293.2 131.7 291.5 131.7 289.9 131.8 288.3 131.8 286.6 131.9 285.1 131.9 283.6 132.0 282.1 132.1 280.7 132.1 279.3 132.2 278.0 132.3 275.9 132.5 273.6 132.6 271.5 132.7 269.7 132.9 268.5 133.0 267.6 133.1 268.5 133.3 269.7 133.4 271.5 133.6 273.6 133.7 275.9 133.8 278.0 133.9 279.3 133.9 280.7 134.0 282.1 134.0 283.6 134.1 285.1 134.1 286.6 134.1 288.3 134.2 289.9 134.2 291.5 134.3 293.2 134.3 294.9 134.3 296.6 134.4 298.3 134.4 300.0 134.4 301.4 134.5 302.8 134.5 304.2 134.5 305.6 134.6 307.0 134.6 308.5 134.6 309.9 134.7 311.4 134.7 312.8 134.7 314.3 134.7 315.8 134.8 317.3 134.8 318.9 134.8 320.4 134.9 322.0 134.9 323.5 134.9 325.1 134.9 326.7 135.0 328.4 135.0 330.0 135.0 331.4 135.0 332.8 135.1 334.2 135.1 335.7 135.1 337.2 135.1 338.7 135.1 340.3 135.1 341.8 135.2 343.4 135.2 345.0 135.2 346.6 135.2 348.2 135.2 349.8 135.2 351.4 135.3 353.1 135.3 354.7 135.3 356.3 135.3 357.9 135.3 359.4 135.3 361.0 135.4 362.5 135.4 364.1 135.4 365.5 135.4 367.0 135.4 368.4 135.5 369.8 135.5 371.2 135.5 372.5 135.6 373.8 135.6 375.0 135.7 376.8 135.7 378.5 135.8 380.2 135.9 381.8 135.9 383.4 136.0 384.9 136.1 386.4 136.2 387.9 136.2 389.3 136.3 390.7 136.4 392.2 136.4 393.6 136.5 395.0 136.6 396.6 136.6 398.1 136.7 399.5 136.7 400.9 136.8 402.3 136.8 403.7 136.9 405.2 136.9 406.7 137.0 408.3 137.0 410.0 137.0 411.3 137.1 412.6 137.1 414.1 137.1 415.6 137.1 417.1 137.2 418.7 137.2 420.3 137.2 421.9 137.2 423.6 137.2 425.2 137.3 426.8 137.3 428.5 137.3 430.1 137.4 431.7 137.4 433.2 137.4 434.7 137.5 436.1 137.5 437.5 137.5 438.8 137.6 440.0 137.7 441.8 137.8 443.5 137.9 445.2 138.0 446.7 138.1 448.2 138.2 449.6 138.4 450.8 138.5 452.0 138.8 454.6 139.2 456.4 139.6 454.6 139.9 452.0 140.0 450.8 140.2 449.6 140.3 448.2 140.4 446.7 140.5 445.2 140.6 443.5 140.7 441.8 140.8 440.0 140.9 438.8 140.9 437.5 140.9 436.2 141.0 434.8 141.0 433.3 141.0 431.8 141.1 430.3 141.1 428.7 141.1 427.1 141.1 425.5 141.1 423.8 141.2 422.2 141.2 420.6 141.2 419.0 141.2 417.4 141.3 415.8 141.3 414.3 141.3 412.8 141.4 411.4 141.4 410.0 141.5 408.3 141.5 406.7 141.6 405.0 141.6 403.5 141.7 401.9 141.8 400.3 141.9 398.8 141.9 397.3 142.0 395.8 142.1 394.3 142.1 392.9 142.2 391.4 142.3 390.0 142.4 388.4 142.5 387.0 142.6 385.5 142.7 384.1 142.8 382.8 142.8 381.3 142.9 379.9 143.0 378.4 143.1 376.7 143.2 375.0 143.3 373.8 143.3 372.5 143.4 371.1 143.4 369.8 143.5 368.3 143.5 366.9 143.6 365.4 143.6 363.8 143.7 362.3 143.7 360.7 143.8 359.1 143.8 357.5 143.8 355.9 143.9 354.3 143.9 352.6 144.0 351.0 144.0 349.4 144.1 347.8 144.1 346.2 144.2 344.6 144.2 343.0 144.3 341.5 144.3 340.0 144.3 338.4 144.4 336.9 144.4 335.3 144.5 333.8 144.5 332.2 144.6 330.6 144.6 329.1 144.7 327.5 144.7 326.0 144.8 324.4 144.8 322.9 144.9 321.3 144.9 319.8 145.0 318.3 145.0 316.8 145.1 315.3 145.1 313.8 145.1 312.3 145.2 310.9 145.2 309.4 145.3 308.0 145.4 306.4 145.4 304.7 145.5 303.1 145.5 301.4 145.6 299.8 145.6 298.2 145.7 296.6 145.7 295.0 145.8 293.4 145.8 291.9 145.9 290.4 146.0 288.9 146.0 287.5 146.1 286.1 146.2 284.8 146.3 283.5 146.5 281.4 146.6 279.2 146.8 277.1 147.0 275.1 147.2 273.5 147.5 272.4 147.7 272.4 148.2 273.1 148.8 275.5 149.0 276.6 149.1 278.1 149.2 279.8 149.4 281.8 149.5 283.9 149.6 286.0 149.7 288.1 149.8 290.1 149.9 291.9 150.1 293.5 150.3 294.8 150.5 295.4 150.8 296.4 151.4 295.8 152.0 294.9 153.0 292.9 154.0 291.9 154.3 292.6 154.6 294.1 154.7 296.1 154.9 298.3 155.0 300.6 155.1 302.6 155.2 304.0 155.3 303.9 155.4 304.2 155.6 303.4 155.7 302.1 155.8 300.4 155.9 298.5 156.0 296.4 156.1 294.2 156.2 292.0 156.2 291.0 156.3 290.0 156.3 288.9 156.4 287.8 156.4 286.6 156.5 285.3 156.5 284.0 156.6 282.7 156.6 281.3 156.6 279.8 156.7 278.3 156.7 276.8 156.8 275.2 156.8 273.6 156.9 272.0 156.9 270.3 157.0 268.7 157.0 267.0 157.0 265.2 157.1 263.5 157.1 261.8 157.2 260.0 157.2 258.3 157.3 256.5 157.3 254.7 157.3 253.0 157.4 251.2 157.4 249.5 157.5 247.7 157.5 246.0 157.5 244.3 157.6 242.6 157.6 241.0 157.7 239.3 157.7 237.7 157.8 236.1 157.8 234.6 157.8 233.1 157.9 231.6 157.9 230.2 158.0 228.8 158.0 227.5 158.1 226.2 158.1 225.0 158.2 223.1 158.2 221.1 158.3 219.0 158.4 216.9 158.4 214.9 158.5 212.8 158.6 210.7 158.6 208.8 158.7 206.9 158.8 205.1 158.8 203.4 158.9 201.9 159.0 200.6 159.0 199.4 159.1 198.5 159.2 197.8 159.2 197.3 159.3 196.8 159.4 197.4 159.5 198.2 159.6 199.3 159.7 200.7 159.8 202.4 159.9 204.4 160.0 206.4 160.1 208.6 160.2 210.8 160.3 212.9 160.4 215.0 160.5 216.2 160.5 217.4 160.6 218.7 160.6 220.0 160.6 221.4 160.7 222.8 160.7 224.3 160.8 225.7 160.8 227.2 160.9 228.8 160.9 230.3 161.0 231.9 161.0 233.5 161.0 235.1 161.1 236.7 161.1 238.3 161.2 239.9 161.2 241.6 161.2 243.2 161.3 244.8 161.3 246.4 161.4 248.0 161.4 249.6 161.4 251.2 161.5 252.7 161.5 254.2 161.6 255.7 161.6 257.2 161.7 258.6 161.7 260.0 161.8 261.7 161.8 263.3 161.9 264.9 161.9 266.6 162.0 268.2 162.0 269.8 162.0 271.4 162.1 273.0 162.1 274.6 162.2 276.2 162.2 277.7 162.3 279.3 162.3 280.8 162.4 282.3 162.5 283.7 162.5 285.2 162.6 286.6 162.6 288.0 162.7 289.4 162.7 290.7 162.8 292.0 162.9 293.9 163.0 295.9 163.1 297.9 163.2 300.0 163.3 302.0 163.4 303.9 163.5 305.5 163.6 307.0 163.7 308.1 163.8 308.8 163.9 309.5 164.0 308.7 164.1 307.9 164.2 306.7 164.3 305.1 164.4 303.3 164.5 301.3 164.6 299.2 164.7 297.1 164.8 295.0 164.8 293.9 164.9 292.7 164.9 291.5 165.0 290.3 165.0 288.9 165.1 287.6 165.1 286.2 165.2 284.8 165.2 283.3 165.2 281.8 165.3 280.3 165.3 278.7 165.4 277.1 165.4 275.5 165.4 273.9 165.5 272.3 165.5 270.7 165.5 269.0 165.6 267.4 165.6 265.8 165.7 264.1 165.7 262.5 165.7 260.9 165.8 259.2 165.8 257.6 165.8 256.1 165.9 254.5 165.9 253.0 166.0 251.5 166.0 250.0 166.0 248.4 166.1 246.8 166.1 245.2 166.2 243.6 166.2 242.0 166.3 240.4 166.3 238.7 166.3 237.1 166.4 235.5 166.4 233.9 166.5 232.3 166.5 230.7 166.6 229.1 166.6 227.5 166.6 226.0 166.7 224.4 166.7 222.9 166.8 221.4 166.8 219.9 166.9 218.4 166.9 216.9 167.0 215.5 167.0 214.1 167.1 212.7 167.1 211.3 167.2 210.0 167.3 208.2 167.4 206.5 167.4 204.8 167.5 203.1 167.6 201.4 167.7 199.8 167.8 198.2 167.9 196.7 168.0 195.2 168.1 193.7 168.2 192.2 168.3 190.8 168.4 189.4 168.5 188.0 168.6 186.2 168.8 184.5 168.9 182.9 169.1 181.3 169.2 179.7 169.4 178.1 169.6 176.5 169.8 174.8 170.0 173.3 170.3 171.8 170.5 170.2 170.8 168.6 171.1 166.9 171.4 165.3 171.7 163.7 172.0 162.1 172.3 160.5 172.6 159.0 172.9 157.5 173.2 155.8 173.5 154.1 173.7 152.5 174.0 150.9 174.3 149.3 174.6 147.7 175.0 146.2 175.5 144.7 176.1 143.2 176.7 141.7 177.4 140.0 178.2 138.3 178.9 136.9 179.8 136.0 180.6 134.7 181.8 133.2 183.0 132.4 184.3 130.6 185.7 130.1 187.1 130.0 188.7 129.2 190.2 128.0 191.6 128.2 193.1 128.9 194.5 129.3 195.8 129.8 197.2 131.2 198.6 133.5 199.9 133.8 201.1 133.3 202.3 131.2 203.5 130.9 204.8 128.7 206.1 128.0 207.7 127.1 209.3 126.2 211.1 125.9 213.0 126.3 215.0 125.8 216.4 125.3 217.8 125.3 219.3 124.9 220.8 126.0 222.4 124.8 224.0 125.8 225.6 125.2 227.2 125.7 228.8 125.0 230.6 124.8 232.4 124.7 234.2 125.7 236.0 126.0 237.7 126.2 239.3 126.6 240.8 125.4 242.1 126.0 243.8 125.4 245.2 124.8 247.1 122.9 248.1 123.7 249.2 122.0 250.5 122.6 251.8 122.0 253.2 122.1 254.7 121.3 256.3 121.5 257.9 121.2 259.6 121.2 261.3 121.0 263.1 120.5 264.8 120.3 266.6 120.6 268.4 121.3 270.2 120.9 271.9 119.8 273.3 120.4 274.7 119.6 276.1 119.8 277.6 120.8 279.1 119.8 280.6 119.4 282.1 120.0 283.7 120.0 285.2 119.9 286.8 120.6 288.4 119.9 290.0 119.7 291.6 119.4 293.2 120.0 294.8 120.3 296.4 119.9 298.0 119.8 299.6 119.6 301.2 120.5 302.8 120.7 304.3 120.1 305.8 120.3 307.3 119.8 308.8 119.6 310.2 119.4 311.6 120.3 313.2 120.7 314.8 120.4 316.4 120.4 317.9 120.7 319.5 120.1 321.0 120.1 322.4 119.9 323.9 120.8 325.4 120.6 326.8 120.4 328.3 120.8 329.7 121.1 331.2 119.8 332.7 120.1 334.2 120.5 335.8 121.0 337.3 120.3 338.9 120.7 340.4 121.1 341.9 120.6 343.6 121.3 345.3 120.4 347.1 121.0 348.9 121.4 350.7 121.8 352.6 121.4 354.4 121.7 356.3 121.8 358.1 121.8 359.9 121.6 361.6 121.5 363.3 121.3 364.9 122.6 366.5 122.6 367.9 122.5 369.2 122.8 370.4 122.3 371.5 122.2 372.4 123.0 373.1 123.0 373.7 123.5 374.5 124.6 375.0 124.3 375.3 123.5 375.5 121.4 375.6 118.9 375.7 116.8 376.1 115.9 377.0 117.5 378.6 119.7 379.5 118.8 380.6 120.4 381.9 119.3 383.4 120.2 385.0 120.2 386.7 120.9 388.5 119.8 390.3 119.6 392.1 121.0 393.9 120.2 395.6 120.3 397.2 120.3 398.7 120.3 400.0 120.1 401.9 121.4 403.6 121.6 405.1 122.7 406.7 124.1 408.2 124.5 409.9 123.7 411.4 123.6 413.0 122.8 414.6 122.8 416.2 121.4 417.8 120.6 419.3 121.2 420.9 120.2 422.3 120.6 423.9 120.0 425.5 120.7 427.0 122.3 428.5 123.4 429.8 123.3 431.0 124.0 432.2 123.3 433.1 122.0 434.7 120.5 435.4 120.5 436.2 119.7 437.2 119.5 438.2 119.3 439.3 120.3 440.5 119.2 441.8 119.7 443.2 118.8 444.6 119.8 446.1 118.5 447.7 119.5 449.3 119.1 451.0 119.6 452.7 119.5 454.4 118.2 456.2 118.2 457.9 118.5 459.7 118.2 461.6 119.4 463.4 118.3 465.2 119.1 467.0 119.5 468.8 119.2 470.6 119.6 472.3 119.1 474.0 118.8 475.7 119.7 477.3 118.5 478.9 119.1 480.4 118.9 481.9 119.1 483.5 118.7 485.2 119.7 486.8 119.8 488.4 119.4 489.9 119.2 491.5 119.9 493.1 120.0 494.6 118.8 496.2 120.1 497.7 119.0 499.2 119.1 500.8 119.4 502.3 119.7 503.8 120.0 505.3 120.8 506.9 119.7 508.4 120.5 509.9 120.4 511.4 119.9 513.0 121.3 514.5 121.3 516.0 120.5 517.6 121.3 519.1 120.7 520.7 121.1 522.3 121.5 523.9 121.1 525.5 120.6 527.2 120.2 528.8 120.8 530.5 120.9 532.2 120.4 533.9 120.8 535.5 119.9 537.2 120.3 538.8 120.6 540.5 120.5 542.1 120.8 543.7 120.1 545.3 120.2 546.8 120.8 548.3 120.2 549.7 120.0 551.2 120.7 552.5 120.3 553.8 120.8 555.1 121.4 556.3 121.5 558.1 121.4 559.9 121.9 561.5 121.9 563.1 121.5 564.6 122.6 566.0 121.7 567.4 122.2 568.7 123.0 570.0 122.7 571.7 123.9 573.4 124.3 574.9 124.2 576.3 125.7 577.7 125.5 579.0 127.1 580.3 128.1 581.4 130.3 582.5 130.9 583.4 132.7 584.1 134.3 584.7 135.6 585.1 137.1 585.6 138.7 585.9 140.4 586.3 142.4 586.5 143.5 586.7 144.7 586.8 146.0 586.9 147.3 587.1 148.6 587.2 150.0 587.3 151.5 587.4 153.0 587.5 154.6 587.5 156.1 587.6 157.8 587.7 159.4 587.7 161.1 587.8 162.8 587.8 164.5 587.9 166.2 587.9 168.0 588.0 169.7 588.1 171.5 588.1 173.2 588.2 175.0 588.3 176.3 588.3 177.7 588.4 179.1 588.4 180.5 588.5 181.9 588.5 183.3 588.5 184.8 588.6 186.3 588.6 187.8 588.7 189.3 588.7 190.8 588.7 192.3 588.8 193.8 588.8 195.4 588.8 197.0 588.9 198.5 588.9 200.1 588.9 201.7 589.0 203.2 589.0 204.8 589.0 206.4 589.1 208.0 589.1 209.6 589.1 211.2 589.2 212.8 589.2 214.4 589.2 215.9 589.3 217.5 589.3 219.1 589.3 220.6 589.4 222.2 589.4 223.7 589.5 225.3 589.5 226.8 589.6 228.3 589.6 229.8 589.6 231.4 589.7 232.9 589.8 234.5 589.8 236.1 589.9 237.7 589.9 239.3 590.0 240.9 590.0 242.5 590.1 244.1 590.1 245.7 590.2 247.3 590.2 248.9 590.3 250.5 590.3 252.1 590.4 253.7 590.5 255.3 590.5 256.8 590.6 258.4 590.6 260.0 590.7 261.5 590.7 263.0 590.8 264.6 590.9 266.1 590.9 267.6 591.0 269.0 591.1 270.5 591.1 271.9 591.2 273.3 591.2 274.7 591.3 276.1 591.4 277.4 591.4 278.7 591.5 280.0 591.6 281.8 591.7 283.5 591.8 285.3 591.9 287.0 592.0 288.7 592.1 290.4 592.2 292.0 592.3 293.6 592.4 295.2 592.5 296.7 592.6 298.2 592.7 299.7 592.8 301.0 592.9 302.4 593.0 303.6 593.1 304.9 593.2 306.0 593.4 308.3 593.6 310.6 593.8 312.5 594.0 314.0 594.2 314.6 594.4 314.0 594.6 312.5 594.8 310.6 595.0 308.3 595.2 306.0 595.3 304.9 595.4 303.6 595.5 302.4 595.6 301.0 595.7 299.7 595.8 298.2 595.9 296.7 596.0 295.2 596.1 293.6 596.2 292.0 596.4 290.4 596.5 288.7 596.6 287.0 596.7 285.3 596.8 283.5 596.9 281.8 597.0 280.0 597.1 278.7 597.2 277.4 597.2 276.0 597.3 274.6 597.4 273.2 597.5 271.8 597.6 270.3 597.7 268.8 597.8 267.3 597.9 265.7 597.9 264.2 598.0 262.6 598.1 261.0 598.2 259.4 598.3 257.8 598.4 256.2 598.5 254.6 598.6 253.0 598.7 251.3 598.7 249.7 598.8 248.1 598.9 246.5 599.0 244.9 599.1 243.3 599.2 241.7 599.2 240.2 599.3 238.6 599.4 237.1 599.4 235.6 599.5 234.1 599.6 232.6 599.6 231.2 599.7 229.8 599.8 228.1 599.8 226.5 599.9 224.8 599.9 223.2 600.0 221.6 600.0 220.0 600.1 218.4 600.1 216.9 600.1 215.3 600.2 213.8 600.2 212.2 600.2 210.7 600.3 209.2 600.3 207.7 600.4 206.1 600.4 204.6 600.4 203.1 600.5 201.7 600.5 200.2 600.5 198.7 600.6 197.2 600.6 195.7 600.7 194.2 600.8 192.6 600.8 191.0 600.9 189.3 600.9 187.6 601.0 186.0 601.0 184.3 601.1 182.6 601.1 180.9 601.2 179.3 601.2 177.6 601.3 176.0 601.3 174.4 601.4 172.9 601.5 171.3 601.6 169.9 601.7 168.5 601.8 167.1 601.9 165.8 602.1 164.6 602.2 163.5 602.5 161.5 602.7 159.6 603.0 157.8 603.4 156.3 603.9 155.1 604.5 154.2 606.3 152.5 608.3 151.7 609.7 152.5 611.1 154.5 612.2 155.8 612.8 157.0 613.2 158.3 613.5 159.7 613.8 161.3 614.0 163.1 614.3 165.1 614.5 167.3 614.6 168.2 614.7 169.2 614.8 170.3 614.9 171.3 614.9 172.5 615.0 173.6 615.1 174.8 615.1 176.1 615.2 177.4 615.2 178.7 615.3 180.1 615.3 181.5 615.4 182.9 615.4 184.4 615.5 185.9 615.5 187.4 615.5 188.9 615.5 190.5 615.6 192.1 615.6 193.7 615.6 195.3 615.6 197.0 615.6 198.6 615.7 200.3 615.7 202.0 615.7 203.7 615.7 205.4 615.7 207.2 615.7 208.9 615.8 210.7 615.8 212.4 615.8 214.2 615.8 215.9 615.8 217.7 615.8 219.4 615.9 221.2 615.9 222.9 615.9 224.6 615.9 226.4 616.0 228.1 616.0 229.8 616.0 231.1 616.1 232.5 616.1 233.9 616.1 235.3 616.1 236.6 616.2 238.0 616.2 239.5 616.2 240.9 616.2 242.3 616.2 243.8 616.3 245.2 616.3 246.7 616.3 248.1 616.3 249.6 616.4 251.1 616.4 252.6 616.4 254.1 616.4 255.6 616.5 257.1 616.5 258.6 616.5 260.1 616.5 261.7 616.5 263.2 616.6 264.7 616.6 266.3 616.6 267.8 616.6 269.4 616.7 270.9 616.7 272.5 616.7 274.1 616.7 275.6 616.7 277.2 616.8 278.8 616.8 280.3 616.8 281.9 616.8 283.5 616.9 285.1 616.9 286.6 616.9 288.2 616.9 289.8 616.9 291.4 617.0 293.0 617.0 294.5 617.0 296.1 617.0 297.7 617.0 299.3 617.1 300.9 617.1 302.4 617.1 304.0 617.1 305.6 617.2 307.1 617.2 308.7 617.2 310.2 617.2 311.8 617.2 313.3 617.3 314.9 617.3 316.4 617.3 318.0 617.3 319.5 617.4 321.0 617.4 322.5 617.4 324.0 617.4 325.5 617.5 327.0 617.5 328.5 617.5 330.0 617.5 331.6 617.6 333.1 617.6 334.7 617.6 336.3 617.6 337.9 617.7 339.6 617.7 341.2 617.7 342.9 617.7 344.6 617.8 346.2 617.8 347.9 617.8 349.6 617.8 351.4 617.9 353.1 617.9 354.8 617.9 356.5 617.9 358.3 618.0 360.0 618.0 361.7 618.0 363.5 618.0 365.2 618.1 366.9 618.1 368.6 618.1 370.4 618.2 372.1 618.2 373.8 618.2 375.5 618.2 377.2 618.3 378.9 618.3 380.5 618.3 382.2 618.3 383.8 618.4 385.5 618.4 387.1 618.4 388.7 618.4 390.3 618.5 391.8 618.5 393.4 618.5 394.9 618.6 396.4 618.6 397.9 618.6 399.3 618.6 400.7 618.7 402.1 618.7 403.5 618.7 404.8 618.7 406.2 618.8 407.4 618.8 408.7 618.8 409.9 618.9 411.1 618.9 412.2 618.9 413.3 618.9 414.4 619.0 415.4 619.0 416.4 619.0 417.4 619.0 418.3 619.1 419.2 619.1 420.0 619.2 422.2 619.2 424.3 619.3 426.4 619.4 428.2 619.5 429.7 619.5 430.9 619.6 431.7 619.7 431.4 619.8 431.7 619.9 430.9 619.9 429.7 620.0 428.2 620.1 426.4 620.2 424.3 620.2 422.2 620.3 420.0 620.3 419.2 620.3 418.3 620.4 417.4 620.4 416.4 620.4 415.4 620.4 414.4 620.4 413.3 620.5 412.2 620.5 411.0 620.5 409.8 620.5 408.5 620.5 407.3 620.5 406.0 620.5 404.6 620.6 403.3 620.6 401.9 620.6 400.4 620.6 399.0 620.6 397.5 620.6 396.0 620.6 394.5 620.6 392.9 620.6 391.4 620.6 389.8 620.7 388.2 620.7 386.5 620.7 384.9 620.7 383.2 620.7 381.6 620.7 379.9 620.7 378.2 620.7 376.5 620.7 374.8 620.7 373.1 620.7 371.4 620.7 369.6 620.7 367.9 620.7 366.2 620.7 364.4 620.8 362.7 620.8 361.0 620.8 359.2 620.8 357.5 620.8 355.8 620.8 354.1 620.8 352.4 620.8 350.7 620.8 349.0 620.8 347.3 620.8 345.7 620.8 344.0 620.8 342.4 620.8 340.8 620.8 339.2 620.9 337.6 620.9 336.0 620.9 334.5 620.9 333.0 620.9 331.5 620.9 330.0 620.9 328.4 620.9 326.9 620.9 325.3 620.9 323.7 621.0 322.2 621.0 320.6 621.0 319.0 621.0 317.4 621.0 315.8 621.0 314.2 621.0 312.6 621.0 311.0 621.0 309.4 621.0 307.8 621.1 306.2 621.1 304.6 621.1 303.0 621.1 301.4 621.1 299.8 621.1 298.2 621.1 296.6 621.1 295.0 621.1 293.4 621.2 291.8 621.2 290.2 621.2 288.7 621.2 287.1 621.2 285.5 621.2 284.0 621.2 282.4 621.2 280.9 621.2 279.3 621.2 277.8 621.3 276.3 621.3 274.8 621.3 273.3 621.3 271.8 621.3 270.4 621.3 268.9 621.3 267.5 621.3 266.0 621.4 264.6 621.4 263.2 621.4 261.8 621.4 260.4 621.4 259.1 621.4 257.7 621.4 256.4 621.4 255.1 621.5 253.8 621.5 252.5 621.5 251.2 621.5 250.0 621.5 248.2 621.5 246.4 621.6 244.6 621.6 242.8 621.6 241.1 621.6 239.3 621.6 237.6 621.7 235.9 621.7 234.2 621.7 232.5 621.7 230.9 621.7 229.3 621.7 227.7 621.8 226.2 621.8 224.6 621.8 223.2 621.8 221.7 621.9 220.3 621.9 219.0 621.9 217.7 622.0 216.4 622.0 215.3 622.0 214.1 622.1 213.0 622.1 212.0 622.2 209.9 622.3 207.9 622.4 206.0 622.5 204.4 622.6 203.4 622.7 203.4 622.8 203.4 622.9 204.6 623.0 206.3 623.1 208.2 623.2 210.2 623.3 212.0 623.4 213.6 623.5 215.4 623.6 217.4 623.6 219.4 623.7 221.2 623.8 222.6 623.9 223.6 624.0 223.8 624.1 223.7 624.2 222.7 624.3 221.4 624.4 219.6 624.5 217.7 624.6 215.7 624.7 213.8 624.8 212.0 624.9 210.5 624.9 209.0 625.0 207.5 625.1 206.0 625.1 204.4 625.2 202.8 625.3 201.1 625.3 199.5 625.4 197.7 625.5 196.0 625.6 194.2 625.7 192.8 625.7 191.4 625.8 189.9 625.9 188.3 626.0 186.7 626.0 185.1 626.1 183.4 626.2 181.8 626.3 180.1 626.3 178.4 626.4 176.8 626.5 175.2 626.6 173.6 626.8 172.0 626.9 170.6 627.0 169.1 627.2 167.8 627.3 166.6 627.5 165.4 627.8 163.3 628.1 161.3 628.4 159.5 628.8 157.9 629.3 157.0 630.0 155.8 631.9 155.5 633.8 156.3 634.6 154.8 635.1 152.7 635.5 150.4 636.0 148.6 636.5 147.6 637.3 148.0 638.2 150.2 639.0 152.0 639.6 153.9 640.0 156.2 640.5 158.1 641.0 159.2 641.5 158.6 641.9 157.1 642.4 155.3 643.0 153.2 643.5 151.1 644.1 149.3 644.7 147.9 645.3 146.1 645.9 144.4 646.6 142.7 647.3 142.3 648.1 140.6 649.4 141.3 650.9 143.3 652.2 143.5 653.0 145.4 653.7 147.0 654.4 148.7 655.1 150.5 655.7 151.3 656.3 152.6 656.8 151.7 657.2 150.1 657.6 148.2 657.9 146.1 658.4 144.1 659.0 143.0 660.2 140.2 661.6 139.6 663.0 139.2 664.4 140.1 665.7 141.1 667.1 143.2 668.4 141.6 669.8 140.9 671.1 140.3 672.4 138.8 673.8 137.4 675.2 137.4 676.9 137.0 678.6 138.0 680.1 139.0 680.6 139.0 681.0 140.3 681.3 141.6 681.5 143.0 681.6 144.6 681.7 146.3 681.8 148.1 681.8 150.0 681.8 151.9 681.8 153.8 681.9 155.7 682.0 157.5 682.1 158.9 682.2 160.3 682.2 161.8 682.3 163.4 682.4 164.9 682.5 166.6 682.5 168.2 682.6 169.9 682.6 171.6 682.7 173.2 682.7 174.9 682.8 176.6 682.8 178.3 682.9 179.9 682.9 181.5 683.0 183.0 683.0 184.6 683.0 186.0 683.1 187.4 683.1 188.7 683.2 190.0 683.3 191.9 683.4 193.9 683.4 195.9 683.5 197.9 683.6 199.7 683.7 201.2 683.7 202.4 683.8 203.2 683.9 204.2 684.0 203.2 684.1 202.4 684.2 201.1 684.2 199.5 684.3 197.7 684.4 195.7 684.5 193.7 684.6 191.8 684.7 190.0 684.8 188.6 684.8 187.2 684.9 185.7 685.0 184.1 685.0 182.6 685.1 181.0 685.1 179.4 685.2 177.7 685.3 176.1 685.4 174.5 685.5 172.9 685.6 171.4 685.8 169.8 686.0 168.3 686.2 166.6 686.5 165.0 686.8 163.3 687.1 161.6 687.4 159.9 687.7 158.2 688.1 156.6 688.5 155.0 688.9 153.5 689.3 152.0 689.7 150.7 690.1 149.4 690.7 147.7 691.2 146.0 691.8 144.5 692.5 143.0 693.3 142.0 694.2 142.0 695.8 141.0 697.6 141.5 699.4 141.6 700.9 142.5 701.6 143.9 702.1 145.2 702.6 147.1 702.9 149.2 703.2 151.3 703.4 153.2 703.7 154.7 703.9 155.9 704.2 156.1 704.6 155.7 704.9 154.4 705.1 152.6 705.5 150.5 705.9 148.4 706.4 146.7 707.1 145.3 707.9 143.2 708.7 142.2 709.7 139.9 710.7 138.8 711.8 138.0 713.4 138.2 715.2 138.2 716.9 139.1 718.5 139.5 720.1 141.4 721.4 143.5 722.6 143.8 723.5 142.7 724.3 141.3 725.3 140.2 727.3 140.5 729.4 142.0 730.5 142.0 731.6 143.5 732.6 144.9 733.4 146.7 733.7 147.6 733.9 148.6 734.1 149.7 734.3 150.9 734.5 152.2 734.6 153.6 734.7 155.1 734.8 156.6 734.9 158.1 734.9 159.7 734.9 161.4 735.0 163.1 735.0 164.8 735.0 166.5 735.0 168.3 735.0 170.0 735.0 171.7 735.0 173.4 735.1 175.1 735.1 176.8 735.1 178.4 735.2 180.0 735.3 181.6 735.3 183.3 735.4 185.0 735.5 186.9 735.5 188.9 735.6 190.9 735.7 192.9 735.7 195.0 735.8 197.0 735.9 199.1 735.9 201.1 736.0 203.1 736.1 205.0 736.1 206.8 736.2 208.5 736.2 210.2 736.3 211.6 736.4 213.0 736.4 214.2 736.5 215.2 736.5 216.0 736.6 216.6 736.6 217.0 736.7 217.5 736.8 217.0 736.8 216.5 736.9 215.9 736.9 215.0 737.0 213.9 737.0 212.6 737.1 211.2 737.1 209.6 737.2 207.9 737.2 206.0 737.3 204.1 737.3 202.2 737.4 200.1 737.4 198.1 737.5 196.1 737.5 194.1 737.6 192.1 737.6 190.2 737.7 188.3 737.7 186.6 737.8 185.0 737.8 183.4 737.9 181.7 737.9 179.9 737.9 178.1 737.9 176.3 737.8 174.4 737.8 172.4 737.8 170.5 737.8 168.6 737.8 166.8 737.8 164.9 737.8 163.2 737.8 161.5 737.8 159.8 737.9 158.3 738.0 156.9 738.1 155.6 738.2 154.5 738.4 153.5 738.6 152.7 738.9 151.7 739.8 151.6 740.8 151.0 741.0 151.0 741.3 151.4 741.5 152.0 741.6 152.8 741.8 153.7 741.9 154.8 742.0 156.1 742.1 157.5 742.2 159.0 742.3 160.6 742.3 162.3 742.4 164.0 742.4 165.9 742.4 167.8 742.5 169.7 742.5 171.6 742.5 173.6 742.5 175.6 742.5 177.6 742.6 179.5 742.6 181.4 742.6 183.3 742.6 185.1 742.7 186.8 742.7 188.4 742.8 190.0 742.9 191.6 742.9 193.3 743.0 195.1 743.1 196.9 743.1 198.8 743.2 200.8 743.3 202.8 743.3 204.8 743.4 206.8 743.5 208.8 743.5 210.8 743.6 212.8 743.6 214.7 743.7 216.5 743.7 218.2 743.8 219.9 743.9 221.4 743.9 222.8 744.0 224.1 744.0 225.2 744.1 226.1 744.1 226.9 744.2 227.4 744.2 227.8 744.3 227.6 744.4 227.7 744.4 227.3 744.5 226.5 744.5 225.5 744.6 224.2 744.7 222.8 744.7 221.2 744.8 219.4 744.8 217.5 744.9 215.6 744.9 213.6 745.0 211.5 745.0 209.4 745.1 207.4 745.1 205.4 745.2 203.5 745.2 201.7 745.3 200.0 745.4 198.5 745.4 197.0 745.4 195.5 745.5 194.0 745.5 192.5 745.6 190.9 745.6 189.4 745.7 187.9 745.7 186.3 745.7 184.7 745.8 183.2 745.8 181.6 745.9 180.1 745.9 178.6 746.0 177.1 746.0 175.6 746.1 174.1 746.2 172.6 746.2 171.1 746.3 169.7 746.4 168.3 746.5 166.6 746.6 164.9 746.7 163.2 746.8 161.5 746.9 159.8 747.0 158.1 747.2 156.4 747.3 154.8 747.4 153.2 747.6 151.6 747.7 150.2 747.9 148.7 748.1 147.4 748.3 146.2 748.5 145.0 748.9 143.0 749.3 141.1 749.8 139.4 750.3 138.5 750.9 137.8 751.7 138.0 752.6 140.3 753.6 142.6 754.5 144.3 755.3 145.1 755.8 144.5 756.3 142.8 756.6 140.8 757.0 138.8 757.5 137.4 758.2 136.8 759.6 135.4 761.2 136.9 762.6 138.0 763.4 139.1 764.0 140.2 764.5 141.7 764.9 143.6 765.1 144.9 765.4 146.5 765.6 148.3 765.7 150.3 765.9 152.4 766.1 154.6 766.2 156.7 766.3 158.6 766.4 160.4 766.6 161.9 766.7 163.1 766.8 163.8 767.0 164.2 767.1 163.8 767.2 163.1 767.3 161.9 767.3 160.3 767.4 158.5 767.4 156.5 767.5 154.4 767.6 152.2 767.7 150.1 767.9 148.1 768.2 146.3 768.6 144.8 769.0 143.3 770.1 141.8 771.4 140.1 772.9 139.1 774.3 138.0 775.8 138.5 777.3 138.7 778.7 139.4 779.6 141.1 780.4 141.7 781.1 143.2 781.7 145.0 781.9 145.9 782.2 147.0 782.4 148.1 782.5 149.4 782.7 150.7 782.8 152.1 782.9 153.6 783.0 155.2 783.1 156.8 783.1 158.5 783.2 160.1 783.2 161.9 783.3 163.6 783.3 165.4 783.4 167.1 783.4 168.9 783.4 170.6 783.5 172.4 783.5 174.1 783.6 175.7 783.7 177.3 783.8 178.9 783.9 180.5 784.0 182.3 784.0 184.2 784.1 186.2 784.2 188.1 784.3 190.2 784.4 192.2 784.4 194.2 784.5 196.3 784.6 198.2 784.7 200.2 784.8 202.0 784.8 203.8 784.9 205.4 785.0 206.9 785.1 208.3 785.1 209.5 785.2 210.5 785.3 211.4 785.4 212.0 785.4 212.4 785.5 212.4 785.6 212.4 785.6 212.0 785.7 211.5 785.7 210.7 785.8 209.8 785.8 208.7 785.9 207.4 785.9 206.0 786.0 204.5 786.0 202.8 786.0 201.1 786.1 199.2 786.1 197.3 786.2 195.4 786.2 193.4 786.2 191.4 786.3 189.3 786.3 187.3 786.4 185.3 786.4 183.3 786.5 181.3 786.6 179.4 786.6 177.6 786.7 175.9 786.7 174.3 786.8 172.8 786.9 171.4 787.0 169.6 787.1 167.6 787.2 165.6 787.3 163.5 787.4 161.4 787.5 159.4 787.6 157.4 787.7 155.5 787.8 153.8 787.9 152.2 788.1 150.8 788.3 149.7 788.5 148.8 788.7 148.6 789.0 148.5 789.7 148.7 790.4 150.2 791.2 151.8 791.9 153.8 792.3 155.2 792.7 156.8 793.0 158.4 793.3 160.1 793.5 161.9 793.8 163.7 794.0 165.6 794.2 167.1 794.3 168.9 794.5 170.9 794.6 173.0 794.8 175.1 794.9 177.2 795.0 179.1 795.1 180.9 795.3 182.4 795.4 183.6 795.5 184.3 795.7 185.2 795.8 184.3 796.0 183.6 796.1 182.4 796.2 180.9 796.4 179.1 796.5 177.2 796.6 175.1 796.8 173.0 797.0 170.9 797.2 168.9 797.5 167.1 797.8 165.6 798.2 163.9 798.7 162.3 799.2 160.7 799.8 159.3 800.3 157.8 800.9 156.2 801.6 155.2 802.2 154.0 803.2 152.4 804.2 150.6 805.4 149.6 806.6 148.7 807.9 147.4 809.3 146.2 810.8 145.1 812.4 144.6 813.7 144.6 815.1 144.8 816.6 143.1 818.1 143.5 819.6 143.5 821.2 142.5 822.8 142.3 824.4 142.6 826.1 141.9 827.8 141.2 829.5 141.5 831.3 141.0 833.0 142.2 834.8 141.2 836.8 141.8 839.0 140.5 841.1 140.7 843.0 141.1 844.6 140.1 845.6 140.5 846.0 140.5"/>
<path stroke="#E69F00" d="M72.5 72.4L73.0 73.3 74.4 73.1 76.2 73.4 78.2 72.3 80.0 72.2 81.6 72.9 83.3 72.7 85.0 72.1 86.7 72.6 88.4 72.1 90.0 72.7 91.9 71.8 93.6 72.1 95.3 73.3 97.0 72.6 98.9 72.5 100.7 73.3 102.5 73.2 104.4 73.0 106.3 74.3 108.0 75.2 109.4 75.3 110.8 76.9 112.0 77.0 113.1 78.4 114.1 79.2 115.0 80.7 115.7 82.6 116.3 83.7 116.9 85.3 117.4 87.1 117.7 88.3 118.0 89.6 118.3 90.9 118.5 92.3 118.8 93.8 119.0 95.4 119.2 97.0 119.4 98.7 119.6 100.6 119.7 101.8 119.8 103.0 119.9 104.2 120.0 105.6 120.1 106.9 120.2 108.3 120.3 109.8 120.4 111.2 120.5 112.7 120.5 114.3 120.6 115.9 120.7 117.5 120.7 119.1 120.8 120.7 120.9 122.4 120.9 124.0 121.0 125.7 121.0 127.4 121.1 129.1 121.2 130.8 121.2 132.5 121.3 134.2 121.3 135.9 121.4 137.6 121.4 139.3 121.5 141.0 121.5 142.4 121.6 143.8 121.6 145.2 121.7 146.7 121.7 148.1 121.8 149.6 121.8 151.0 121.9 152.5 121.9 154.0 121.9 155.5 122.0 157.0 122.0 158.5 122.0 160.0 122.1 161.5 122.1 163.0 122.1 164.6 122.2 166.1 122.2 167.6 122.2 169.2 122.3 170.7 122.3 172.3 122.3 173.8 122.4 175.3 122.4 176.9 122.4 178.4 122.5 179.9 122.5 181.5 122.5 183.0 122.6 184.5 122.6 186.0 122.6 187.5 122.7 189.0 122.7 190.5 122.7 192.0 122.8 193.5 122.8 195.0 122.8 196.5 122.9 198.1 122.9 199.6 123.0 201.2 123.0 202.7 123.0 204.2 123.1 205.8 123.1 207.3 123.1 208.8 123.2 210.4 123.2 211.9 123.3 213.4 123.3 215.0 123.3 216.5 123.4 218.0 123.4 219.5 123.5 221.0 123.5 222.6 123.5 224.1 123.6 225.6 123.6 227.1 123.6 228.6 123.7 230.1 123.7 231.6 123.7 233.1 123.8 234.6 123.8 236.1 123.8 237.6 123.9 239.1 123.9 240.6 123.9 242.0 124.0 243.5 124.0 245.0 124.0 246.5 124.1 248.1 124.1 249.6 124.1 251.1 124.1 252.7 124.2 254.2 124.2 255.7 124.2 257.2 124.2 258.8 124.3 260.3 124.3 261.8 124.3 263.3 124.3 264.8 124.4 266.3 124.4 267.8 124.4 269.3 124.4 270.8 124.4 272.3 124.5 273.8 124.5 275.3 124.5 276.8 124.5 278.3 124.6 279.7 124.6 281.2 124.6 282.7 124.6 284.2 124.6 285.6 124.7 287.1 124.7 288.5 124.7 290.0 124.7 291.6 124.7 293.1 124.8 294.7 124.8 296.2 124.8 297.8 124.8 299.3 124.9 300.8 124.9 302.3 124.9 303.8 124.9 305.4 124.9 306.9 125.0 308.4 125.0 309.9 125.0 311.4 125.0 312.9 125.1 314.4 125.1 315.9 125.1 317.4 125.1 319.0 125.1 320.5 125.2 322.1 125.2 323.6 125.2 325.2 125.2 326.8 125.3 328.4 125.3 330.0 125.3 331.4 125.3 332.9 125.4 334.4 125.4 336.0 125.4 337.5 125.4 339.1 125.5 340.7 125.5 342.3 125.5 343.9 125.5 345.5 125.5 347.2 125.6 348.8 125.6 350.5 125.6 352.1 125.6 353.8 125.7 355.4 125.7 357.0 125.7 358.7 125.7 360.3 125.8 361.9 125.8 363.4 125.8 365.0 125.8 366.5 125.9 368.0 125.9 369.5 125.9 370.9 126.0 372.4 126.0 373.7 126.0 375.1 126.1 376.4 126.1 377.6 126.2 378.8 126.2 380.0 126.3 381.8 126.3 383.5 126.4 385.2 126.5 386.8 126.6 388.3 126.7 389.7 126.8 391.1 126.9 392.5 126.9 393.9 127.0 395.2 127.1 396.6 127.2 398.0 127.3 399.6 127.4 401.2 127.5 402.7 127.6 404.2 127.7 405.6 127.8 407.1 127.9 408.7 128.0 410.3 128.1 412.0 128.2 413.4 128.2 414.8 128.3 416.4 128.4 417.9 128.4 419.6 128.5 421.2 128.5 422.9 128.6 424.5 128.7 426.1 128.7 427.8 128.8 429.3 128.8 430.9 128.9 432.3 128.9 433.7 129.0 435.0 129.1 436.9 129.2 439.0 129.3 441.0 129.3 442.9 129.4 444.4 129.5 445.4 129.6 445.2 129.7 445.4 129.8 444.2 129.9 442.4 130.0 440.3 130.0 438.1 130.1 436.0 130.1 434.8 130.2 433.5 130.2 432.2 130.2 430.8 130.2 429.3 130.3 427.8 130.3 426.3 130.3 424.7 130.3 423.1 130.3 421.5 130.3 419.8 130.4 418.2 130.4 416.5 130.4 414.9 130.4 413.2 130.4 411.6 130.4 410.0 130.4 408.6 130.4 407.1 130.4 405.6 130.4 404.2 130.4 402.7 130.4 401.2 130.4 399.8 130.4 398.3 130.4 396.8 130.3 395.3 130.3 393.8 130.3 392.3 130.3 390.8 130.3 389.2 130.3 387.7 130.3 386.2 130.3 384.6 130.3 383.1 130.3 381.6 130.3 380.0 130.3 378.5 130.3 377.0 130.3 375.5 130.3 373.9 130.3 372.3 130.4 370.7 130.4 369.1 130.4 367.4 130.4 365.8 130.4 364.2 130.4 362.6 130.5 360.9 130.5 359.3 130.5 357.8 130.5 356.2 130.5 354.7 130.6 353.2 130.6 351.7 130.6 350.3 130.6 348.9 130.7 347.5 130.7 346.2 130.7 345.0 130.7 343.3 130.8 341.7 130.8 340.2 130.9 338.8 130.9 337.4 130.9 336.1 131.0 334.7 131.0 333.2 131.1 331.7 131.1 330.0 131.1 328.7 131.2 327.4 131.2 326.0 131.2 324.6 131.2 323.1 131.2 321.6 131.3 320.1 131.3 318.5 131.3 316.9 131.3 315.4 131.4 313.8 131.4 312.2 131.4 310.6 131.4 309.0 131.5 307.4 131.5 305.9 131.5 304.3 131.5 302.9 131.6 301.4 131.6 300.0 131.6 298.3 131.7 296.7 131.7 295.0 131.7 293.4 131.8 291.8 131.8 290.2 131.9 288.6 131.9 287.0 132.0 285.5 132.0 284.0 132.0 282.5 132.1 281.0 132.1 279.5 132.2 278.0 132.3 276.3 132.3 274.4 132.4 272.4 132.5 270.4 132.5 268.4 132.6 266.5 132.7 264.8 132.8 263.4 132.9 262.3 132.9 261.6 133.0 260.6 133.1 261.6 133.1 262.3 133.2 263.4 133.3 264.8 133.4 266.5 133.5 268.4 133.5 270.4 133.6 272.4 133.7 274.4 133.7 276.3 133.8 278.0 133.9 279.5 133.9 281.0 134.0 282.5 134.0 284.0 134.0 285.5 134.1 287.0 134.1 288.6 134.2 290.2 134.2 291.8 134.2 293.4 134.3 295.0 134.3 296.7 134.4 298.3 134.4 300.0 134.4 301.4 134.5 302.8 134.5 304.2 134.5 305.6 134.6 307.0 134.6 308.5 134.6 309.9 134.7 311.4 134.7 312.8 134.7 314.3 134.7 315.8 134.8 317.3 134.8 318.9 134.8 320.4 134.9 322.0 134.9 323.5 134.9 325.1 134.9 326.7 135.0 328.4 135.0 330.0 135.0 331.4 135.0 332.8 135.1 334.2 135.1 335.7 135.1 337.2 135.1 338.7 135.1 340.3 135.1 341.8 135.2 343.4 135.2 345.0 135.2 346.6 135.2 348.2 135.2 349.8 135.2 351.4 135.3 353.1 135.3 354.7 135.3 356.3 135.3 357.9 135.3 359.4 135.3 361.0 135.4 362.5 135.4 364.1 135.4 365.5 135.4 367.0 135.4 368.4 135.5 369.8 135.5 371.2 135.5 372.5 135.6 373.8 135.6 375.0 135.7 376.8 135.7 378.5 135.8 380.2 135.9 381.8 135.9 383.4 136.0 384.9 136.1 386.4 136.2 387.9 136.2 389.3 136.3 390.7 136.4 392.2 136.4 393.6 136.5 395.0 136.6 396.6 136.6 398.0 136.7 399.5 136.7 400.9 136.8 402.2 136.8 403.7 136.9 405.1 136.9 406.6 137.0 408.3 137.0 410.0 137.0 411.2 137.0 412.5 137.1 413.8 137.1 415.2 137.1 416.6 137.1 418.1 137.1 419.6 137.2 421.1 137.2 422.6 137.2 424.2 137.2 425.8 137.2 427.4 137.2 429.0 137.2 430.6 137.2 432.2 137.3 433.9 137.3 435.5 137.3 437.1 137.3 438.7 137.3 440.3 137.4 441.9 137.4 443.5 137.4 445.0 137.4 446.5 137.5 448.1 137.5 449.6 137.5 451.2 137.5 452.8 137.6 454.3 137.6 455.9 137.7 457.5 137.7 459.1 137.7 460.6 137.8 462.2 137.8 463.8 137.8 465.3 137.9 466.9 137.9 468.4 137.9 469.9 138.0 471.4 138.0 472.9 138.1 474.4 138.1 475.8 138.1 477.2 138.2 478.6 138.2 480.0 138.2 481.7 138.3 483.5 138.3 485.2 138.4 486.8 138.4 488.5 138.5 490.1 138.5 491.7 138.5 493.3 138.6 494.8 138.6 496.3 138.7 497.8 138.7 499.2 138.8 500.6 138.8 502.0 138.9 503.8 138.9 505.8 139.0 507.8 139.0 509.7 139.1 511.4 139.1 512.8 139.2 513.7 139.2 513.8 139.2 513.7 139.3 512.8 139.3 511.4 139.4 509.7 139.4 507.8 139.5 505.8 139.5 503.8 139.6 502.0 139.6 500.6 139.7 499.2 139.7 497.8 139.8 496.3 139.8 494.8 139.9 493.3 139.9 491.7 139.9 490.1 140.0 488.5 140.0 486.8 140.1 485.2 140.1 483.5 140.2 481.7 140.2 480.0 140.2 478.6 140.3 477.2 140.3 475.8 140.3 474.4 140.4 472.9 140.4 471.4 140.5 469.9 140.5 468.4 140.5 466.9 140.6 465.3 140.6 463.8 140.6 462.2 140.7 460.6 140.7 459.1 140.7 457.5 140.8 455.9 140.8 454.3 140.9 452.8 140.9 451.2 140.9 449.6 140.9 448.1 141.0 446.5 141.0 445.0 141.0 443.5 141.0 441.9 141.1 440.4 141.1 438.8 141.1 437.2 141.1 435.6 141.1 434.0 141.1 432.4 141.1 430.9 141.2 429.3 141.2 427.7 141.2 426.1 141.2 424.5 141.2 423.0 141.2 421.5 141.2 419.9 141.2 418.4 141.3 417.0 141.3 415.5 141.3 414.1 141.3 412.7 141.4 411.3 141.4 410.0 141.5 408.3 141.5 406.6 141.6 404.9 141.6 403.3 141.7 401.8 141.8 400.2 141.8 398.7 141.9 397.2 142.0 395.8 142.1 394.3 142.1 392.9 142.2 391.4 142.3 390.0 142.4 388.4 142.5 387.0 142.6 385.5 142.7 384.1 142.8 382.8 142.8 381.3 142.9 379.9 143.0 378.4 143.1 376.7 143.2 375.0 143.3 373.8 143.3 372.5 143.4 371.2 143.4 369.8 143.5 368.4 143.5 366.9 143.6 365.4 143.6 363.9 143.7 362.4 143.7 360.8 143.8 359.2 143.8 357.6 143.8 356.0 143.9 354.4 143.9 352.8 144.0 351.1 144.0 349.5 144.1 347.9 144.1 346.3 144.2 344.7 144.2 343.1 144.3 341.5 144.3 340.0 144.3 338.5 144.4 336.9 144.4 335.4 144.5 333.8 144.5 332.3 144.6 330.7 144.6 329.1 144.6 327.5 144.7 326.0 144.7 324.4 144.8 322.8 144.8 321.3 144.9 319.7 144.9 318.2 144.9 316.6 145.0 315.1 145.0 313.6 145.1 312.1 145.1 310.7 145.2 309.2 145.2 307.8 145.3 306.4 145.3 305.0 145.4 303.3 145.4 301.6 145.5 300.0 145.5 298.3 145.6 296.7 145.6 295.1 145.7 293.5 145.7 291.9 145.8 290.4 145.9 288.9 145.9 287.5 146.0 286.0 146.1 284.6 146.2 283.3 146.3 282.0 146.5 279.9 146.6 277.7 146.8 275.5 147.0 273.5 147.2 271.8 147.5 270.7 147.7 270.9 148.2 271.5 148.8 274.0 149.0 275.1 149.1 276.6 149.2 278.4 149.3 280.3 149.4 282.4 149.6 284.5 149.7 286.7 149.8 288.7 149.9 290.5 150.1 292.1 150.3 293.3 150.5 294.1 150.8 294.9 151.4 293.9 152.0 293.8 153.0 292.1 154.0 290.7 154.3 291.2 154.6 292.7 154.7 294.7 154.9 297.0 155.0 299.3 155.1 301.4 155.2 302.8 155.3 302.7 155.4 303.0 155.6 302.1 155.7 300.7 155.8 299.0 155.9 297.0 156.0 294.7 156.1 292.4 156.2 290.0 156.2 289.1 156.3 288.1 156.3 287.1 156.4 286.0 156.4 284.9 156.4 283.8 156.5 282.5 156.5 281.3 156.5 280.0 156.6 278.6 156.6 277.2 156.7 275.8 156.7 274.4 156.7 272.9 156.8 271.4 156.8 269.8 156.8 268.3 156.9 266.7 156.9 265.0 156.9 263.4 157.0 261.7 157.0 260.1 157.0 258.4 157.1 256.7 157.1 255.0 157.1 253.2 157.2 251.5 157.2 249.8 157.2 248.0 157.3 246.3 157.3 244.6 157.3 242.8 157.4 241.1 157.4 239.4 157.4 237.7 157.5 236.0 157.5 234.3 157.5 232.6 157.6 230.9 157.6 229.3 157.6 227.7 157.7 226.1 157.7 224.5 157.7 223.0 157.8 221.5 157.8 220.0 157.8 218.6 157.9 217.2 157.9 215.8 157.9 214.4 158.0 213.2 158.0 211.9 158.1 210.0 158.1 208.1 158.2 206.1 158.2 204.0 158.3 201.9 158.3 199.8 158.4 197.7 158.4 195.7 158.5 193.6 158.5 191.6 158.6 189.6 158.6 187.7 158.7 185.8 158.7 184.1 158.8 182.5 158.8 180.9 158.9 179.5 158.9 178.3 159.0 177.2 159.1 176.3 159.1 175.5 159.2 175.0 159.2 174.6 159.3 174.6 159.4 174.8 159.5 175.5 159.6 176.6 159.7 178.1 159.9 179.9 160.0 181.8 160.1 183.8 160.2 185.9 160.3 188.0 160.4 190.0 160.5 191.2 160.5 192.5 160.6 193.8 160.6 195.1 160.7 196.5 160.7 197.9 160.8 199.4 160.8 200.9 160.8 202.4 160.9 203.9 160.9 205.5 161.0 207.1 161.0 208.7 161.0 210.3 161.1 211.9 161.1 213.6 161.2 215.2 161.2 216.9 161.2 218.6 161.3 220.2 161.3 221.9 161.3 223.5 161.4 225.2 161.4 226.8 161.5 228.4 161.5 230.0 161.5 231.5 161.6 233.0 161.6 234.5 161.6 236.0 161.7 237.5 161.7 239.0 161.8 240.6 161.8 242.2 161.8 243.7 161.9 245.3 161.9 246.9 161.9 248.4 162.0 250.0 162.0 251.6 162.0 253.2 162.1 254.7 162.1 256.3 162.2 257.8 162.2 259.4 162.2 260.9 162.3 262.4 162.3 263.9 162.3 265.3 162.4 266.8 162.4 268.2 162.4 269.6 162.5 271.0 162.5 272.4 162.6 273.7 162.6 275.0 162.7 276.8 162.7 278.6 162.8 280.4 162.8 282.2 162.9 283.9 162.9 285.7 162.9 287.4 163.0 289.1 163.1 290.7 163.1 292.2 163.2 293.7 163.2 295.2 163.3 296.5 163.4 297.8 163.4 298.9 163.5 300.0 163.7 302.6 164.0 304.8 164.2 305.7 164.3 305.5 164.3 305.1 164.4 304.4 164.5 303.4 164.5 302.2 164.6 300.9 164.6 299.3 164.6 297.6 164.7 295.8 164.7 293.9 164.8 291.9 164.8 289.9 164.8 287.9 164.9 285.8 164.9 283.8 165.0 281.9 165.0 280.0 165.0 278.8 165.1 277.6 165.1 276.3 165.1 275.0 165.2 273.7 165.2 272.3 165.2 270.9 165.2 269.5 165.3 268.1 165.3 266.6 165.3 265.2 165.4 263.7 165.4 262.2 165.4 260.6 165.5 259.1 165.5 257.5 165.5 256.0 165.6 254.4 165.6 252.8 165.6 251.2 165.7 249.6 165.7 248.0 165.7 246.4 165.7 244.8 165.8 243.2 165.8 241.6 165.8 240.0 165.9 238.4 165.9 236.8 165.9 235.2 166.0 233.6 166.0 232.0 166.0 230.5 166.0 228.9 166.1 227.4 166.1 225.9 166.1 224.4 166.1 222.9 166.2 221.4 166.2 220.0 166.2 218.4 166.3 216.8 166.3 215.2 166.3 213.6 166.3 212.0 166.3 210.4 166.4 208.8 166.4 207.2 166.4 205.6 166.4 204.0 166.4 202.4 166.4 200.9 166.4 199.3 166.5 197.7 166.5 196.1 166.5 194.6 166.5 193.0 166.5 191.5 166.5 189.9 166.6 188.4 166.6 186.9 166.6 185.4 166.6 183.9 166.7 182.5 166.7 181.0 166.7 179.6 166.7 178.2 166.8 176.8 166.8 175.4 166.9 174.1 166.9 172.8 166.9 171.5 167.0 170.2 167.1 168.5 167.1 166.8 167.2 165.2 167.3 163.6 167.4 162.0 167.5 160.5 167.6 158.9 167.7 157.5 167.8 156.0 167.9 154.6 168.0 153.1 168.1 151.7 168.2 150.3 168.3 148.9 168.4 147.5 168.6 146.1 168.7 144.7 168.9 143.1 169.0 141.4 169.2 139.8 169.4 138.2 169.6 136.6 169.8 135.0 169.9 133.4 170.2 131.9 170.4 130.3 170.6 128.8 170.8 127.3 171.1 125.9 171.3 124.4 171.6 122.8 171.9 121.1 172.2 119.5 172.5 117.9 172.9 116.4 173.2 114.8 173.6 113.3 173.9 111.9 174.3 110.5 174.7 109.2 175.2 107.6 175.7 106.2 176.3 104.9 176.9 103.3 177.4 102.0 178.0 100.9 178.7 99.2 179.3 97.5 180.0 95.9 180.7 94.7 181.4 93.0 182.4 91.6 183.5 90.6 184.8 88.6 186.2 87.4 187.7 86.4 189.3 85.4 190.8 84.9 192.1 84.8 193.4 85.5 194.6 87.3 195.8 88.3 197.3 89.6 198.7 90.8 199.9 91.2 200.8 90.8 201.6 89.1 202.6 87.5 203.8 86.2 205.3 84.6 206.9 84.3 208.3 83.6 209.8 82.3 211.4 82.1 213.2 81.4 215.0 80.7 216.4 80.9 218.0 80.1 219.6 80.9 221.3 80.6 223.0 79.3 224.7 78.8 226.4 78.6 228.1 79.5 229.7 78.3 231.3 78.9 232.9 79.0 234.4 77.9 236.0 78.6 237.5 77.4 239.0 77.2 240.6 77.9 242.1 77.1 243.6 76.6 245.2 76.6 246.7 76.5 248.2 75.5 249.7 75.1 251.2 74.9 252.8 73.5 254.5 73.7 256.0 72.7 257.4 72.7 259.0 72.4 260.5 72.3 262.1 73.2 263.7 71.7 265.3 72.3 266.9 71.5 268.6 71.3 270.2 72.6 271.9 71.9 273.4 72.4 275.0 72.1 276.5 72.0 278.2 72.4 279.8 71.3 281.4 71.7 283.1 72.5 284.7 73.1 286.3 72.0 288.0 72.3 289.6 72.8 291.1 72.6 292.7 72.8 294.2 71.7 295.9 71.8 297.5 72.2 299.2 72.0 300.8 71.5 302.4 71.3 304.0 70.9 305.6 69.4 307.1 69.5 308.7 68.9 310.1 68.9 311.6 69.7 313.2 69.4 314.8 70.5 316.4 69.6 317.9 70.8 319.4 72.1 320.9 71.6 322.4 72.5 324.0 73.0 325.6 72.9 327.1 72.2 328.7 72.3 330.3 72.6 331.9 72.0 333.6 71.7 335.3 72.2 337.1 71.0 338.9 71.5 340.3 70.9 341.8 71.2 343.3 71.3 344.9 71.3 346.6 71.1 348.2 70.5 349.9 70.5 351.6 70.5 353.3 70.5 354.9 70.7 356.6 69.2 358.1 69.1 359.6 70.4 361.1 69.8 362.4 68.9 363.7 69.1 365.7 68.6 367.7 68.5 369.6 67.9 371.2 68.6 372.6 67.8 373.7 68.6 374.5 70.5 374.7 72.8 374.9 73.6 375.1 73.1 375.3 71.0 375.5 68.5 375.7 66.4 376.1 66.2 376.8 67.3 378.0 68.5 379.5 69.9 381.4 69.1 383.6 69.6 384.8 70.5 386.1 70.5 387.5 70.6 389.0 70.5 390.6 70.6 392.2 70.1 393.9 71.2 395.5 71.4 397.1 71.2 398.6 71.1 400.0 71.5 401.7 72.8 403.3 72.3 405.0 73.7 406.6 74.6 408.1 75.1 409.6 75.0 411.0 75.7 412.4 75.0 414.0 74.4 415.5 73.7 416.8 71.6 418.2 71.0 419.8 70.7 421.1 69.8 422.6 70.3 424.1 72.2 425.6 73.1 427.2 74.3 428.6 73.7 429.9 75.3 431.0 75.0 432.3 74.2 433.3 72.5 434.7 71.7 435.7 71.2 436.8 70.8 438.1 71.8 439.5 70.9 441.0 71.0 442.6 72.1 444.3 72.4 446.0 71.5 447.8 72.2 449.6 71.9 451.5 72.4 453.3 72.7 455.2 72.5 457.0 72.7 458.4 72.8 459.8 73.2 461.2 72.4 462.7 72.3 464.2 72.6 465.8 72.3 467.4 72.1 468.9 71.9 470.5 72.8 472.2 72.7 473.8 71.5 475.4 72.2 477.1 71.8 478.7 71.2 480.3 71.1 481.9 72.4 483.6 70.9 485.2 71.5 486.7 71.7 488.3 71.8 489.9 71.7 491.4 70.7 492.9 71.2 494.3 70.8 495.9 71.8 497.5 72.0 499.1 71.3 500.7 72.0 502.3 71.7 503.8 72.1 505.4 72.0 506.9 72.5 508.4 72.4 509.9 72.5 511.4 73.3 512.9 74.1 514.3 74.0 515.8 74.2 517.3 74.1 518.7 73.8 520.2 74.0 521.6 73.8 523.3 74.6 524.9 73.9 526.5 74.6 528.1 73.5 529.7 74.5 531.2 73.6 532.8 73.4 534.4 73.7 535.9 73.1 537.5 73.8 539.1 73.5 540.7 73.1 542.3 73.1 543.9 73.3 545.4 73.0 547.0 72.6 548.6 72.7 550.3 72.4 552.0 72.5 553.7 72.7 555.3 72.5 557.0 72.6 558.6 71.2 560.3 71.1 561.8 71.1 563.4 72.4 564.8 71.5 566.2 71.7 567.5 71.7 568.7 71.9 570.5 72.4 572.2 72.7 573.7 72.4 575.1 73.3 576.5 74.3 577.7 74.3 579.1 75.1 580.4 75.7 581.5 76.9 582.5 78.1 583.4 79.4 584.1 81.3 584.7 83.0 585.3 84.9 585.6 86.1 585.9 87.4 586.2 88.7 586.4 90.1 586.6 91.6 586.8 93.1 587.0 94.8 587.1 96.5 587.3 98.3 587.4 99.5 587.5 100.7 587.6 102.0 587.7 103.3 587.7 104.7 587.8 106.1 587.9 107.6 587.9 109.1 588.0 110.7 588.0 112.2 588.1 113.8 588.1 115.4 588.1 117.1 588.2 118.7 588.2 120.4 588.3 122.1 588.3 123.7 588.3 125.4 588.4 127.1 588.4 128.7 588.4 130.3 588.5 132.0 588.5 133.6 588.6 135.1 588.6 136.7 588.6 138.2 588.7 139.7 588.7 141.3 588.8 142.8 588.8 144.3 588.9 145.7 588.9 147.2 589.0 148.7 589.0 150.2 589.1 151.7 589.1 153.2 589.1 154.7 589.2 156.2 589.2 157.7 589.3 159.2 589.3 160.7 589.4 162.2 589.4 163.8 589.4 165.3 589.5 166.9 589.5 168.5 589.6 170.1 589.6 171.7 589.7 173.3 589.7 175.0 589.7 176.4 589.8 177.8 589.8 179.2 589.9 180.7 589.9 182.1 589.9 183.6 590.0 185.1 590.0 186.6 590.0 188.1 590.1 189.6 590.1 191.1 590.2 192.6 590.2 194.2 590.2 195.7 590.3 197.3 590.3 198.8 590.4 200.4 590.4 201.9 590.4 203.5 590.5 205.1 590.5 206.6 590.5 208.2 590.6 209.8 590.6 211.3 590.7 212.9 590.7 214.5 590.7 216.0 590.8 217.6 590.8 219.1 590.9 220.7 590.9 222.2 590.9 223.8 591.0 225.3 591.0 226.8 591.1 228.3 591.1 229.8 591.1 231.4 591.2 232.9 591.2 234.5 591.3 236.1 591.3 237.7 591.3 239.4 591.4 241.0 591.4 242.6 591.5 244.3 591.5 245.9 591.6 247.5 591.6 249.2 591.6 250.8 591.7 252.4 591.7 254.0 591.8 255.7 591.8 257.3 591.8 258.8 591.9 260.4 591.9 262.0 592.0 263.5 592.0 265.0 592.1 266.5 592.1 268.0 592.1 269.5 592.2 270.9 592.2 272.3 592.3 273.7 592.3 275.0 592.4 276.3 592.4 277.6 592.5 278.8 592.5 280.0 592.6 281.9 592.6 283.7 592.7 285.4 592.8 287.1 592.9 288.8 592.9 290.4 593.0 291.9 593.1 293.4 593.2 294.8 593.3 296.2 593.3 297.5 593.4 298.8 593.5 300.0 593.6 302.0 593.8 304.1 593.9 305.9 594.1 307.2 594.2 307.2 594.4 307.2 594.5 305.9 594.7 304.1 594.8 302.0 595.0 300.0 595.1 298.8 595.2 297.5 595.3 296.2 595.3 294.8 595.4 293.4 595.5 291.9 595.6 290.4 595.6 288.8 595.7 287.1 595.8 285.4 595.8 283.7 595.9 281.9 596.0 280.0 596.1 278.8 596.1 277.6 596.2 276.3 596.2 275.0 596.3 273.7 596.3 272.3 596.4 270.9 596.4 269.5 596.5 268.0 596.6 266.5 596.6 265.0 596.7 263.5 596.7 262.0 596.8 260.4 596.8 258.8 596.9 257.3 597.0 255.7 597.0 254.0 597.1 252.4 597.1 250.8 597.2 249.2 597.3 247.5 597.3 245.9 597.4 244.3 597.4 242.6 597.5 241.0 597.5 239.4 597.6 237.7 597.6 236.1 597.7 234.5 597.7 232.9 597.8 231.4 597.8 229.8 597.8 228.3 597.9 226.8 597.9 225.3 597.9 223.8 598.0 222.3 598.0 220.8 598.0 219.2 598.1 217.7 598.1 216.2 598.1 214.6 598.1 213.1 598.2 211.6 598.2 210.0 598.2 208.5 598.2 207.0 598.2 205.4 598.3 203.9 598.3 202.3 598.3 200.8 598.3 199.2 598.4 197.7 598.4 196.2 598.4 194.6 598.4 193.1 598.4 191.5 598.5 190.0 598.5 188.5 598.5 187.0 598.6 185.5 598.6 183.9 598.6 182.4 598.6 180.9 598.7 179.4 598.7 178.0 598.8 176.5 598.8 175.0 598.8 173.4 598.9 171.8 598.9 170.2 599.0 168.5 599.0 166.9 599.1 165.3 599.1 163.7 599.2 162.0 599.3 160.4 599.3 158.8 599.4 157.1 599.4 155.5 599.5 153.9 599.5 152.3 599.6 150.7 599.7 149.1 599.7 147.5 599.8 145.9 599.9 144.4 599.9 142.8 600.0 141.3 600.1 139.8 600.1 138.3 600.2 136.8 600.3 135.3 600.3 133.9 600.4 132.5 600.5 131.1 600.6 129.7 600.6 128.4 600.7 127.1 600.8 125.3 600.9 123.5 601.0 121.8 601.1 120.1 601.2 118.4 601.3 116.7 601.4 115.1 601.5 113.5 601.6 112.0 601.7 110.5 601.8 109.0 601.9 107.6 602.1 106.2 602.2 104.8 602.4 103.5 602.6 102.2 602.9 100.2 603.2 98.3 603.5 96.5 603.9 94.8 604.3 93.2 604.8 91.8 605.5 90.8 607.0 89.9 608.7 88.3 610.3 87.3 611.7 88.1 613.0 88.8 614.1 90.6 614.5 91.5 614.8 92.5 615.0 93.6 615.3 94.9 615.4 96.2 615.5 97.7 615.6 99.2 615.7 100.9 615.7 102.6 615.8 104.3 615.8 106.2 615.8 108.0 615.8 109.9 615.8 111.8 615.9 113.7 615.9 115.6 616.0 117.5 616.1 118.7 616.1 120.0 616.2 121.3 616.2 122.6 616.3 124.0 616.3 125.4 616.4 126.8 616.4 128.2 616.4 129.6 616.5 131.1 616.5 132.6 616.6 134.1 616.6 135.6 616.6 137.1 616.7 138.7 616.7 140.2 616.7 141.8 616.8 143.4 616.8 145.0 616.8 146.6 616.9 148.2 616.9 149.8 616.9 151.4 616.9 153.0 617.0 154.6 617.0 156.2 617.0 157.8 617.1 159.4 617.1 161.0 617.1 162.6 617.1 164.2 617.2 165.8 617.2 167.3 617.2 168.9 617.2 170.4 617.3 172.0 617.3 173.5 617.3 175.0 617.3 176.5 617.3 178.1 617.4 179.6 617.4 181.1 617.4 182.5 617.4 184.0 617.5 185.5 617.5 187.0 617.5 188.4 617.5 189.9 617.5 191.3 617.6 192.8 617.6 194.2 617.6 195.6 617.6 197.1 617.6 198.5 617.6 200.0 617.6 201.5 617.7 202.9 617.7 204.4 617.7 205.9 617.7 207.4 617.7 208.9 617.7 210.4 617.7 211.9 617.8 213.4 617.8 215.0 617.8 216.5 617.8 218.1 617.8 219.7 617.8 221.4 617.8 223.0 617.9 224.7 617.9 226.4 617.9 228.1 617.9 229.8 617.9 231.1 617.9 232.4 617.9 233.7 617.9 235.1 618.0 236.4 618.0 237.8 618.0 239.2 618.0 240.6 618.0 242.0 618.0 243.4 618.0 244.8 618.0 246.3 618.0 247.7 618.1 249.2 618.1 250.6 618.1 252.1 618.1 253.6 618.1 255.1 618.1 256.6 618.1 258.1 618.1 259.6 618.1 261.2 618.2 262.7 618.2 264.3 618.2 265.8 618.2 267.4 618.2 268.9 618.2 270.5 618.2 272.0 618.2 273.6 618.2 275.2 618.3 276.8 618.3 278.4 618.3 279.9 618.3 281.5 618.3 283.1 618.3 284.7 618.3 286.3 618.3 287.9 618.3 289.5 618.3 291.1 618.4 292.7 618.4 294.3 618.4 295.9 618.4 297.5 618.4 299.1 618.4 300.7 618.4 302.2 618.4 303.8 618.4 305.4 618.4 307.0 618.5 308.6 618.5 310.1 618.5 311.7 618.5 313.3 618.5 314.8 618.5 316.4 618.5 317.9 618.5 319.4 618.5 321.0 618.5 322.5 618.6 324.0 618.6 325.5 618.6 327.0 618.6 328.5 618.6 330.0 618.6 331.5 618.6 333.1 618.6 334.7 618.6 336.3 618.7 337.9 618.7 339.5 618.7 341.1 618.7 342.7 618.7 344.4 618.7 346.0 618.7 347.7 618.7 349.3 618.7 351.0 618.7 352.7 618.7 354.3 618.7 356.0 618.8 357.7 618.8 359.4 618.8 361.1 618.8 362.7 618.8 364.4 618.8 366.1 618.8 367.8 618.8 369.4 618.8 371.1 618.8 372.7 618.8 374.4 618.8 376.0 618.9 377.7 618.9 379.3 618.9 380.9 618.9 382.5 618.9 384.1 618.9 385.7 618.9 387.3 618.9 388.8 618.9 390.4 618.9 391.9 618.9 393.4 619.0 394.9 619.0 396.4 619.0 397.9 619.0 399.3 619.0 400.7 619.0 402.1 619.0 403.5 619.0 404.8 619.0 406.2 619.1 407.5 619.1 408.8 619.1 410.0 619.1 411.2 619.1 412.4 619.1 413.6 619.1 414.8 619.1 415.9 619.2 417.0 619.2 418.0 619.2 419.0 619.2 420.0 619.2 422.1 619.3 424.3 619.3 426.5 619.3 428.6 619.4 430.7 619.4 432.7 619.5 434.5 619.5 436.1 619.5 437.5 619.6 438.7 619.6 439.6 619.7 440.1 619.7 439.7 619.7 440.1 619.8 439.6 619.8 438.7 619.9 437.5 619.9 436.1 619.9 434.5 620.0 432.7 620.0 430.7 620.1 428.6 620.1 426.5 620.1 424.3 620.2 422.1 620.2 420.0 620.2 419.0 620.2 418.0 620.2 417.0 620.3 415.9 620.3 414.8 620.3 413.6 620.3 412.5 620.3 411.3 620.3 410.1 620.3 408.8 620.3 407.5 620.4 406.2 620.4 404.9 620.4 403.6 620.4 402.2 620.4 400.8 620.4 399.4 620.4 398.0 620.4 396.5 620.4 395.1 620.5 393.6 620.5 392.1 620.5 390.6 620.5 389.0 620.5 387.5 620.5 385.9 620.5 384.4 620.5 382.8 620.5 381.2 620.5 379.6 620.5 377.9 620.6 376.3 620.6 374.7 620.6 373.0 620.6 371.4 620.6 369.7 620.6 368.1 620.6 366.4 620.6 364.7 620.6 363.0 620.6 361.4 620.6 359.7 620.6 358.0 620.7 356.3 620.7 354.6 620.7 353.0 620.7 351.3 620.7 349.6 620.7 347.9 620.7 346.3 620.7 344.6 620.7 342.9 620.7 341.3 620.7 339.7 620.8 338.0 620.8 336.4 620.8 334.8 620.8 333.2 620.8 331.6 620.8 330.0 620.8 328.6 620.8 327.1 620.8 325.7 620.8 324.2 620.8 322.7 620.9 321.2 620.9 319.7 620.9 318.2 620.9 316.7 620.9 315.2 620.9 313.7 620.9 312.2 620.9 310.6 620.9 309.1 620.9 307.6 620.9 306.0 621.0 304.5 621.0 302.9 621.0 301.3 621.0 299.8 621.0 298.2 621.0 296.6 621.0 295.0 621.0 293.5 621.0 291.9 621.0 290.3 621.0 288.7 621.1 287.1 621.1 285.5 621.1 283.9 621.1 282.3 621.1 280.8 621.1 279.2 621.1 277.6 621.1 276.0 621.1 274.4 621.1 272.8 621.1 271.3 621.2 269.7 621.2 268.1 621.2 266.5 621.2 265.0 621.2 263.4 621.2 261.8 621.2 260.3 621.2 258.7 621.2 257.2 621.2 255.6 621.2 254.1 621.3 252.6 621.3 251.1 621.3 249.6 621.3 248.0 621.3 246.6 621.3 245.1 621.3 243.6 621.3 242.1 621.3 240.6 621.3 239.2 621.4 237.7 621.4 236.3 621.4 234.9 621.4 233.5 621.4 232.1 621.4 230.7 621.4 229.3 621.4 227.9 621.4 226.6 621.5 225.2 621.5 223.9 621.5 222.6 621.5 221.3 621.5 220.0 621.5 218.3 621.5 216.5 621.5 214.8 621.6 213.0 621.6 211.3 621.6 209.5 621.6 207.7 621.6 206.0 621.6 204.2 621.6 202.4 621.7 200.7 621.7 198.9 621.7 197.2 621.7 195.4 621.7 193.7 621.7 192.0 621.7 190.3 621.7 188.7 621.8 187.0 621.8 185.4 621.8 183.8 621.8 182.2 621.8 180.6 621.8 179.1 621.9 177.6 621.9 176.2 621.9 174.7 621.9 173.3 621.9 172.0 622.0 170.7 622.0 169.4 622.0 168.1 622.0 166.9 622.0 165.8 622.1 164.7 622.1 163.7 622.1 162.7 622.1 161.7 622.2 160.8 622.2 160.0 622.3 157.7 622.4 155.5 622.5 153.7 622.6 152.5 622.7 152.4 622.8 152.3 622.9 153.3 623.0 154.7 623.2 156.5 623.3 158.6 623.5 160.7 623.6 162.8 623.7 164.9 623.9 166.6 624.0 168.0 624.2 170.3 624.4 172.3 624.6 173.0 624.7 172.9 624.7 172.3 624.8 171.4 624.9 170.2 624.9 168.8 625.0 167.2 625.0 165.4 625.1 163.5 625.2 161.4 625.2 159.4 625.3 157.4 625.3 155.4 625.4 153.4 625.4 151.6 625.5 150.0 625.6 148.5 625.6 147.0 625.7 145.5 625.7 144.0 625.8 142.5 625.9 141.0 625.9 139.5 626.0 138.0 626.0 136.4 626.1 134.9 626.2 133.4 626.3 131.8 626.3 130.3 626.4 128.7 626.5 127.1 626.6 125.6 626.6 124.1 626.7 122.5 626.8 120.8 626.8 119.1 626.9 117.4 626.9 115.6 627.0 113.9 627.0 112.2 627.1 110.5 627.2 108.8 627.3 107.2 627.4 105.6 627.5 104.1 627.7 102.7 627.8 101.5 628.0 100.3 628.3 99.2 628.5 98.3 629.3 96.2 630.2 94.7 631.1 93.2 631.8 94.3 632.5 96.5 633.1 98.7 633.8 99.4 634.3 98.5 634.8 97.3 635.4 95.3 635.9 93.1 636.4 90.8 636.9 88.9 637.4 87.4 637.8 87.7 638.4 87.8 639.0 89.8 639.5 92.0 639.8 93.6 640.1 95.5 640.4 97.7 640.7 99.8 641.0 101.6 641.3 102.9 641.6 103.3 641.9 102.8 642.1 102.0 642.4 100.6 642.6 98.9 642.9 96.9 643.2 94.9 643.5 93.0 643.9 91.2 644.3 89.8 644.9 88.0 645.6 86.3 646.4 84.7 647.2 83.3 648.1 83.3 649.4 83.7 650.9 84.0 652.2 86.2 652.8 86.9 653.4 88.5 653.9 90.4 654.3 92.5 654.8 94.5 655.2 96.4 655.6 97.9 655.9 99.2 656.3 99.6 656.6 99.1 656.9 98.0 657.2 96.5 657.4 94.7 657.6 92.7 657.9 90.7 658.2 88.8 658.5 87.1 659.0 85.7 659.9 84.1 660.9 81.9 662.0 80.5 663.0 80.2 664.0 80.8 665.0 82.8 666.1 84.9 667.1 85.2 668.4 84.7 669.7 83.1 671.1 81.8 672.4 80.8 673.8 80.2 675.3 79.9 676.6 78.8 678.5 79.0 680.1 80.9 680.5 81.0 680.9 82.0 681.2 83.2 681.4 84.5 681.5 86.0 681.6 87.7 681.7 89.4 681.7 91.2 681.8 93.1 681.8 95.0 681.8 96.9 681.9 98.8 682.0 100.6 682.1 101.9 682.1 103.2 682.2 104.6 682.3 106.0 682.3 107.5 682.4 109.0 682.5 110.5 682.5 112.1 682.6 113.6 682.6 115.2 682.6 116.8 682.7 118.5 682.7 120.1 682.8 121.7 682.8 123.3 682.8 124.9 682.9 126.6 682.9 128.1 682.9 129.7 683.0 131.3 683.0 132.8 683.1 134.3 683.1 135.8 683.1 137.2 683.2 138.6 683.2 140.0 683.2 141.8 683.3 143.6 683.3 145.6 683.4 147.6 683.4 149.7 683.5 151.7 683.5 153.7 683.5 155.6 683.6 157.3 683.6 159.0 683.7 160.5 683.7 161.8 683.7 162.8 683.8 163.6 683.8 164.1 683.9 164.1 684.0 164.0 684.1 163.1 684.1 161.7 684.2 160.0 684.3 158.1 684.4 156.0 684.5 153.9 684.6 151.8 684.7 150.0 684.8 148.6 684.9 147.1 684.9 145.6 685.0 144.1 685.1 142.6 685.2 141.0 685.3 139.5 685.3 137.9 685.5 136.4 685.6 134.9 685.7 133.3 685.8 131.9 686.0 130.4 686.2 128.7 686.5 127.1 686.7 125.6 687.0 124.0 687.3 122.5 687.6 120.9 687.9 119.3 688.2 117.7 688.5 116.0 688.8 114.2 689.0 112.8 689.2 111.4 689.4 109.9 689.6 108.3 689.7 106.6 689.9 104.9 690.1 103.2 690.3 101.5 690.4 99.8 690.6 98.1 690.8 96.5 691.1 94.9 691.3 93.3 691.6 91.9 691.8 90.5 692.1 89.3 692.4 88.1 692.8 87.1 693.7 85.3 694.7 82.7 695.8 82.3 696.9 80.9 699.0 80.7 700.9 83.5 701.5 84.1 702.0 85.8 702.5 87.8 702.9 89.9 703.2 91.9 703.5 93.6 703.8 94.7 704.2 94.9 704.6 94.7 705.0 93.1 705.3 91.1 705.8 88.9 706.4 87.0 707.1 85.8 707.9 83.7 708.7 82.7 709.7 80.6 710.7 80.0 711.8 79.4 713.4 78.2 715.3 78.9 717.1 79.0 718.5 80.9 719.5 81.8 720.2 84.2 720.7 86.1 721.3 87.8 721.9 86.1 722.4 84.0 723.1 81.9 724.0 80.1 725.7 79.5 727.6 81.1 729.4 81.9 730.3 83.0 731.1 83.3 731.7 85.0 732.4 86.5 732.9 88.1 733.4 89.8 733.7 90.9 733.9 92.1 734.1 93.4 734.2 94.8 734.3 96.2 734.4 97.6 734.5 99.1 734.5 100.7 734.6 102.3 734.6 103.9 734.6 105.5 734.6 107.2 734.7 109.0 734.7 110.7 734.7 112.4 734.8 114.2 734.9 115.5 734.9 116.9 735.0 118.3 735.0 119.7 735.0 121.2 735.1 122.8 735.1 124.3 735.2 125.9 735.2 127.5 735.3 129.1 735.3 130.8 735.3 132.4 735.4 134.1 735.4 135.8 735.5 137.4 735.5 139.1 735.5 140.8 735.6 142.4 735.6 144.0 735.6 145.7 735.7 147.2 735.7 148.8 735.7 150.4 735.8 151.9 735.8 153.3 735.9 154.8 735.9 156.1 735.9 157.5 736.0 158.8 736.0 160.0 736.1 162.0 736.1 164.1 736.2 166.3 736.2 168.4 736.3 170.5 736.4 172.5 736.4 174.3 736.5 175.9 736.5 177.3 736.6 178.3 736.6 179.0 736.7 178.9 736.8 179.0 736.8 178.3 736.9 177.3 736.9 175.9 737.0 174.3 737.1 172.5 737.1 170.5 737.2 168.4 737.2 166.3 737.3 164.1 737.3 162.0 737.4 160.0 737.4 158.8 737.5 157.5 737.5 156.1 737.5 154.7 737.5 153.3 737.6 151.8 737.6 150.2 737.6 148.7 737.6 147.1 737.6 145.4 737.6 143.8 737.7 142.1 737.7 140.5 737.7 138.8 737.7 137.1 737.7 135.4 737.7 133.7 737.8 132.0 737.8 130.4 737.8 128.7 737.9 127.1 737.9 125.5 737.9 123.9 738.0 122.4 738.0 120.9 738.1 119.5 738.1 118.1 738.2 116.7 738.2 115.4 738.3 114.2 738.4 112.2 738.6 110.1 738.7 108.0 738.8 105.8 739.0 103.8 739.2 101.8 739.3 100.0 739.5 98.4 739.7 97.1 739.9 96.1 740.0 95.3 740.2 95.2 740.4 95.5 740.6 96.0 740.8 97.0 741.0 98.3 741.2 99.9 741.4 101.7 741.5 103.6 741.7 105.7 741.9 107.8 742.1 110.0 742.3 112.1 742.4 114.2 742.5 115.3 742.5 116.5 742.6 117.8 742.7 119.1 742.7 120.4 742.8 121.8 742.8 123.3 742.9 124.7 742.9 126.2 743.0 127.8 743.0 129.3 743.0 130.9 743.1 132.6 743.1 134.2 743.1 135.8 743.2 137.5 743.2 139.2 743.2 140.9 743.2 142.5 743.2 144.2 743.3 145.9 743.3 147.6 743.3 149.3 743.3 150.9 743.3 152.6 743.4 154.2 743.4 155.8 743.4 157.4 743.4 158.9 743.4 160.5 743.5 161.9 743.5 163.4 743.5 164.8 743.5 166.2 743.5 167.5 743.6 168.8 743.6 170.0 743.6 171.9 743.7 173.8 743.7 175.8 743.8 177.9 743.8 179.9 743.9 181.9 743.9 183.8 744.0 185.7 744.0 187.4 744.0 189.0 744.1 190.5 744.1 191.7 744.2 192.7 744.2 193.5 744.3 193.9 744.3 194.8 744.3 194.0 744.4 193.6 744.4 193.0 744.5 192.1 744.5 191.1 744.5 189.9 744.6 188.5 744.6 187.0 744.7 185.3 744.7 183.6 744.7 181.7 744.8 179.8 744.8 177.8 744.9 175.7 744.9 173.7 744.9 171.6 745.0 169.6 745.0 167.5 745.1 165.5 745.1 163.6 745.2 161.8 745.2 160.0 745.2 158.6 745.3 157.2 745.3 155.7 745.3 154.3 745.4 152.8 745.4 151.2 745.4 149.7 745.5 148.1 745.5 146.6 745.5 145.0 745.6 143.4 745.6 141.8 745.6 140.1 745.7 138.5 745.7 136.9 745.8 135.3 745.8 133.7 745.8 132.0 745.9 130.4 745.9 128.8 745.9 127.2 746.0 125.7 746.0 124.1 746.1 122.6 746.1 121.1 746.2 119.6 746.2 118.1 746.2 116.7 746.3 115.3 746.3 113.9 746.4 112.6 746.4 111.3 746.5 110.0 746.6 108.2 746.6 106.4 746.6 104.6 746.6 102.8 746.6 101.0 746.5 99.2 746.5 97.5 746.5 95.9 746.6 94.3 746.6 92.8 746.7 91.3 746.8 90.0 747.0 88.8 747.3 87.7 747.6 86.8 748.0 85.5 749.3 83.9 750.9 83.3 752.3 83.8 753.4 84.6 754.4 87.0 755.3 88.5 755.9 87.0 756.4 85.3 756.8 83.1 757.4 81.1 758.2 79.4 760.4 79.4 762.6 80.3 763.4 81.6 764.0 82.8 764.5 84.5 764.9 86.4 765.1 87.5 765.3 88.9 765.5 90.5 765.6 92.3 765.8 94.2 765.9 96.2 766.0 98.3 766.1 100.4 766.2 102.5 766.3 104.6 766.4 106.5 766.4 108.4 766.5 110.0 766.6 111.4 766.7 112.6 766.8 113.5 766.9 114.1 767.0 113.8 767.1 114.1 767.2 113.5 767.2 112.6 767.3 111.4 767.3 109.9 767.3 108.2 767.4 106.3 767.4 104.3 767.4 102.3 767.5 100.1 767.6 98.0 767.7 95.9 767.8 93.9 768.0 92.0 768.2 90.2 768.4 88.7 768.7 87.4 769.0 86.4 770.1 84.1 771.4 82.4 772.9 81.5 774.8 81.5 776.9 81.4 778.7 83.1 779.7 84.3 780.5 85.6 781.1 87.2 781.7 89.3 781.9 90.3 782.1 91.4 782.3 92.7 782.5 94.0 782.6 95.3 782.8 96.8 782.9 98.3 783.0 99.9 783.1 101.5 783.1 103.1 783.2 104.8 783.3 106.6 783.3 108.3 783.4 110.0 783.4 111.8 783.5 113.5 783.6 115.3 783.6 117.0 783.7 118.7 783.8 120.1 783.8 121.6 783.9 123.1 783.9 124.6 784.0 126.2 784.1 127.8 784.1 129.4 784.2 131.0 784.2 132.7 784.2 134.3 784.3 136.0 784.3 137.6 784.4 139.3 784.4 141.0 784.5 142.6 784.5 144.2 784.5 145.8 784.6 147.4 784.6 149.0 784.6 150.5 784.7 152.0 784.7 153.5 784.7 154.9 784.8 156.2 784.8 157.5 784.9 158.8 784.9 160.0 785.0 162.0 785.0 164.1 785.1 166.3 785.1 168.4 785.2 170.3 785.3 172.1 785.3 173.6 785.4 174.8 785.4 175.5 785.5 175.4 785.6 175.5 785.6 174.8 785.7 173.6 785.7 172.1 785.8 170.3 785.9 168.4 785.9 166.3 786.0 164.1 786.0 162.0 786.1 160.0 786.1 158.8 786.2 157.5 786.2 156.2 786.2 154.8 786.2 153.4 786.3 152.0 786.3 150.4 786.3 148.9 786.3 147.3 786.3 145.7 786.3 144.1 786.4 142.5 786.4 140.8 786.4 139.2 786.4 137.5 786.4 135.8 786.5 134.2 786.5 132.5 786.5 130.9 786.6 129.2 786.6 127.6 786.6 126.1 786.7 124.5 786.7 123.0 786.8 121.5 786.8 120.1 786.9 118.7 787.0 116.9 787.0 115.1 787.1 113.2 787.1 111.3 787.1 109.4 787.1 107.5 787.2 105.6 787.2 103.7 787.3 101.9 787.4 100.2 787.5 98.7 787.6 97.2 787.8 95.8 788.0 94.7 788.3 93.7 788.6 92.5 789.0 92.7 790.5 91.0 791.9 91.5 792.5 92.6 792.9 93.7 793.3 95.3 793.5 97.1 793.8 99.1 794.0 101.0 794.2 102.4 794.3 104.0 794.4 105.9 794.5 107.9 794.6 110.0 794.7 112.1 794.8 114.2 794.9 116.1 794.9 118.0 795.0 119.6 795.1 121.0 795.2 122.1 795.3 122.8 795.4 122.3 795.5 122.7 795.7 122.0 795.8 120.9 795.9 119.5 796.1 117.7 796.2 115.8 796.3 113.8 796.5 111.7 796.7 109.6 796.8 107.6 797.0 105.7 797.2 104.0 797.4 102.3 797.6 100.6 797.8 98.9 798.0 97.1 798.2 95.4 798.5 93.7 798.7 92.0 799.0 90.5 799.3 89.0 799.7 87.6 800.1 86.5 800.8 84.5 801.5 82.6 802.4 81.4 803.7 79.9 804.9 80.1 806.4 79.3 808.0 79.2 809.8 79.6 811.7 79.2 813.5 80.0 815.4 80.2 816.9 79.3 818.5 79.3 820.2 80.7 821.9 80.5 823.7 79.9 825.4 81.3 827.2 80.2 828.8 80.5 830.3 81.1 831.7 81.5 833.0 81.8 835.2 81.1 836.9 80.2 838.8 79.2 840.4 79.5 842.3 81.2 844.1 80.6 845.5 82.3 846.0 82.4"/>
</g>
<g fill="none" stroke="#222" stroke-width="1.7">
<path d="M71.0 55.1V784.6" stroke="#333" stroke-width="1.7"/>
<path d="M70.2 56.1H844.9" stroke="#333" stroke-width="2"/>
<path d="M70.2 783.9000000000001H845.6999999999999" stroke="#111" stroke-width="1.9"/>
<path d="M844.9 55.1V784.7" stroke="#777" stroke-width="1.6"/>
<path d="M115.5 783.7v-8M115.5 56.1v8M270.5 783.7v-8M270.5 56.1v8M425.6 783.7v-8M425.6 56.1v8M580.6 783.7v-8M580.6 56.1v8M737.0 783.7v-8M737.0 56.1v8M71.0 66.4h5.5M844.9 66.4h-5.5M71.0 186h5.5M844.9 186h-5.5M71.0 304.5h5.5M844.9 304.5h-5.5M71.0 424.1h5.5M844.9 424.1h-5.5M71.0 542.5h5.5M844.9 542.5h-5.5" stroke-width="1.3"/>
</g>
<g stroke="#000" stroke-width="2.3" fill="none" stroke-dasharray="6 3">
<path d="M620.5 70.4V778" stroke-dashoffset="3"/>
<path d="M794.9 73.1V624.7" stroke-dasharray="5.3 2.7"/>
</g>
<g stroke="#f00" stroke-width="2.2" fill="none">
<rect x="759.8" y="66.6" width="71.2" height="230"/>
<path d="M831 66.6L901.3 63.8M831 296.6L901.3 784.8"/>
<rect x="901.3" y="63.8" width="259.2" height="721"/>
</g>
<g font-family="'Liberation Sans', Arial, Helvetica, sans-serif" font-size="17" text-anchor="middle" fill="#111">
<text x="119.6" y="805.2">3000</text>
<text x="274.3" y="805.2">2500</text>
<text x="430.6" y="805.2">2000</text>
<text x="586.1" y="805.2">1500</text>
<text x="741.2" y="805.2">1000</text>
</g>
<g font-family="'Liberation Sans', Arial, Helvetica, sans-serif" fill="#000">
<text x="260.8" y="877" font-size="54.6">Wavenumer, cm</text>
<text x="651.8" y="856.4" font-size="35">-1</text>
<text transform="translate(39.3 600) rotate(-90)" font-size="51.15">Transmittance, a.u.</text>
<text x="12.3" y="62" font-size="51" font-weight="bold">a)</text>
<text x="884.6" y="38.6" font-size="51" font-weight="bold">b)</text>
<g font-size="29.5">
<text x="241.1" y="108.8" font-size="30.3">PP</text>
<text x="241.1" y="159.2" font-size="30.4">PP/2% hBN</text>
<text x="241.1" y="226.8" font-size="30.5">PP/18% hBN</text>
<text x="241" y="307.5" font-size="31.3">PP/29% hBN</text>
</g>
<g font-weight="bold">
<text x="441" y="759" font-size="36.3">1373 cm</text>
<text x="583.5" y="744.9" font-size="23.5">-1</text>
<text x="645.1" y="646.4" font-size="35.5">817 cm</text>
<text x="766.5" y="633" font-size="23.5">-1</text>
</g>
</g>
<g fill="none" stroke-width="2.7" stroke-linejoin="round" stroke-linecap="round">
<path stroke="#009E73" d="M918.2 498.8L918.5 499.4 919.1 501.0 919.8 502.9 920.5 504.8 920.9 506.2 921.4 507.7 921.8 509.2 922.2 510.8 922.6 512.5 922.9 514.3 923.1 515.6 923.3 517.0 923.4 518.5 923.6 520.0 923.7 521.5 923.8 523.1 923.9 524.8 924.0 526.4 924.1 528.1 924.2 529.8 924.3 531.5 924.4 533.2 924.5 534.8 924.6 536.3 924.7 537.9 924.8 539.5 924.9 541.0 925.1 542.6 925.2 544.2 925.3 545.8 925.4 547.5 925.5 549.1 925.6 550.7 925.7 552.3 925.8 553.8 925.9 555.4 926.0 557.0 926.1 558.5 926.2 560.2 926.3 562.1 926.4 564.1 926.5 566.2 926.6 568.3 926.7 570.3 926.7 572.3 926.8 574.1 926.9 575.7 927.0 577.0 927.1 578.0 927.3 578.7 927.4 578.9 927.6 578.5 927.8 577.4 928.1 575.8 928.3 573.9 928.6 571.9 928.8 570.0 929.0 568.8 929.1 567.4 929.3 566.1 929.4 564.6 929.6 563.1 929.7 561.6 929.9 560.1 930.0 558.5 930.2 556.9 930.3 555.3 930.5 553.7 930.6 552.2 930.8 550.6 931.0 549.1 931.1 547.5 931.3 545.9 931.4 544.2 931.6 542.6 931.8 541.0 931.9 539.3 932.1 537.7 932.3 536.1 932.5 534.5 932.6 532.9 932.8 531.4 933.0 529.9 933.2 528.5 933.4 526.7 933.7 525.0 933.9 523.3 934.2 521.6 934.4 520.0 934.7 518.4 935.0 516.9 935.3 515.6 935.6 514.3 936.1 512.6 936.6 511.1 937.1 509.8 937.9 508.7 939.1 507.7 940.5 506.9 941.9 506.4 943.9 506.4 945.8 506.4 947.4 505.3 949.0 504.0 950.9 502.8 952.9 502.1 954.6 502.7 956.1 504.0 957.2 505.1 958.3 506.5 959.3 507.9 960.1 509.6 960.7 511.4 961.6 512.7 963.2 513.1 964.8 513.5 965.7 514.5 966.5 515.8 967.2 517.4 967.6 518.6 968.0 520.0 968.3 521.5 968.6 523.2 968.9 524.9 969.2 526.7 969.5 528.5 969.7 529.8 969.9 531.2 970.1 532.6 970.3 534.0 970.5 535.5 970.7 537.0 970.8 538.5 971.0 540.1 971.2 541.7 971.3 543.4 971.5 545.1 971.6 546.9 971.8 548.7 971.9 550.6 972.0 551.9 972.1 553.1 972.1 554.4 972.2 555.8 972.3 557.1 972.4 558.5 972.4 559.9 972.5 561.4 972.5 562.8 972.6 564.3 972.6 565.8 972.7 567.3 972.7 568.8 972.8 570.4 972.8 572.0 972.9 573.5 972.9 575.1 972.9 576.7 973.0 578.4 973.0 580.0 973.1 581.6 973.1 583.3 973.1 584.9 973.2 586.6 973.2 588.3 973.3 589.9 973.3 591.6 973.3 593.3 973.4 595.0 973.4 596.6 973.5 598.3 973.5 600.0 973.5 601.4 973.6 602.8 973.6 604.2 973.6 605.7 973.7 607.1 973.7 608.6 973.7 610.1 973.8 611.6 973.8 613.1 973.8 614.6 973.9 616.2 973.9 617.7 973.9 619.2 974.0 620.8 974.0 622.4 974.0 623.9 974.1 625.5 974.1 627.1 974.1 628.7 974.1 630.2 974.2 631.8 974.2 633.4 974.2 635.0 974.3 636.6 974.3 638.2 974.3 639.8 974.4 641.3 974.4 642.9 974.4 644.5 974.4 646.1 974.5 647.6 974.5 649.2 974.5 650.7 974.6 652.3 974.6 653.8 974.6 655.4 974.7 656.9 974.7 658.4 974.7 659.9 974.8 661.4 974.8 662.9 974.8 664.3 974.9 665.8 974.9 667.2 975.0 668.6 975.0 670.0 975.0 671.7 975.1 673.4 975.1 675.2 975.2 677.0 975.2 678.9 975.3 680.9 975.3 682.8 975.4 684.8 975.4 686.8 975.5 688.8 975.5 690.8 975.6 692.8 975.6 694.8 975.7 696.7 975.7 698.7 975.8 700.5 975.9 702.4 975.9 704.2 976.0 705.9 976.0 707.6 976.1 709.1 976.1 710.6 976.2 712.1 976.2 713.4 976.3 714.6 976.4 715.7 976.4 716.6 976.5 717.5 976.5 718.2 976.6 718.7 976.7 719.2 976.7 719.4 976.8 719.5 976.9 719.3 977.0 718.7 977.1 717.8 977.3 716.6 977.4 715.2 977.5 713.5 977.6 711.7 977.7 709.8 977.9 707.8 978.0 705.8 978.1 703.8 978.2 701.8 978.3 700.0 978.4 698.7 978.4 697.4 978.5 696.1 978.6 694.7 978.6 693.3 978.7 691.9 978.8 690.5 978.8 689.0 978.9 687.5 978.9 686.0 979.0 684.5 979.1 683.0 979.1 681.4 979.2 679.8 979.2 678.2 979.3 676.6 979.3 675.0 979.4 673.4 979.4 671.7 979.5 670.1 979.5 668.4 979.6 666.7 979.6 665.1 979.7 663.4 979.7 661.7 979.8 660.0 979.8 658.6 979.9 657.3 979.9 655.8 980.0 654.4 980.0 653.0 980.0 651.5 980.1 650.0 980.1 648.5 980.2 647.0 980.2 645.5 980.2 643.9 980.3 642.4 980.3 640.8 980.4 639.3 980.4 637.7 980.4 636.1 980.5 634.5 980.5 632.9 980.5 631.3 980.6 629.8 980.6 628.2 980.7 626.6 980.7 625.0 980.7 623.4 980.8 621.9 980.8 620.3 980.8 618.7 980.9 617.2 980.9 615.7 981.0 614.2 981.0 612.7 981.0 611.2 981.1 609.7 981.1 608.2 981.2 606.8 981.2 605.4 981.3 604.0 981.3 602.7 981.4 601.3 981.4 600.0 981.5 598.3 981.5 596.6 981.6 595.0 981.6 593.3 981.7 591.8 981.8 590.2 981.8 588.6 981.9 587.1 982.0 585.6 982.0 584.1 982.1 582.6 982.2 581.1 982.2 579.7 982.3 578.2 982.4 576.7 982.4 575.3 982.5 573.8 982.6 572.4 982.7 570.9 982.8 569.5 982.8 568.0 982.9 566.5 983.0 565.0 983.1 563.4 983.2 561.9 983.2 560.2 983.3 558.6 983.4 556.9 983.4 555.3 983.5 553.6 983.6 551.9 983.7 550.2 983.7 548.6 983.8 546.9 983.9 545.3 984.0 543.7 984.1 542.2 984.2 540.7 984.3 539.2 984.4 537.8 984.6 536.4 984.7 535.1 984.9 533.8 985.1 532.7 985.3 531.6 985.8 529.5 986.3 527.3 986.9 525.3 987.5 523.7 988.0 522.6 988.5 522.2 988.8 522.6 989.1 523.5 989.3 524.9 989.5 526.7 989.6 528.7 989.8 530.8 989.9 532.9 990.1 534.8 990.2 536.2 990.3 537.6 990.5 539.0 990.6 540.5 990.7 542.0 990.8 543.6 990.9 545.2 991.0 546.8 991.0 548.4 991.1 550.1 991.2 551.7 991.3 553.4 991.4 555.1 991.5 556.8 991.6 558.5 991.7 559.9 991.8 561.3 991.8 562.8 991.9 564.2 992.0 565.7 992.0 567.2 992.1 568.7 992.2 570.2 992.3 571.7 992.3 573.3 992.4 574.8 992.5 576.3 992.5 577.9 992.6 579.4 992.7 580.9 992.8 582.5 992.8 584.0 992.9 585.5 993.0 587.0 993.1 588.5 993.2 590.0 993.3 591.5 993.4 593.1 993.5 594.6 993.6 596.2 993.7 597.8 993.8 599.4 993.9 600.9 994.0 602.5 994.1 604.1 994.3 605.7 994.4 607.2 994.5 608.7 994.6 610.2 994.7 611.7 994.8 613.2 995.0 614.6 995.1 616.0 995.2 617.4 995.4 618.7 995.5 620.0 995.7 621.8 995.9 623.4 996.1 625.0 996.3 626.5 996.6 628.0 996.8 629.4 997.0 630.9 997.2 632.4 997.5 634.0 997.7 635.7 997.9 637.1 998.1 638.4 998.2 639.9 998.4 641.3 998.6 642.8 998.8 644.2 999.0 645.7 999.2 647.3 999.4 648.8 999.6 650.3 999.8 651.9 1000.0 653.4 1000.1 655.0 1000.3 656.6 1000.5 658.1 1000.7 659.7 1000.9 661.2 1001.0 662.9 1001.2 664.6 1001.3 666.5 1001.5 668.4 1001.7 670.4 1001.8 672.4 1002.0 674.4 1002.1 676.3 1002.3 678.2 1002.4 680.0 1002.6 681.7 1002.7 683.2 1002.9 684.6 1003.0 685.8 1003.2 686.8 1003.4 687.5 1003.5 687.9 1003.7 688.1 1003.9 687.9 1004.1 687.4 1004.3 686.5 1004.5 685.4 1004.7 684.0 1004.9 682.4 1005.2 680.7 1005.4 678.9 1005.6 676.9 1005.8 674.9 1006.0 673.0 1006.2 671.0 1006.4 669.1 1006.5 667.3 1006.7 665.7 1006.8 664.2 1007.0 662.7 1007.1 661.2 1007.2 659.7 1007.3 658.2 1007.4 656.6 1007.5 655.1 1007.6 653.5 1007.7 652.0 1007.8 650.4 1007.9 648.9 1008.0 647.4 1008.1 645.9 1008.2 644.4 1008.3 642.9 1008.4 641.4 1008.5 640.0 1008.6 638.4 1008.8 636.7 1008.9 635.1 1009.1 633.5 1009.2 631.9 1009.4 630.3 1009.5 628.7 1009.7 627.2 1009.8 625.7 1010.0 624.2 1010.2 622.8 1010.5 621.4 1010.7 620.0 1011.0 618.3 1011.4 616.8 1011.8 615.2 1012.2 613.8 1012.6 612.3 1013.0 610.9 1013.5 609.5 1013.9 608.0 1014.4 606.3 1014.9 604.7 1015.4 603.0 1016.0 601.4 1016.5 599.7 1017.1 598.2 1017.6 596.7 1018.2 595.1 1018.9 593.6 1019.5 592.1 1020.2 590.6 1020.8 589.1 1021.4 587.4 1022.0 585.7 1022.6 584.0 1023.2 582.4 1023.9 581.0 1024.7 579.6 1025.6 578.4 1026.5 577.2 1027.5 575.8 1028.5 574.5 1029.6 573.8 1031.2 574.3 1032.8 575.3 1034.7 576.6 1036.5 577.2 1037.4 576.4 1038.2 574.9 1039.1 573.4 1039.9 572.1 1040.8 570.8 1041.8 569.5 1042.8 568.3 1044.0 567.3 1045.2 566.4 1046.6 565.5 1047.9 564.6 1049.1 563.5 1050.4 562.2 1051.7 560.9 1053.0 559.9 1054.2 559.5 1055.7 560.1 1057.1 561.3 1058.6 562.0 1060.0 561.7 1061.5 561.0 1063.0 560.2 1064.7 559.3 1066.4 558.3 1068.0 557.6 1069.9 557.2 1071.8 557.4 1073.1 558.4 1074.4 559.8 1075.6 560.4 1076.7 559.2 1077.7 557.2 1078.7 556.1 1080.2 557.5 1081.9 559.1 1083.3 558.9 1085.0 558.2 1086.7 557.3 1088.2 556.6 1090.2 555.6 1092.0 555.1 1093.8 556.0 1095.7 557.0 1097.6 556.4 1099.5 555.7 1101.4 556.7 1103.3 557.6 1104.9 556.4 1106.5 555.4 1107.7 556.2 1109.0 558.0 1110.3 559.7 1111.5 560.4 1112.5 559.6 1113.5 558.1 1114.6 557.0 1116.1 556.6 1117.7 556.5 1119.1 557.0 1119.9 558.1 1120.6 559.9 1121.2 561.8 1121.7 563.3 1122.2 563.9 1122.8 562.5 1123.4 559.8 1124.1 558.3 1125.5 559.3 1127.2 561.4 1128.1 562.7 1129.0 564.3 1129.9 565.9 1130.8 567.1 1131.7 567.7 1132.9 567.0 1134.2 565.5 1135.4 564.6 1137.4 565.5 1138.6 566.5"/>
<path stroke="#56B4E9" d="M918.2 318.7L918.5 319.4 919.1 321.0 919.8 323.0 920.5 325.0 920.9 326.3 921.3 327.6 921.6 329.0 922.0 330.5 922.3 332.0 922.6 333.6 922.9 335.3 923.1 336.6 923.2 338.0 923.4 339.5 923.5 341.0 923.6 342.5 923.7 344.1 923.8 345.8 923.9 347.4 924.0 349.1 924.1 350.8 924.2 352.5 924.3 354.1 924.4 355.8 924.5 357.4 924.6 359.0 924.7 360.6 924.8 362.2 924.9 363.8 925.0 365.4 925.1 367.1 925.3 368.7 925.4 370.4 925.5 372.0 925.6 373.6 925.7 375.1 925.8 376.7 925.9 378.2 926.0 379.7 926.1 381.1 926.2 382.9 926.3 384.8 926.4 386.8 926.5 388.8 926.6 390.7 926.7 392.4 926.8 393.9 927.0 395.0 927.1 395.8 927.3 396.1 927.8 395.2 928.4 393.1 928.9 390.6 929.1 389.5 929.3 388.2 929.4 386.8 929.6 385.3 929.7 383.7 929.9 382.1 930.0 380.4 930.1 378.7 930.2 376.9 930.4 375.2 930.5 373.4 930.6 371.7 930.8 370.0 930.9 368.5 931.1 366.9 931.2 365.3 931.4 363.7 931.5 362.1 931.6 360.5 931.8 358.8 931.9 357.2 932.1 355.6 932.2 353.9 932.4 352.3 932.5 350.7 932.7 349.2 932.9 347.7 933.0 346.2 933.2 344.8 933.4 343.0 933.6 341.1 933.7 339.3 933.9 337.4 934.0 335.6 934.2 333.9 934.4 332.4 934.7 331.0 935.1 329.9 935.6 329.0 937.1 327.9 938.7 327.4 940.3 327.1 941.9 326.6 943.2 325.5 944.4 324.1 945.8 323.0 947.4 322.5 949.0 322.3 950.6 321.9 952.0 320.9 953.3 319.7 954.5 319.2 955.8 319.8 956.9 321.1 957.6 322.4 958.2 324.0 958.7 325.8 959.3 327.4 960.0 329.5 960.7 331.6 961.6 332.9 963.2 332.6 964.8 332.1 966.1 333.0 967.2 334.5 967.8 335.8 968.3 337.4 968.7 339.3 969.1 341.2 969.5 343.2 969.8 344.6 970.1 346.0 970.4 347.5 970.7 349.1 970.9 350.6 971.2 352.3 971.4 353.9 971.7 355.6 971.9 357.4 972.1 358.8 972.2 360.2 972.3 361.6 972.5 363.0 972.6 364.5 972.7 365.9 972.8 367.4 972.9 369.0 973.0 370.6 973.1 372.2 973.2 373.9 973.2 375.6 973.3 377.4 973.4 379.2 973.5 381.1 973.6 382.3 973.6 383.5 973.6 384.8 973.7 386.0 973.7 387.4 973.8 388.7 973.8 390.1 973.9 391.5 973.9 392.9 973.9 394.3 974.0 395.8 974.0 397.3 974.0 398.8 974.1 400.3 974.1 401.8 974.1 403.4 974.2 404.9 974.2 406.5 974.2 408.1 974.3 409.7 974.3 411.3 974.3 412.9 974.3 414.5 974.4 416.1 974.4 417.7 974.4 419.3 974.5 421.0 974.5 422.6 974.5 424.2 974.5 425.8 974.6 427.4 974.6 429.0 974.6 430.6 974.6 432.2 974.7 433.8 974.7 435.4 974.7 436.9 974.8 438.5 974.8 440.0 974.8 441.5 974.9 443.0 974.9 444.5 974.9 446.1 974.9 447.6 975.0 449.2 975.0 450.8 975.0 452.3 975.1 453.9 975.1 455.5 975.1 457.1 975.1 458.7 975.2 460.3 975.2 461.9 975.2 463.5 975.2 465.1 975.3 466.7 975.3 468.3 975.3 469.9 975.3 471.5 975.4 473.0 975.4 474.6 975.4 476.2 975.4 477.7 975.5 479.2 975.5 480.8 975.5 482.3 975.6 483.8 975.6 485.2 975.6 486.7 975.7 488.1 975.7 489.5 975.7 490.9 975.8 492.3 975.8 493.6 975.8 495.0 975.9 496.3 975.9 497.5 976.0 498.8 976.0 500.0 976.1 501.9 976.1 503.9 976.2 506.0 976.3 508.1 976.4 510.2 976.5 512.3 976.6 514.4 976.6 516.3 976.7 518.2 976.8 520.0 976.9 521.6 977.0 523.0 977.1 524.2 977.2 525.2 977.2 526.0 977.3 526.4 977.4 526.6 977.5 526.4 977.6 526.0 977.6 525.2 977.7 524.2 977.8 522.9 977.8 521.5 977.9 519.9 978.0 518.1 978.1 516.2 978.1 514.2 978.2 512.1 978.3 510.1 978.3 508.0 978.4 505.9 978.5 503.8 978.5 501.9 978.6 500.0 978.6 498.7 978.7 497.4 978.7 496.1 978.8 494.7 978.8 493.3 978.8 491.9 978.9 490.5 978.9 489.1 979.0 487.6 979.0 486.2 979.0 484.7 979.1 483.2 979.1 481.7 979.1 480.1 979.2 478.6 979.2 477.1 979.2 475.5 979.3 473.9 979.3 472.4 979.3 470.8 979.4 469.2 979.4 467.6 979.4 466.0 979.5 464.4 979.5 462.8 979.5 461.2 979.6 459.6 979.6 458.0 979.6 456.4 979.7 454.8 979.7 453.2 979.8 451.6 979.8 450.0 979.8 448.5 979.9 447.1 979.9 445.6 979.9 444.0 980.0 442.5 980.0 440.9 980.0 439.4 980.1 437.8 980.1 436.2 980.1 434.6 980.2 433.0 980.2 431.4 980.2 429.7 980.2 428.1 980.3 426.5 980.3 424.9 980.3 423.2 980.4 421.6 980.4 420.0 980.4 418.3 980.5 416.7 980.5 415.1 980.5 413.5 980.6 411.9 980.6 410.3 980.7 408.8 980.7 407.2 980.7 405.7 980.8 404.2 980.8 402.7 980.9 401.2 980.9 399.7 981.0 398.3 981.0 396.9 981.1 395.5 981.1 394.1 981.2 392.8 981.3 391.5 981.3 390.2 981.4 389.0 981.5 387.1 981.6 385.3 981.7 383.4 981.8 381.6 981.9 379.9 982.1 378.2 982.2 376.5 982.3 374.9 982.4 373.3 982.6 371.7 982.7 370.2 982.9 368.7 983.0 367.3 983.2 365.9 983.3 364.6 983.5 363.3 983.7 362.1 984.0 360.0 984.4 358.0 984.7 356.2 985.1 354.5 985.6 353.1 986.1 351.9 987.3 350.2 988.5 349.5 989.2 350.2 989.8 351.7 990.4 353.7 990.9 355.8 991.2 357.1 991.4 358.5 991.7 360.0 991.9 361.7 992.1 363.4 992.3 365.1 992.5 366.9 992.6 368.6 992.8 370.2 993.0 371.8 993.2 373.2 993.5 375.0 993.7 376.6 993.9 378.2 994.2 379.7 994.5 381.2 994.8 382.7 995.2 384.3 995.7 385.8 996.2 387.3 996.7 388.9 997.2 390.6 997.5 392.0 997.8 393.4 998.0 394.9 998.3 396.5 998.6 398.1 998.8 399.7 999.0 401.4 999.3 403.1 999.5 404.8 999.7 406.2 999.9 407.7 1000.1 409.3 1000.3 410.8 1000.5 412.4 1000.7 414.0 1000.8 415.6 1001.0 417.2 1001.2 418.8 1001.4 420.4 1001.6 422.1 1001.7 423.7 1001.9 425.3 1002.1 427.0 1002.2 428.8 1002.4 430.8 1002.5 432.9 1002.6 435.0 1002.8 437.1 1002.9 439.1 1003.1 441.0 1003.2 442.8 1003.3 444.3 1003.5 445.6 1003.7 446.6 1003.8 447.3 1004.0 447.5 1004.4 446.9 1004.8 445.3 1005.1 443.3 1005.5 441.1 1005.7 439.9 1005.8 438.6 1006.0 437.2 1006.1 435.7 1006.3 434.2 1006.4 432.6 1006.6 430.9 1006.7 429.2 1006.8 427.5 1007.0 425.8 1007.1 424.0 1007.3 422.3 1007.4 420.6 1007.5 419.2 1007.6 417.7 1007.8 416.2 1007.9 414.7 1008.0 413.1 1008.1 411.6 1008.2 410.0 1008.3 408.4 1008.4 406.8 1008.6 405.3 1008.7 403.7 1008.8 402.2 1009.0 400.6 1009.1 399.2 1009.3 397.7 1009.4 396.3 1009.6 395.0 1009.8 393.7 1010.1 391.9 1010.4 390.1 1010.7 388.4 1011.0 386.8 1011.4 385.2 1011.7 383.7 1012.1 382.2 1012.5 380.8 1013.0 379.5 1013.7 377.8 1014.4 376.3 1015.2 374.9 1016.1 373.6 1016.9 372.4 1018.6 370.9 1020.1 369.3 1020.7 368.1 1021.2 366.7 1021.6 365.2 1022.0 363.7 1022.5 362.1 1023.0 360.7 1023.5 359.1 1024.1 357.5 1024.7 355.9 1025.2 354.4 1025.8 353.1 1026.4 351.9 1027.5 350.0 1028.8 348.7 1030.5 348.4 1032.6 348.7 1034.3 349.2 1035.6 350.5 1036.7 351.4 1037.5 350.9 1038.2 349.7 1039.0 348.1 1039.9 346.3 1040.8 344.6 1041.8 343.2 1042.9 342.0 1044.2 341.0 1045.5 340.0 1046.8 339.2 1048.1 338.5 1049.6 338.0 1051.2 337.7 1052.9 337.4 1054.4 336.9 1055.7 336.1 1056.9 334.9 1058.2 333.7 1059.4 332.8 1060.7 332.2 1062.2 332.2 1063.8 332.7 1065.4 333.3 1067.0 333.7 1068.6 333.8 1070.2 333.9 1071.8 333.8 1073.4 333.7 1075.0 333.4 1076.6 333.1 1078.1 332.6 1079.7 332.2 1081.3 331.8 1082.9 331.4 1084.4 331.0 1086.0 330.6 1087.6 330.2 1089.1 329.8 1090.7 329.4 1092.3 329.0 1093.9 328.5 1095.5 328.0 1097.1 327.6 1098.7 327.4 1100.3 327.7 1101.9 328.3 1103.4 328.8 1105.0 329.0 1106.6 328.4 1108.2 327.3 1109.7 326.3 1111.3 325.8 1112.9 326.1 1114.5 326.9 1116.1 327.9 1117.6 329.0 1118.9 330.3 1120.1 331.9 1121.3 333.2 1122.4 333.7 1123.2 333.1 1123.9 331.7 1124.6 329.9 1125.4 328.1 1126.2 326.6 1127.1 325.8 1128.5 326.0 1130.1 327.1 1131.7 328.3 1133.4 329.0 1135.3 329.0 1137.4 328.7 1139.1 328.3 1139.8 328.1"/>
<path stroke="#E69F00" d="M904.4 92.6L905.3 92.8 907.4 93.4 909.5 93.9 911.2 94.2 913.0 94.4 914.5 95.0 915.6 96.1 916.5 97.5 917.4 99.0 918.2 100.4 919.0 101.9 919.8 103.5 920.5 105.3 920.9 106.6 921.3 108.0 921.6 109.5 921.9 111.0 922.2 112.6 922.4 114.3 922.7 116.1 922.9 117.9 923.1 119.2 923.2 120.6 923.3 122.1 923.4 123.6 923.6 125.2 923.7 126.7 923.7 128.4 923.8 130.0 923.9 131.7 924.0 133.3 924.1 135.0 924.1 136.7 924.2 138.3 924.3 140.0 924.4 141.6 924.5 143.2 924.6 144.8 924.7 146.4 924.8 148.0 924.9 149.6 925.0 151.2 925.1 152.8 925.2 154.4 925.3 156.0 925.4 157.6 925.5 159.2 925.6 160.8 925.7 162.4 925.8 164.0 925.9 165.5 926.0 167.0 926.1 168.5 926.2 170.2 926.3 172.1 926.3 174.0 926.4 176.0 926.5 178.0 926.5 180.0 926.6 181.9 926.7 183.6 926.8 185.1 926.9 186.4 927.0 187.3 927.1 188.0 927.2 188.2 927.6 187.3 928.0 185.2 928.4 182.7 928.5 181.6 928.7 180.4 928.8 179.0 928.9 177.6 929.0 176.0 929.1 174.4 929.2 172.7 929.3 171.0 929.4 169.3 929.5 167.5 929.5 165.8 929.6 164.0 929.8 162.3 929.9 160.6 930.0 159.0 930.1 157.4 930.3 155.8 930.4 154.3 930.6 152.7 930.7 151.1 930.9 149.5 931.1 147.9 931.2 146.4 931.4 144.8 931.6 143.2 931.7 141.6 931.9 140.0 932.1 138.5 932.2 136.9 932.4 135.3 932.6 133.7 932.7 132.0 932.8 130.3 933.0 128.6 933.1 126.8 933.2 125.1 933.4 123.3 933.5 121.6 933.7 120.0 933.8 118.4 934.0 116.8 934.2 115.4 934.4 114.0 934.6 112.7 934.8 111.6 935.3 109.7 935.8 108.1 936.4 106.6 937.1 105.3 938.2 103.7 939.6 102.3 941.1 101.3 942.5 101.0 944.1 101.1 945.8 101.3 947.4 101.3 949.4 100.8 951.3 100.2 952.9 100.2 954.2 101.4 955.3 102.9 956.9 103.6 958.5 104.5 959.4 105.8 960.1 107.5 960.8 109.3 961.6 110.8 962.7 111.9 963.8 112.9 964.8 114.0 965.7 115.4 966.5 116.9 967.2 118.7 967.6 119.9 967.9 121.2 968.2 122.6 968.5 124.1 968.7 125.6 969.0 127.3 969.2 128.9 969.5 130.6 969.7 132.0 969.9 133.4 970.1 134.9 970.3 136.3 970.5 137.9 970.7 139.4 970.9 141.0 971.1 142.6 971.3 144.3 971.4 145.9 971.6 147.6 971.7 149.4 971.9 151.1 972.0 152.4 972.1 153.8 972.2 155.1 972.3 156.5 972.4 157.9 972.5 159.3 972.6 160.7 972.7 162.1 972.7 163.5 972.8 165.0 972.9 166.5 972.9 168.0 973.0 169.5 973.1 171.0 973.1 172.6 973.2 174.2 973.3 175.8 973.3 177.5 973.4 179.2 973.4 180.9 973.5 182.7 973.5 184.0 973.6 185.2 973.6 186.5 973.7 187.9 973.7 189.2 973.7 190.6 973.8 192.0 973.8 193.4 973.8 194.8 973.8 196.3 973.9 197.7 973.9 199.2 973.9 200.7 973.9 202.2 974.0 203.7 974.0 205.3 974.0 206.8 974.0 208.4 974.1 209.9 974.1 211.5 974.1 213.1 974.1 214.7 974.1 216.3 974.1 217.9 974.2 219.5 974.2 221.1 974.2 222.7 974.2 224.4 974.2 226.0 974.3 227.6 974.3 229.2 974.3 230.9 974.3 232.5 974.3 234.1 974.3 235.7 974.4 237.3 974.4 239.0 974.4 240.6 974.4 242.1 974.4 243.7 974.4 245.3 974.5 246.9 974.5 248.4 974.5 250.0 974.5 251.5 974.5 253.0 974.6 254.6 974.6 256.1 974.6 257.7 974.6 259.2 974.6 260.8 974.6 262.4 974.7 263.9 974.7 265.5 974.7 267.1 974.7 268.7 974.7 270.3 974.7 271.9 974.8 273.5 974.8 275.1 974.8 276.7 974.8 278.3 974.8 279.9 974.8 281.5 974.9 283.1 974.9 284.6 974.9 286.2 974.9 287.8 974.9 289.4 974.9 290.9 975.0 292.5 975.0 294.1 975.0 295.6 975.0 297.1 975.0 298.7 975.0 300.2 975.1 301.7 975.1 303.2 975.1 304.7 975.1 306.2 975.1 307.6 975.1 309.1 975.2 310.5 975.2 311.9 975.2 313.3 975.2 314.7 975.2 316.0 975.3 317.4 975.3 318.7 975.3 320.0 975.3 321.8 975.4 323.7 975.4 325.6 975.4 327.6 975.4 329.6 975.5 331.7 975.5 333.7 975.5 335.8 975.6 337.8 975.6 339.8 975.6 341.8 975.7 343.7 975.7 345.6 975.7 347.4 975.8 349.0 975.8 350.6 975.8 352.1 975.9 353.5 975.9 354.7 975.9 355.7 976.0 356.6 976.0 357.3 976.0 357.9 976.1 358.2 976.1 358.3 976.1 358.1 976.2 357.7 976.2 357.0 976.3 356.1 976.3 354.9 976.4 353.5 976.4 352.0 976.5 350.3 976.5 348.5 976.6 346.5 976.6 344.5 976.7 342.5 976.7 340.4 976.8 338.2 976.8 336.1 976.9 334.0 976.9 332.0 977.0 330.0 977.0 328.8 977.1 327.6 977.1 326.3 977.1 325.0 977.2 323.6 977.2 322.3 977.2 320.9 977.3 319.4 977.3 318.0 977.3 316.5 977.3 315.0 977.4 313.5 977.4 311.9 977.4 310.4 977.5 308.8 977.5 307.2 977.5 305.6 977.6 304.0 977.6 302.3 977.6 300.7 977.7 299.0 977.7 297.4 977.7 295.7 977.8 294.1 977.8 292.4 977.8 290.7 977.9 289.1 977.9 287.4 977.9 285.8 978.0 284.1 978.0 282.5 978.0 280.9 978.1 279.3 978.1 277.7 978.1 276.1 978.2 274.5 978.2 272.9 978.2 271.4 978.3 269.9 978.3 268.4 978.3 266.9 978.4 265.5 978.4 264.1 978.4 262.7 978.5 261.3 978.5 260.0 978.5 258.3 978.6 256.6 978.6 254.9 978.7 253.2 978.7 251.6 978.8 250.0 978.8 248.4 978.9 246.8 978.9 245.3 979.0 243.7 979.0 242.2 979.1 240.7 979.1 239.2 979.2 237.7 979.2 236.2 979.3 234.8 979.3 233.3 979.4 231.8 979.4 230.4 979.5 228.9 979.5 227.4 979.6 226.0 979.6 224.5 979.7 223.0 979.7 221.5 979.8 220.0 979.9 218.4 979.9 216.8 980.0 215.2 980.0 213.6 980.1 212.0 980.2 210.4 980.2 208.8 980.3 207.2 980.4 205.6 980.4 204.1 980.5 202.5 980.6 200.9 980.6 199.3 980.7 197.7 980.8 196.2 980.8 194.6 980.9 193.1 981.0 191.6 981.0 190.1 981.1 188.5 981.2 187.1 981.3 185.6 981.3 184.1 981.4 182.7 981.5 181.0 981.6 179.3 981.6 177.6 981.7 175.9 981.8 174.2 981.8 172.5 981.9 170.8 982.0 169.2 982.0 167.5 982.1 165.9 982.2 164.4 982.3 162.8 982.4 161.3 982.5 159.9 982.6 158.5 982.8 157.1 982.9 155.8 983.1 154.0 983.4 152.3 983.7 150.7 984.0 149.1 984.3 147.7 984.7 146.2 985.0 144.7 985.3 143.2 985.6 141.5 985.9 139.8 986.3 138.1 986.6 136.5 986.9 134.9 987.3 133.4 987.7 132.1 988.4 130.0 989.1 128.2 990.1 127.1 991.6 127.0 993.3 127.5 994.8 128.2 995.9 129.2 996.7 130.6 997.1 131.6 997.4 132.9 997.6 134.3 997.8 135.9 998.0 137.6 998.2 139.3 998.4 141.2 998.6 143.0 998.8 144.8 999.0 146.2 999.1 147.7 999.3 149.2 999.5 150.7 999.6 152.3 999.8 153.9 999.9 155.5 1000.1 157.1 1000.2 158.8 1000.4 160.4 1000.5 162.1 1000.7 163.7 1000.8 165.3 1001.0 166.9 1001.1 168.5 1001.2 170.1 1001.4 171.7 1001.5 173.3 1001.6 174.9 1001.7 176.4 1001.9 178.0 1002.0 179.6 1002.1 181.2 1002.2 182.7 1002.3 184.3 1002.4 185.9 1002.5 187.4 1002.6 189.0 1002.7 190.6 1002.8 192.3 1002.9 194.1 1002.9 196.1 1003.0 198.2 1003.1 200.3 1003.2 202.4 1003.2 204.4 1003.3 206.3 1003.3 208.1 1003.4 209.6 1003.5 210.9 1003.6 211.9 1003.7 212.5 1003.8 212.7 1004.0 212.3 1004.2 211.1 1004.4 209.5 1004.7 207.5 1004.9 205.3 1005.1 203.2 1005.2 202.0 1005.3 200.7 1005.4 199.3 1005.6 197.9 1005.7 196.3 1005.8 194.8 1005.9 193.1 1006.0 191.5 1006.1 189.8 1006.2 188.1 1006.3 186.4 1006.4 184.6 1006.5 182.9 1006.7 181.2 1006.8 179.6 1006.9 177.9 1007.0 176.3 1007.1 174.8 1007.2 173.1 1007.3 171.5 1007.5 169.9 1007.6 168.2 1007.7 166.6 1007.8 165.0 1007.9 163.4 1008.0 161.8 1008.2 160.2 1008.3 158.6 1008.4 157.1 1008.6 155.6 1008.7 154.1 1008.8 152.6 1009.0 151.1 1009.2 149.4 1009.4 147.7 1009.5 146.0 1009.7 144.3 1009.9 142.7 1010.1 141.1 1010.3 139.5 1010.6 138.0 1010.8 136.5 1011.1 135.1 1011.4 133.7 1011.8 131.9 1012.3 130.2 1012.8 128.6 1013.4 127.1 1014.0 125.6 1014.6 124.2 1015.5 122.5 1016.5 121.0 1017.5 119.4 1018.5 117.9 1019.4 116.4 1020.2 114.8 1020.9 113.2 1021.7 111.6 1022.3 110.1 1023.0 108.5 1023.6 106.9 1024.2 105.3 1024.8 103.7 1025.4 102.0 1025.9 100.1 1026.5 98.3 1027.1 96.9 1027.8 96.1 1028.9 96.3 1030.2 96.8 1032.1 96.3 1034.2 95.5 1035.9 95.2 1037.8 95.1 1039.5 95.1 1041.6 95.8 1043.5 96.1 1044.8 94.9 1046.2 93.5 1047.6 92.9 1049.2 92.4 1051.1 92.1 1052.8 92.0 1054.3 92.1 1055.8 93.1 1057.0 94.4 1058.3 95.1 1059.6 94.3 1061.0 92.8 1062.3 92.1 1063.3 92.9 1064.3 94.4 1065.3 96.0 1066.3 96.8 1067.6 96.1 1069.0 94.8 1070.3 94.1 1071.3 94.9 1072.3 96.4 1073.3 98.0 1074.3 98.8 1075.6 98.4 1077.0 97.5 1078.5 96.8 1080.2 96.0 1082.0 95.3 1083.7 95.1 1085.5 95.6 1087.3 96.7 1089.1 97.5 1090.9 97.8 1092.7 97.9 1094.4 98.2 1096.5 99.5 1098.4 100.2 1099.4 99.4 1100.3 97.9 1101.3 96.4 1102.4 95.5 1104.1 95.9 1106.0 97.0 1107.8 97.5 1109.4 96.7 1110.9 95.2 1112.4 93.8 1113.8 93.2 1115.0 93.9 1116.1 95.3 1117.2 96.8 1118.2 98.2 1119.2 100.0 1120.2 101.7 1121.1 103.0 1121.9 103.5 1122.6 102.4 1123.0 100.1 1123.9 98.2 1125.3 97.1 1127.0 96.2 1128.9 95.6 1130.6 95.5 1132.1 96.3 1133.5 97.8 1134.8 99.3 1136.0 100.2 1137.7 100.2 1138.6 99.9"/>
</g>
<path d="M1004.2 82V748" stroke="#000" stroke-width="1.4" stroke-dasharray="7.2 8.2" fill="none"/>
<g font-family="'Liberation Sans', Arial, Helvetica, sans-serif" fill="#000">
<text x="1025.3" y="137.6" font-size="30">PP</text>
<text x="1012.1" y="309.3" font-size="25.7">PP/2% hBN</text>
<text x="1005.8" y="544" font-size="25.5">PP/18% hBN</text>
<g font-weight="bold">
<text x="1038.4" y="695.7" font-size="25.6">817 cm</text>
<text x="1125.6" y="685.3" font-size="16">-1</text>
<g font-size="25">
<text transform="translate(1218 176.4) rotate(-90)" text-anchor="middle" font-size="25.9">Pristine PP</text>
<text transform="translate(1250.3 176.8) rotate(-90)" text-anchor="middle" font-size="25.8">(symmetrical peak)</text>
<text transform="translate(1233 522) rotate(-90)" text-anchor="middle">PP+ hBN</text>
<text transform="translate(1264 522) rotate(-90)" text-anchor="middle">(asymmetrical peaks)</text>
</g></g></g>
<g stroke="#000" stroke-width="2" fill="none">
<path d="M1177.7 149.8L1030 174.5"/>
<path d="M1203.5 523.5L1030 411"/>
<path d="M1203.5 523.5L1030 632"/>
</g>
<g fill="#000">
<path d="M1013.1 176.8L1037.1 163.9L1033.8 173.3L1039.6 182.1Z"/>
<path d="M1017.7 403.7L1044.2 410.7L1035 414.5L1032.9 426Z"/>
<path d="M1018.9 643.8L1036 623L1036.5 632.5L1045 638.3Z"/>
</g>
</svg></body></html>
